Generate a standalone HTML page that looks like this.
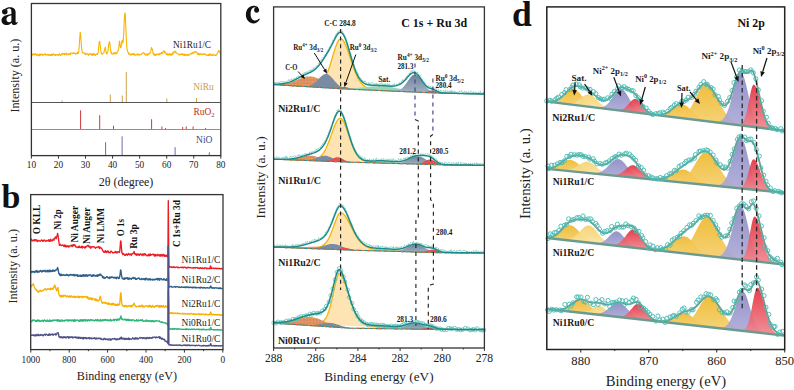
<!DOCTYPE html>
<html><head><meta charset="utf-8"><title>XPS</title>
<style>
html,body{margin:0;padding:0;background:#fff;width:794px;height:390px;overflow:hidden;}
svg{display:block;}
text{font-family:"Liberation Serif",serif;}
</style></head><body>
<svg width="794" height="390" viewBox="0 0 794 390">
<path d="M31.4 54.44 L31.8 54.1 L32.2 55.1 L32.6 53.94 L33 54.87 L33.4 54.53 L33.8 53.91 L34.2 54.81 L34.6 53.87 L35 54.66 L35.4 53.93 L35.8 53.97 L36.2 54.64 L36.6 55.45 L37 54.04 L37.4 54.24 L37.8 55.05 L38.2 55.69 L38.6 54.95 L39 54.59 L39.4 55.75 L39.8 53.89 L40.2 55.51 L40.6 54.37 L41 54.08 L41.4 54.03 L41.8 54.41 L42.2 55.42 L42.6 54.15 L43 54.95 L43.4 55.07 L43.8 54.53 L44.2 54.89 L44.6 53.91 L45 53.91 L45.4 54.2 L45.8 55.15 L46.2 54.64 L46.6 54.41 L47 54.96 L47.4 54.69 L47.8 54.38 L48.2 55.37 L48.6 55.18 L49 54.27 L49.4 54.93 L49.8 54.83 L50.2 55.52 L50.6 55.23 L51 54.34 L51.4 55.72 L51.8 54 L52.2 54.59 L52.6 55.27 L53 54.05 L53.4 54.72 L53.8 53.81 L54.2 55.06 L54.6 55.25 L55 54.86 L55.4 55.45 L55.8 54.32 L56.2 55.07 L56.6 54.86 L57 54.82 L57.4 54.56 L57.8 55.31 L58.2 55.5 L58.6 54.55 L59 54.91 L59.4 53.68 L59.8 54.94 L60.2 54.81 L60.6 55.48 L61 55.12 L61.4 54.02 L61.8 54.19 L62.2 54.73 L62.6 53.41 L63 54.26 L63.4 53.64 L63.8 53.51 L64.2 53.36 L64.6 54.74 L65 53.43 L65.4 53.63 L65.8 53.88 L66.2 54.81 L66.6 53.19 L67 53.89 L67.4 54.06 L67.8 54.69 L68.2 54.53 L68.6 54.58 L69 53.38 L69.4 53.62 L69.8 53.47 L70.2 54.49 L70.6 54.61 L71 52.97 L71.4 52.99 L71.8 53.08 L72.2 53.05 L72.6 53.53 L73 53.72 L73.4 53.05 L73.8 52.51 L74.2 53.32 L74.6 53.2 L75 53.57 L75.4 54.33 L75.8 53.77 L76.2 53.39 L76.6 53.55 L77 53.61 L77.4 52.28 L77.8 53.8 L78.2 53.12 L78.6 52.11 L79 49.14 L79.4 43.27 L79.8 36.97 L80.2 32.2 L80.6 34.83 L81 39.55 L81.4 45.58 L81.8 49.84 L82.2 51.69 L82.6 52.83 L83 52.58 L83.4 52.64 L83.8 53.06 L84.2 53.05 L84.6 53.65 L85 53.04 L85.4 54.79 L85.8 54.33 L86.2 53.44 L86.6 53.69 L87 53.92 L87.4 53.99 L87.8 53.54 L88.2 55.03 L88.6 55.35 L89 54.32 L89.4 54.38 L89.8 53.61 L90.2 53.66 L90.6 54.16 L91 54.02 L91.4 55.16 L91.8 53.84 L92.2 53.58 L92.6 55.44 L93 54.6 L93.4 53.84 L93.8 54.64 L94.2 53.6 L94.6 54.6 L95 55.49 L95.4 55.24 L95.8 54.88 L96.2 53.97 L96.6 54.12 L97 53.61 L97.4 54.58 L97.8 53.44 L98.2 52.31 L98.6 48.28 L99 43.75 L99.4 41.35 L99.8 41.7 L100.2 44.99 L100.6 49.2 L101 52.34 L101.4 53.78 L101.8 53.4 L102.2 54.19 L102.6 53.93 L103 53.23 L103.4 53 L103.8 52.81 L104.2 51.23 L104.6 49.76 L105 48.23 L105.4 47.19 L105.8 50.18 L106.2 52.56 L106.6 53.95 L107 53.32 L107.4 52.89 L107.8 51.99 L108.2 49.77 L108.6 46.19 L109 43.01 L109.4 41.61 L109.8 43.36 L110.2 46.58 L110.6 50.45 L111 52.84 L111.4 52.32 L111.8 53.77 L112.2 54.33 L112.6 54.06 L113 53.94 L113.4 53.34 L113.8 52.67 L114.2 53.82 L114.6 52.83 L115 53.69 L115.4 53.95 L115.8 52.73 L116.2 52.66 L116.6 53.68 L117 53.13 L117.4 51.86 L117.8 51.36 L118.2 50.3 L118.6 49.43 L119 45.63 L119.4 41.12 L119.8 42.38 L120.2 45.54 L120.6 47.65 L121 47.5 L121.4 45.77 L121.8 41.83 L122.2 40.16 L122.6 42.93 L123 42.46 L123.4 38.92 L123.8 32.42 L124.2 21.87 L124.6 14.77 L125 12.76 L125.4 17.06 L125.8 26.76 L126.2 36.45 L126.6 43.64 L127 48.85 L127.4 50.61 L127.8 52.13 L128.2 52.19 L128.6 54.13 L129 53.3 L129.4 53.73 L129.8 54.16 L130.2 54.94 L130.6 54.08 L131 55.16 L131.4 54.39 L131.8 54.51 L132.2 54.53 L132.6 53.55 L133 54.42 L133.4 53.92 L133.8 53.58 L134.2 55.19 L134.6 53.95 L135 54.56 L135.4 55.07 L135.8 54.74 L136.2 54.28 L136.6 54.67 L137 54.75 L137.4 55.21 L137.8 53.85 L138.2 54.75 L138.6 54.12 L139 54.15 L139.4 55.11 L139.8 54.52 L140.2 54.53 L140.6 54.78 L141 54.88 L141.4 53.69 L141.8 53.73 L142.2 53.21 L142.6 52.96 L143 53.14 L143.4 52.62 L143.8 52.89 L144.2 53.01 L144.6 54.23 L145 54.05 L145.4 54.68 L145.8 55.03 L146.2 53.84 L146.6 54.55 L147 55.38 L147.4 55.21 L147.8 53.82 L148.2 53.78 L148.6 54.38 L149 53.56 L149.4 53.68 L149.8 52.88 L150.2 53.16 L150.6 51.96 L151 50.42 L151.4 47.45 L151.8 48.2 L152.2 49.12 L152.6 49.81 L153 52.94 L153.4 54.29 L153.8 53.46 L154.2 55.25 L154.6 54.28 L155 54.52 L155.4 55.56 L155.8 55.27 L156.2 53.94 L156.6 54.49 L157 54.66 L157.4 54.3 L157.8 54.01 L158.2 54.24 L158.6 55.02 L159 53.57 L159.4 54.57 L159.8 54.23 L160.2 53.23 L160.6 53.66 L161 53.98 L161.4 53.43 L161.8 52.17 L162.2 53.63 L162.6 52.87 L163 52.93 L163.4 51.01 L163.8 51.29 L164.2 50.95 L164.6 52.69 L165 52.01 L165.4 52.11 L165.8 53.07 L166.2 54.4 L166.6 54.51 L167 53.62 L167.4 53.58 L167.8 55.25 L168.2 54.64 L168.6 54.96 L169 53.77 L169.4 53.72 L169.8 54.99 L170.2 54.47 L170.6 53.75 L171 55.46 L171.4 54.8 L171.8 55.02 L172.2 53.39 L172.6 54.61 L173 52.55 L173.4 53.53 L173.8 52.05 L174.2 51.24 L174.6 51.37 L175 52.22 L175.4 51.37 L175.8 51.74 L176.2 53.19 L176.6 53.17 L177 53.32 L177.4 53.68 L177.8 53.61 L178.2 54 L178.6 54.27 L179 54.28 L179.4 55.2 L179.8 54.27 L180.2 54.7 L180.6 54.06 L181 54.41 L181.4 53.75 L181.8 54.22 L182.2 53.75 L182.6 55.19 L183 54.83 L183.4 54.1 L183.8 54.68 L184.2 55.59 L184.6 53.94 L185 55.36 L185.4 54.59 L185.8 54.71 L186.2 55.38 L186.6 54.5 L187 54.72 L187.4 55.07 L187.8 55.65 L188.2 54.36 L188.6 55.31 L189 55.03 L189.4 54.84 L189.8 54.32 L190.2 54.12 L190.6 53.42 L191 53.43 L191.4 53.13 L191.8 54.26 L192.2 53.04 L192.6 52.57 L193 52.12 L193.4 53.35 L193.8 53.14 L194.2 52.52 L194.6 51.6 L195 51.47 L195.4 51.62 L195.8 52.1 L196.2 51.71 L196.6 52.56 L197 52.48 L197.4 54.17 L197.8 54.47 L198.2 53.87 L198.6 53.49 L199 55.11 L199.4 53.94 L199.8 54.15 L200.2 53.52 L200.6 54.34 L201 54.57 L201.4 54.66 L201.8 54.08 L202.2 54.71 L202.6 53.72 L203 54.25 L203.4 53.9 L203.8 54.53 L204.2 53.82 L204.6 53.78 L205 54.35 L205.4 54.21 L205.8 54.92 L206.2 54.81 L206.6 55.25 L207 55.07 L207.4 55.19 L207.8 55.51 L208.2 54.54 L208.6 54.41 L209 55.73 L209.4 54.06 L209.8 55.21 L210.2 55.05 L210.6 53.85 L211 55.43 L211.4 55.54 L211.8 55.01 L212.2 55.22 L212.6 55.38 L213 54.03 L213.4 54.79 L213.8 54.75 L214.2 55.4 L214.6 55.34 L215 55.37 L215.4 54.87 L215.8 55.46 L216.2 55 L216.6 54.92 L217 53.77 L217.4 52.92 L217.8 52.38 L218.2 51.85 L218.6 50.4 L219 51.46 L219.4 51.31 L219.8 52.38 L220.2 53.37 L220.6 54.23" fill="none" stroke="#f8b400" stroke-width="1.1" stroke-linejoin="round"/>
<line x1="62.2" y1="102.5" x2="62.2" y2="100.5" stroke="#cfa048" stroke-width="1"/>
<line x1="110.3" y1="102.5" x2="110.3" y2="94.5" stroke="#cfa048" stroke-width="1"/>
<line x1="122.3" y1="102.5" x2="122.3" y2="95.5" stroke="#cfa048" stroke-width="1"/>
<line x1="126.3" y1="102.5" x2="126.3" y2="72.1" stroke="#cfa048" stroke-width="1"/>
<line x1="166.8" y1="102.5" x2="166.8" y2="98.5" stroke="#cfa048" stroke-width="1"/>
<line x1="196.5" y1="102.5" x2="196.5" y2="98" stroke="#cfa048" stroke-width="1"/>
<line x1="208" y1="102.5" x2="208" y2="101.5" stroke="#cfa048" stroke-width="1"/>
<line x1="80.6" y1="129.5" x2="80.6" y2="110.3" stroke="#cc3a3a" stroke-width="1"/>
<line x1="99.7" y1="129.5" x2="99.7" y2="115.2" stroke="#cc3a3a" stroke-width="1"/>
<line x1="113.5" y1="129.5" x2="113.5" y2="125.8" stroke="#cc3a3a" stroke-width="1"/>
<line x1="151.6" y1="129.5" x2="151.6" y2="119.2" stroke="#cc3a3a" stroke-width="1"/>
<line x1="161.9" y1="129.5" x2="161.9" y2="126.5" stroke="#cc3a3a" stroke-width="1"/>
<line x1="165.6" y1="129.5" x2="165.6" y2="128" stroke="#cc3a3a" stroke-width="1"/>
<line x1="182.7" y1="129.5" x2="182.7" y2="127" stroke="#cc3a3a" stroke-width="1"/>
<line x1="186.2" y1="129.5" x2="186.2" y2="126.5" stroke="#cc3a3a" stroke-width="1"/>
<line x1="193.1" y1="129.5" x2="193.1" y2="126.5" stroke="#cc3a3a" stroke-width="1"/>
<line x1="205.6" y1="129.5" x2="205.6" y2="128" stroke="#cc3a3a" stroke-width="1"/>
<line x1="105.6" y1="155.3" x2="105.6" y2="142.2" stroke="#6a70a8" stroke-width="1"/>
<line x1="122.1" y1="155.3" x2="122.1" y2="136.3" stroke="#6a70a8" stroke-width="1"/>
<line x1="175.1" y1="155.3" x2="175.1" y2="147.2" stroke="#6a70a8" stroke-width="1"/>
<line x1="209.3" y1="155.3" x2="209.3" y2="152.3" stroke="#6a70a8" stroke-width="1"/>
<line x1="31.4" y1="102.5" x2="220.8" y2="102.5" stroke="#555" stroke-width="1"/>
<line x1="31.4" y1="129.5" x2="220.8" y2="129.5" stroke="#8a8ea6" stroke-width="1"/>
<rect x="31.4" y="3.5" width="189.4" height="152.1" fill="none" stroke="#333" stroke-width="1.3"/>
<line x1="31.4" y1="155.6" x2="31.4" y2="158.6" stroke="#333" stroke-width="1"/>
<text x="31.4" y="167.6" font-size="9.3" text-anchor="middle" font-weight="normal" fill="#222" >10</text>
<line x1="58.46" y1="155.6" x2="58.46" y2="158.6" stroke="#333" stroke-width="1"/>
<text x="58.46" y="167.6" font-size="9.3" text-anchor="middle" font-weight="normal" fill="#222" >20</text>
<line x1="85.51" y1="155.6" x2="85.51" y2="158.6" stroke="#333" stroke-width="1"/>
<text x="85.51" y="167.6" font-size="9.3" text-anchor="middle" font-weight="normal" fill="#222" >30</text>
<line x1="112.57" y1="155.6" x2="112.57" y2="158.6" stroke="#333" stroke-width="1"/>
<text x="112.57" y="167.6" font-size="9.3" text-anchor="middle" font-weight="normal" fill="#222" >40</text>
<line x1="139.63" y1="155.6" x2="139.63" y2="158.6" stroke="#333" stroke-width="1"/>
<text x="139.63" y="167.6" font-size="9.3" text-anchor="middle" font-weight="normal" fill="#222" >50</text>
<line x1="166.69" y1="155.6" x2="166.69" y2="158.6" stroke="#333" stroke-width="1"/>
<text x="166.69" y="167.6" font-size="9.3" text-anchor="middle" font-weight="normal" fill="#222" >60</text>
<line x1="193.74" y1="155.6" x2="193.74" y2="158.6" stroke="#333" stroke-width="1"/>
<text x="193.74" y="167.6" font-size="9.3" text-anchor="middle" font-weight="normal" fill="#222" >70</text>
<line x1="220.8" y1="155.6" x2="220.8" y2="158.6" stroke="#333" stroke-width="1"/>
<text x="220.8" y="167.6" font-size="9.3" text-anchor="middle" font-weight="normal" fill="#222" >80</text>
<text x="126" y="186" font-size="12" text-anchor="middle" font-weight="normal" fill="#222" >2&#952; (degree)</text>
<text x="173" y="47.5" font-size="9.5" text-anchor="start" font-weight="normal" fill="#222" textLength="38" lengthAdjust="spacingAndGlyphs" >Ni1Ru1/C</text>
<text x="193.3" y="90" font-size="9.5" text-anchor="start" font-weight="normal" fill="#c8a050" textLength="20.4" lengthAdjust="spacingAndGlyphs" >NiRu</text>
<text x="193.5" y="115.2" font-size="10" text-anchor="start" font-weight="normal" fill="#b82c2c" textLength="21" lengthAdjust="spacingAndGlyphs" >RuO<tspan font-size="7" dy="2.2">2</tspan></text>
<text x="196" y="143.3" font-size="9.8" text-anchor="start" font-weight="normal" fill="#464c78" textLength="16.5" lengthAdjust="spacingAndGlyphs" >NiO</text>
<path fill-rule="evenodd" fill="#111" d="M4.6 9.2 C6.2 7.9 8.0 7.3 9.6 7.3 C13.6 7.3 15.6 9.2 15.6 12.5 L15.6 21.2 C15.6 22.2 15.9 22.6 16.5 22.6 C16.9 22.6 17.2 22.4 17.5 22.1 L17.9 22.6 C17.0 24.3 15.8 25.1 14.4 25.1 C12.8 25.1 11.8 24.1 11.5 22.7 C10.3 24.2 8.7 25.1 6.6 25.1 C3.6 25.1 1.5 23.0 1.5 20.3 C1.5 17.6 3.4 15.9 7.0 15.0 L11.4 13.9 L11.4 11.8 C11.4 9.7 10.6 8.6 9.2 8.6 C8.2 8.6 7.5 9.0 7.0 9.7 Z M11.4 15.3 L11.4 21.0 C10.8 21.9 10.0 22.3 9.2 22.3 C7.6 22.3 6.4 21.2 6.4 19.3 C6.4 17.5 7.6 16.3 11.4 15.3 Z"/><circle cx="4.8" cy="11.7" r="2.75" fill="#111"/>
<text transform="translate(18.6 75.6) rotate(-90)" font-size="12.2" text-anchor="middle" fill="#222" textLength="73.8" lengthAdjust="spacingAndGlyphs">Intensity (a. u.)</text>
<path d="M31 240.18 L31.45 239.23 L31.9 240.84 L32.35 240.77 L32.8 240.31 L33.25 240.4 L33.7 240.67 L34.15 239.51 L34.6 240.88 L35.05 239.93 L35.5 239.6 L35.95 240.01 L36.4 240.96 L36.85 239.94 L37.3 241.04 L37.75 241.53 L38.2 240.59 L38.65 240.4 L39.1 240.62 L39.55 241.05 L40 241.24 L40.45 240.97 L40.9 241.05 L41.35 239.94 L41.8 240.11 L42.25 240.34 L42.7 241.35 L43.15 240.5 L43.6 241.05 L44.05 239.96 L44.5 240.08 L44.95 240.52 L45.4 241.28 L45.85 241.27 L46.3 241.18 L46.75 240.35 L47.2 240.74 L47.65 240.58 L48.1 240.53 L48.55 239.77 L49 241.27 L49.45 239.82 L49.9 241.32 L50.35 241.17 L50.8 239.28 L51.25 240.1 L51.7 240.75 L52.15 240.99 L52.6 239.88 L53.05 239.43 L53.5 239.17 L53.95 240.36 L54.4 238.39 L54.85 238.42 L55.3 236.94 L55.75 237.61 L56.2 238.71 L56.65 236.62 L57.1 236 L57.55 233.36 L58 234.98 L58.45 238.78 L58.9 241.65 L59.35 245.19 L59.8 245.26 L60.25 244.46 L60.7 244.49 L61.15 245.52 L61.6 245.49 L62.05 245.24 L62.5 244.96 L62.95 245.41 L63.4 245.4 L63.85 246.49 L64.3 244.85 L64.75 246.38 L65.2 246.6 L65.65 245.2 L66.1 246.85 L66.55 246.45 L67 246.87 L67.45 245.68 L67.9 245.88 L68.35 245.95 L68.8 247.19 L69.25 246.4 L69.7 245.96 L70.15 246.1 L70.6 245.77 L71.05 245.26 L71.5 245.25 L71.95 246.56 L72.4 245.25 L72.85 246.32 L73.3 244.75 L73.75 244.67 L74.2 245.18 L74.65 244.7 L75.1 245.32 L75.55 246.78 L76 246.92 L76.45 247.01 L76.9 246.83 L77.35 247.53 L77.8 247.68 L78.25 246.97 L78.7 247.36 L79.15 246.06 L79.6 247.46 L80.05 246.94 L80.5 247.57 L80.95 247.39 L81.4 246.7 L81.85 246.26 L82.3 248.05 L82.75 246.47 L83.2 247.19 L83.65 246.95 L84.1 246.86 L84.55 247.72 L85 248.13 L85.45 246.59 L85.9 247.22 L86.35 246.28 L86.8 246.53 L87.25 245.97 L87.7 245.36 L88.15 245.32 L88.6 245.53 L89.05 247.14 L89.5 246.58 L89.95 246.28 L90.4 247.86 L90.85 248.2 L91.3 247.22 L91.75 246.66 L92.2 246.81 L92.65 246.62 L93.1 247.14 L93.55 246.64 L94 246.94 L94.45 246.98 L94.9 247.61 L95.35 248.24 L95.8 247.97 L96.25 247.29 L96.7 247.29 L97.15 247.51 L97.6 247.21 L98.05 247.12 L98.5 246.55 L98.95 246.91 L99.4 248.5 L99.85 246.86 L100.3 247.45 L100.75 247.6 L101.2 248.48 L101.65 248.15 L102.1 249.34 L102.55 250.19 L103 251.15 L103.45 251.34 L103.9 252.41 L104.35 252.24 L104.8 252.33 L105.25 250.66 L105.7 250.71 L106.15 252.09 L106.6 252.5 L107.05 251.68 L107.5 251.94 L107.95 250.79 L108.4 251.6 L108.85 252.7 L109.3 252.53 L109.75 252.62 L110.2 252.88 L110.65 251.46 L111.1 251.21 L111.55 251.33 L112 252.09 L112.45 252.44 L112.9 252.98 L113.35 252.57 L113.8 252.45 L114.25 252.71 L114.7 252.12 L115.15 252.33 L115.6 251.33 L116.05 252.83 L116.5 251.75 L116.95 253.15 L117.4 252.61 L117.85 251.93 L118.3 251.57 L118.75 251.78 L119.2 252.52 L119.65 252 L120.1 247.28 L120.55 240.85 L121 241.49 L121.45 248.44 L121.9 252.64 L122.35 253.51 L122.8 254.48 L123.25 253.37 L123.7 253.99 L124.15 254.34 L124.6 255.35 L125.05 254.73 L125.5 255.22 L125.95 254.41 L126.4 253.93 L126.85 253.96 L127.3 255.39 L127.75 254.88 L128.2 254.09 L128.65 253.52 L129.1 254.47 L129.55 254.82 L130 254.31 L130.45 253.98 L130.9 254.8 L131.35 255.31 L131.8 253.9 L132.25 253.46 L132.7 253.86 L133.15 253.4 L133.6 252.88 L134.05 251.4 L134.5 253.34 L134.95 254.22 L135.4 254.27 L135.85 253.82 L136.3 255.39 L136.75 254.09 L137.2 255.11 L137.65 253.94 L138.1 253.92 L138.55 255.01 L139 254.08 L139.45 255.39 L139.9 254.48 L140.35 253.88 L140.8 253.97 L141.25 254.38 L141.7 254.89 L142.15 255.48 L142.6 253.89 L143.05 254.4 L143.5 254.06 L143.95 255.6 L144.4 253.96 L144.85 253.79 L145.3 253.83 L145.75 254.51 L146.2 255.54 L146.65 255.53 L147.1 255.25 L147.55 255.79 L148 255.68 L148.45 254.49 L148.9 254.22 L149.35 255.74 L149.8 255.38 L150.25 253.97 L150.7 255.25 L151.15 254.7 L151.6 254.71 L152.05 254.64 L152.5 254.34 L152.95 254.02 L153.4 254.59 L153.85 254.75 L154.3 255.98 L154.75 254.34 L155.2 256.03 L155.65 254.54 L156.1 254.86 L156.55 255.8 L157 255.82 L157.45 255.06 L157.9 254.31 L158.35 255.18 L158.8 255 L159.25 256.11 L159.7 254.67 L160.15 255.03 L160.6 256.12 L161.05 254.4 L161.5 255.18 L161.95 256 L162.4 255.93 L162.85 254.49 L163.3 254.5 L163.75 254.57 L164.2 256.31 L164.65 255 L165.1 256 L165.55 256.32 L166 255.22 L166.45 255.1 L166.9 256.49 L167.35 255.83 L167.9 257.12 L168.3 200.6 L168.9 267 L169.5 266.8 L169.95 267.23 L170.4 266.88 L170.85 266.86 L171.3 266.63 L171.75 267.32 L172.2 267.48 L172.65 267.24 L173.1 267.54 L173.55 266.72 L174 266.93 L174.45 267.16 L174.9 267.61 L175.35 267.62 L175.8 267.12 L176.25 267.02 L176.7 267.19 L177.15 267.27 L177.6 267.67 L178.05 267.02 L178.5 267.59 L178.95 267.55 L179.4 267.64 L179.85 267.61 L180.3 267.47 L180.75 267.24 L181.2 267.24 L181.65 267.3 L182.1 267.69 L182.55 267.07 L183 267.19 L183.45 267.71 L183.9 267.27 L184.35 267.12 L184.8 267.11 L185.25 267.59 L185.7 267.4 L186.15 268 L186.6 267.93 L187.05 268.04 L187.5 267.41 L187.95 267.26 L188.4 267.28 L188.85 267.66 L189.3 267.87 L189.75 267.64 L190.2 267.47 L190.65 267.65 L191.1 267.84 L191.55 267.91 L192 267.99 L192.45 268.09 L192.9 267.94 L193.35 267.47 L193.8 268.13 L194.25 267.66 L194.7 267.92 L195.15 267.76 L195.6 268.1 L196.05 267.63 L196.5 267.69 L196.95 267.7 L197.4 267.63 L197.85 268.31 L198.3 268.05 L198.75 267.84 L199.2 267.91 L199.65 268.46 L200.1 268.04 L200.55 267.81 L201 268.34 L201.45 268.22 L201.9 268.54 L202.35 267.75 L202.8 268.1 L203.25 268.43 L203.7 268.46 L204.15 268.54 L204.6 267.77 L205.05 268.02 L205.5 267.87 L205.95 267.95 L206.4 268.67 L206.85 268.34 L207.3 268.66 L207.75 268.18 L208.2 268.64 L208.65 268.28 L209.1 268.12 L209.55 268.6 L210 268.77 L210.45 266.03 L210.9 266.48 L211.35 268.52 L211.8 268.17 L212.25 268.32 L212.7 268.13 L213.15 268.21 L213.6 268.27 L214.05 268.59 L214.5 268.65 L214.95 268.26 L215.4 268.11 L215.85 268.41 L216.3 268.74 L216.75 268.31 L217.2 268.44 L217.65 268.35 L218.1 268.9 L218.55 268.69 L219 268.27 L219.45 268.32 L219.9 268.6 L220.35 268.76 L220.8 268.85 L221.25 268.37 L221.7 268.45 L222.15 268.95 L222.6 268.71" fill="none" stroke="#ec1c24" stroke-width="1.35" stroke-linejoin="round"/>
<path d="M31 271.39 L31.45 271.41 L31.9 272.62 L32.35 271.38 L32.8 271.84 L33.25 271.42 L33.7 271.51 L34.15 272.33 L34.6 272.56 L35.05 271.34 L35.5 271 L35.95 271.98 L36.4 270.97 L36.85 270.57 L37.3 272.25 L37.75 271.32 L38.2 272.05 L38.65 271.24 L39.1 272.12 L39.55 271.3 L40 270.71 L40.45 270.4 L40.9 271.4 L41.35 271.55 L41.8 272.04 L42.25 270.45 L42.7 271.45 L43.15 270.95 L43.6 271.18 L44.05 270.47 L44.5 270.71 L44.95 271.14 L45.4 271.89 L45.85 270.31 L46.3 271.01 L46.75 271.59 L47.2 271.87 L47.65 270.39 L48.1 270.23 L48.55 271.76 L49 271.8 L49.45 270.84 L49.9 270 L50.35 271.64 L50.8 270.59 L51.25 271.55 L51.7 270.98 L52.15 271.35 L52.6 270.06 L53.05 271.23 L53.5 270.13 L53.95 270.45 L54.4 271.26 L54.85 271.19 L55.3 269.93 L55.75 269.94 L56.2 270.15 L56.65 269.91 L57.1 268.68 L57.55 267.55 L58 268.45 L58.45 271.5 L58.9 273.82 L59.35 273.47 L59.8 275.03 L60.25 275.45 L60.7 274.11 L61.15 275.65 L61.6 274.3 L62.05 275.23 L62.5 275.15 L62.95 275.31 L63.4 274.71 L63.85 274.94 L64.3 275.26 L64.75 274.98 L65.2 275.43 L65.65 275.04 L66.1 275.04 L66.55 274.26 L67 275.4 L67.45 275.17 L67.9 274.7 L68.35 275.71 L68.8 275.75 L69.25 275.15 L69.7 274.64 L70.15 275.2 L70.6 274.52 L71.05 274.57 L71.5 275.16 L71.95 274.52 L72.4 275.2 L72.85 275.34 L73.3 274.46 L73.75 275.6 L74.2 274.56 L74.65 275.81 L75.1 275.91 L75.55 275.41 L76 274.55 L76.45 275.42 L76.9 275.19 L77.35 276.29 L77.8 274.75 L78.25 276.13 L78.7 276.41 L79.15 275.92 L79.6 276.09 L80.05 274.92 L80.5 276.41 L80.95 275.48 L81.4 276.37 L81.85 276.29 L82.3 274.86 L82.75 276.05 L83.2 276.32 L83.65 274.67 L84.1 275.21 L84.55 275.98 L85 274.85 L85.45 276.25 L85.9 275.07 L86.35 276.1 L86.8 274.82 L87.25 275.5 L87.7 276.29 L88.15 274.94 L88.6 275.04 L89.05 275.51 L89.5 275.15 L89.95 274.61 L90.4 274.89 L90.85 274.85 L91.3 276.32 L91.75 275.83 L92.2 276.24 L92.65 274.86 L93.1 276.03 L93.55 274.76 L94 275.54 L94.45 275.74 L94.9 275.22 L95.35 276.19 L95.8 275.58 L96.25 275.62 L96.7 276.19 L97.15 274.7 L97.6 276.35 L98.05 275.59 L98.5 274.98 L98.95 275.44 L99.4 274.16 L99.85 275.25 L100.3 274.34 L100.75 274.17 L101.2 275.55 L101.65 275.68 L102.1 275.85 L102.55 277.44 L103 276.5 L103.45 278.04 L103.9 277.01 L104.35 277.77 L104.8 278.45 L105.25 277.71 L105.7 277.87 L106.15 277.22 L106.6 276.65 L107.05 276.72 L107.5 276.96 L107.95 277.86 L108.4 277.53 L108.85 277.69 L109.3 278.44 L109.75 277 L110.2 277.2 L110.65 278.02 L111.1 276.83 L111.55 276.81 L112 277.49 L112.45 277.03 L112.9 277.52 L113.35 277.29 L113.8 277.98 L114.25 278 L114.7 277.28 L115.15 278.09 L115.6 277.82 L116.05 277.19 L116.5 278.72 L116.95 277.41 L117.4 277.23 L117.85 277.13 L118.3 278.15 L118.75 278.56 L119.2 278.32 L119.65 277.08 L120.1 274.48 L120.55 269.89 L121 270.81 L121.45 274.84 L121.9 277.21 L122.35 278.51 L122.8 278.27 L123.25 279.26 L123.7 278.91 L124.15 278.02 L124.6 279.28 L125.05 277.67 L125.5 278.61 L125.95 278.39 L126.4 278.08 L126.85 277.75 L127.3 279.14 L127.75 277.69 L128.2 278.73 L128.65 279.48 L129.1 277.97 L129.55 278.09 L130 278.88 L130.45 278.69 L130.9 278.96 L131.35 279.29 L131.8 278.08 L132.25 278.32 L132.7 278.22 L133.15 277.45 L133.6 278.55 L134.05 278.12 L134.5 278.36 L134.95 277.5 L135.4 279.35 L135.85 279.25 L136.3 278.74 L136.75 279.28 L137.2 278.75 L137.65 278.33 L138.1 278.12 L138.55 278.37 L139 278.01 L139.45 278.59 L139.9 279.39 L140.35 279.29 L140.8 279.59 L141.25 279.35 L141.7 278.51 L142.15 279.07 L142.6 278.85 L143.05 279.53 L143.5 279.04 L143.95 278.56 L144.4 279.29 L144.85 279.91 L145.3 278.5 L145.75 279.77 L146.2 278.14 L146.65 278.62 L147.1 278.58 L147.55 279.56 L148 279.95 L148.45 279.58 L148.9 278.8 L149.35 279.86 L149.8 278.82 L150.25 278.66 L150.7 279.94 L151.15 279.42 L151.6 279.55 L152.05 279.51 L152.5 280.12 L152.95 279.16 L153.4 279.87 L153.85 279.62 L154.3 279.93 L154.75 279.14 L155.2 279.7 L155.65 279.42 L156.1 278.93 L156.55 278.76 L157 279.55 L157.45 278.52 L157.9 280.11 L158.35 278.67 L158.8 278.46 L159.25 278.62 L159.7 280.19 L160.15 279.09 L160.6 278.72 L161.05 278.51 L161.5 278.55 L161.95 279.79 L162.4 279.69 L162.85 279.82 L163.3 279.91 L163.75 278.65 L164.2 279.65 L164.65 279.23 L165.1 280.11 L165.55 280.12 L166 280.27 L166.45 278.71 L166.9 280.24 L167.35 280.34 L167.9 281.07 L168.3 246 L168.9 286.8 L169.5 287.19 L169.95 286.49 L170.4 286.59 L170.85 286.52 L171.3 286.47 L171.75 287.17 L172.2 287.16 L172.65 287.02 L173.1 287.19 L173.55 287.04 L174 286.76 L174.45 286.61 L174.9 286.62 L175.35 287.2 L175.8 286.74 L176.25 286.85 L176.7 286.95 L177.15 286.62 L177.6 286.83 L178.05 286.87 L178.5 287.25 L178.95 286.96 L179.4 286.94 L179.85 287.5 L180.3 287.12 L180.75 287.43 L181.2 287.24 L181.65 286.75 L182.1 287.09 L182.55 287.12 L183 287.42 L183.45 287.07 L183.9 287.39 L184.35 287.26 L184.8 287 L185.25 287.56 L185.7 286.91 L186.15 287.55 L186.6 287.01 L187.05 286.87 L187.5 287.06 L187.95 287.55 L188.4 287.75 L188.85 286.93 L189.3 287.36 L189.75 287.37 L190.2 287.64 L190.65 287.13 L191.1 287.41 L191.55 287.3 L192 287.72 L192.45 287.25 L192.9 287.84 L193.35 287.29 L193.8 287.24 L194.25 287.67 L194.7 287.51 L195.15 287.19 L195.6 287.66 L196.05 287.19 L196.5 287.81 L196.95 287.74 L197.4 287.83 L197.85 287.71 L198.3 287.49 L198.75 287.54 L199.2 287.55 L199.65 287.99 L200.1 287.31 L200.55 288.01 L201 287.28 L201.45 287.45 L201.9 287.51 L202.35 288.07 L202.8 287.74 L203.25 287.65 L203.7 288.09 L204.15 287.55 L204.6 287.76 L205.05 287.83 L205.5 288.03 L205.95 288.04 L206.4 287.96 L206.85 287.72 L207.3 287.72 L207.75 287.58 L208.2 288.18 L208.65 288.04 L209.1 288.12 L209.55 287.64 L210 287.89 L210.45 286.19 L210.9 286.03 L211.35 287.66 L211.8 287.96 L212.25 288.33 L212.7 287.79 L213.15 287.76 L213.6 287.87 L214.05 288.23 L214.5 288.36 L214.95 287.78 L215.4 287.79 L215.85 287.89 L216.3 287.97 L216.75 288.15 L217.2 287.85 L217.65 288 L218.1 287.9 L218.55 288.58 L219 288.38 L219.45 287.86 L219.9 288.61 L220.35 287.89 L220.8 288.14 L221.25 288.67 L221.7 288.52 L222.15 288.48 L222.6 288.23" fill="none" stroke="#2e5f8a" stroke-width="1.35" stroke-linejoin="round"/>
<path d="M31 285.64 L31.45 286.58 L31.9 285.33 L32.35 285.07 L32.8 284.85 L33.25 283.79 L33.7 284.8 L34.15 286.53 L34.6 287.55 L35.05 288.29 L35.5 289.42 L35.95 289.69 L36.4 289.5 L36.85 290.8 L37.3 290.74 L37.75 291.75 L38.2 292.21 L38.65 291.14 L39.1 291.3 L39.55 291.52 L40 290.74 L40.45 290.23 L40.9 291.09 L41.35 291.28 L41.8 290.94 L42.25 290.67 L42.7 290.84 L43.15 290.37 L43.6 290.17 L44.05 289.66 L44.5 289.25 L44.95 289.75 L45.4 288.63 L45.85 289.23 L46.3 289.9 L46.75 289.71 L47.2 289.49 L47.65 288.68 L48.1 288.98 L48.55 288.99 L49 289.27 L49.45 288.79 L49.9 289.27 L50.35 289.73 L50.8 288.18 L51.25 289.06 L51.7 289.25 L52.15 288.4 L52.6 288.53 L53.05 289.39 L53.5 287.24 L53.95 287.37 L54.4 285.29 L54.85 285.29 L55.3 286.64 L55.75 288.42 L56.2 289.49 L56.65 290.76 L57.1 289.33 L57.55 287.69 L58 287.7 L58.45 291.1 L58.9 294.34 L59.35 295.27 L59.8 295.64 L60.25 296.81 L60.7 295.38 L61.15 296.37 L61.6 295.82 L62.05 296.6 L62.5 295.35 L62.95 297.1 L63.4 295.87 L63.85 295.29 L64.3 295.75 L64.75 296.03 L65.2 295.28 L65.65 296.11 L66.1 296.14 L66.55 296.72 L67 296.05 L67.45 295.9 L67.9 295.84 L68.35 296.9 L68.8 297.32 L69.25 296.51 L69.7 295.92 L70.15 297.11 L70.6 296.31 L71.05 295.97 L71.5 295.83 L71.95 297.15 L72.4 297.23 L72.85 296.91 L73.3 296.6 L73.75 296.81 L74.2 296.16 L74.65 297.65 L75.1 296.45 L75.55 297.05 L76 297.43 L76.45 297.44 L76.9 296.77 L77.35 296.44 L77.8 296.97 L78.25 296.14 L78.7 297.58 L79.15 296.64 L79.6 297.66 L80.05 296.51 L80.5 296.81 L80.95 296.63 L81.4 297.04 L81.85 296.62 L82.3 296.29 L82.75 297.74 L83.2 296.83 L83.65 296.67 L84.1 296.64 L84.55 296.83 L85 296.55 L85.45 296.84 L85.9 296.86 L86.35 296.38 L86.8 297.76 L87.25 297.93 L87.7 296.68 L88.15 298.54 L88.6 298.96 L89.05 298.93 L89.5 297.81 L89.95 299.32 L90.4 299.03 L90.85 297.89 L91.3 297.97 L91.75 299.94 L92.2 299.43 L92.65 298.7 L93.1 298.48 L93.55 298.64 L94 298.9 L94.45 300.07 L94.9 299.28 L95.35 298.97 L95.8 300.55 L96.25 300.4 L96.7 299.22 L97.15 300.78 L97.6 300.41 L98.05 300.91 L98.5 300.68 L98.95 300.64 L99.4 299.17 L99.85 297.72 L100.3 296.09 L100.75 298.62 L101.2 300.31 L101.65 302.09 L102.1 302.16 L102.55 303.41 L103 303.02 L103.45 302.52 L103.9 302.53 L104.35 302.4 L104.8 303.17 L105.25 302.36 L105.7 303.24 L106.15 302.66 L106.6 303.41 L107.05 303.48 L107.5 303.62 L107.95 304.32 L108.4 302.67 L108.85 304.39 L109.3 303.71 L109.75 303.95 L110.2 304.21 L110.65 304.62 L111.1 303.74 L111.55 303.89 L112 305.03 L112.45 303.31 L112.9 304.49 L113.35 304.54 L113.8 303.38 L114.25 304.6 L114.7 304.8 L115.15 305.35 L115.6 304.2 L116.05 305.55 L116.5 304.65 L116.95 304.64 L117.4 305.51 L117.85 303.81 L118.3 305.2 L118.75 305 L119.2 304.34 L119.65 304.56 L120.1 299.73 L120.55 293.21 L121 292.86 L121.45 300.28 L121.9 303.76 L122.35 305.43 L122.8 305.62 L123.25 305.97 L123.7 306.56 L124.15 305.52 L124.6 306.62 L125.05 305.79 L125.5 306 L125.95 305.55 L126.4 306.03 L126.85 306.97 L127.3 306.34 L127.75 306.62 L128.2 305.71 L128.65 305.69 L129.1 305.66 L129.55 306.24 L130 306.34 L130.45 306.64 L130.9 305.15 L131.35 306.52 L131.8 306.84 L132.25 306.14 L132.7 305.08 L133.15 305.27 L133.6 303.88 L134.05 303.24 L134.5 304.63 L134.95 304.98 L135.4 305.95 L135.85 306.58 L136.3 306.92 L136.75 306.35 L137.2 306.38 L137.65 306.41 L138.1 306.56 L138.55 306.37 L139 306.54 L139.45 305.61 L139.9 306.53 L140.35 306.12 L140.8 306.73 L141.25 305.42 L141.7 305.58 L142.15 305.3 L142.6 306.78 L143.05 307.07 L143.5 306.56 L143.95 305.99 L144.4 306.9 L144.85 306.83 L145.3 306.39 L145.75 305.79 L146.2 305.88 L146.65 306.13 L147.1 305.93 L147.55 306.15 L148 306.58 L148.45 307.17 L148.9 305.42 L149.35 306.45 L149.8 305.4 L150.25 305.56 L150.7 306.95 L151.15 306.49 L151.6 307.18 L152.05 306.24 L152.5 305.38 L152.95 306.13 L153.4 306.55 L153.85 307.24 L154.3 307.34 L154.75 306.33 L155.2 306.21 L155.65 305.59 L156.1 306.68 L156.55 305.82 L157 305.71 L157.45 305.44 L157.9 305.43 L158.35 306.79 L158.8 305.67 L159.25 307.36 L159.7 305.61 L160.15 307.18 L160.6 305.71 L161.05 305.49 L161.5 306.9 L161.95 305.95 L162.4 306.94 L162.85 305.85 L163.3 305.58 L163.75 307.03 L164.2 306.92 L164.65 307.21 L165.1 306.96 L165.55 305.67 L166 306.77 L166.45 306.93 L166.9 306.44 L167.35 307.39 L167.9 308.03 L168.3 270 L168.9 313.1 L169.5 312.9 L169.95 313.55 L170.4 313.34 L170.85 312.73 L171.3 312.74 L171.75 313.33 L172.2 313.5 L172.65 312.85 L173.1 313.07 L173.55 313.47 L174 312.98 L174.45 313.62 L174.9 313.3 L175.35 312.93 L175.8 313.22 L176.25 313.42 L176.7 313.32 L177.15 313.55 L177.6 313.08 L178.05 313.69 L178.5 313.31 L178.95 313.58 L179.4 313.58 L179.85 313.41 L180.3 313.39 L180.75 313.77 L181.2 313.93 L181.65 313.8 L182.1 313.62 L182.55 313.39 L183 313.2 L183.45 314.03 L183.9 313.81 L184.35 313.93 L184.8 313.5 L185.25 313.77 L185.7 314.12 L186.15 314 L186.6 313.81 L187.05 313.56 L187.5 313.69 L187.95 314.12 L188.4 313.67 L188.85 313.96 L189.3 313.91 L189.75 314.19 L190.2 314.12 L190.65 313.67 L191.1 313.43 L191.55 313.68 L192 313.84 L192.45 314 L192.9 314.23 L193.35 314.31 L193.8 313.56 L194.25 314.29 L194.7 314.28 L195.15 314.35 L195.6 314.1 L196.05 313.85 L196.5 314.38 L196.95 314.36 L197.4 314.27 L197.85 314.49 L198.3 313.99 L198.75 313.77 L199.2 314.21 L199.65 314.45 L200.1 313.92 L200.55 314.44 L201 314.61 L201.45 314 L201.9 314.35 L202.35 314.43 L202.8 314.26 L203.25 314.04 L203.7 314.1 L204.15 314.56 L204.6 314.62 L205.05 314.33 L205.5 314.01 L205.95 314.68 L206.4 314.66 L206.85 314.19 L207.3 314.52 L207.75 314.82 L208.2 314.83 L208.65 314.51 L209.1 314.49 L209.55 314.61 L210 314.26 L210.45 312.28 L210.9 312.29 L211.35 314.77 L211.8 314.48 L212.25 314.68 L212.7 314.55 L213.15 314.67 L213.6 314.35 L214.05 314.28 L214.5 315.15 L214.95 314.6 L215.4 314.38 L215.85 314.87 L216.3 315.02 L216.75 314.47 L217.2 314.88 L217.65 314.67 L218.1 314.85 L218.55 314.41 L219 314.44 L219.45 315.32 L219.9 315.22 L220.35 314.89 L220.8 314.98 L221.25 314.72 L221.7 315.21 L222.15 314.9 L222.6 315.39" fill="none" stroke="#f7b000" stroke-width="1.35" stroke-linejoin="round"/>
<path d="M31 321.25 L31.45 321.34 L31.9 321.58 L32.35 320.37 L32.8 320 L33.25 320.28 L33.7 320.24 L34.15 320.07 L34.6 320.01 L35.05 320.87 L35.5 321.4 L35.95 320.69 L36.4 321.52 L36.85 321.45 L37.3 320.01 L37.75 320.92 L38.2 320.57 L38.65 320.1 L39.1 321.52 L39.55 320.33 L40 320.84 L40.45 320.97 L40.9 321.5 L41.35 321.01 L41.8 320.54 L42.25 320.63 L42.7 320.14 L43.15 321.5 L43.6 321.54 L44.05 320.23 L44.5 319.92 L44.95 320.28 L45.4 320.44 L45.85 321.38 L46.3 321.38 L46.75 321.26 L47.2 319.91 L47.65 321.17 L48.1 321.03 L48.55 320.92 L49 321.49 L49.45 319.91 L49.9 320.06 L50.35 321.09 L50.8 321.4 L51.25 320.95 L51.7 320.31 L52.15 320.8 L52.6 321.08 L53.05 319.97 L53.5 320.34 L53.95 320.22 L54.4 319.99 L54.85 320.6 L55.3 320.06 L55.75 320.18 L56.2 320.01 L56.65 320.92 L57.1 319.78 L57.55 320.98 L58 320.09 L58.45 319.81 L58.9 321.32 L59.35 320.12 L59.8 321.33 L60.25 321.21 L60.7 321.25 L61.15 319.97 L61.6 320.49 L62.05 319.89 L62.5 321.3 L62.95 321.15 L63.4 320.78 L63.85 320.48 L64.3 320.29 L64.75 321.1 L65.2 320.51 L65.65 320.77 L66.1 319.94 L66.55 320.07 L67 319.79 L67.45 320.9 L67.9 320.62 L68.35 319.93 L68.8 321.16 L69.25 320.13 L69.7 320.37 L70.15 319.93 L70.6 320.12 L71.05 321.09 L71.5 320.23 L71.95 319.94 L72.4 320.48 L72.85 320.19 L73.3 321.18 L73.75 319.83 L74.2 321.3 L74.65 319.73 L75.1 321.15 L75.55 320.76 L76 319.98 L76.45 320.43 L76.9 320.1 L77.35 320.05 L77.8 319.95 L78.25 320.23 L78.7 321.29 L79.15 321.3 L79.6 321.17 L80.05 319.76 L80.5 320.08 L80.95 321.11 L81.4 319.68 L81.85 320.82 L82.3 320.08 L82.75 321.24 L83.2 319.6 L83.65 320.94 L84.1 320.14 L84.55 319.8 L85 319.56 L85.45 320.97 L85.9 320.45 L86.35 319.86 L86.8 320.29 L87.25 321.09 L87.7 319.91 L88.15 320.51 L88.6 319.77 L89.05 319.84 L89.5 320.84 L89.95 320.73 L90.4 319.85 L90.85 319.65 L91.3 319.66 L91.75 320.54 L92.2 320.35 L92.65 319.97 L93.1 319.85 L93.55 320.54 L94 320.7 L94.45 320.87 L94.9 320.48 L95.35 319.83 L95.8 319.59 L96.25 320.72 L96.7 320.17 L97.15 320.7 L97.6 319.56 L98.05 320.84 L98.5 320.03 L98.95 320.89 L99.4 320.92 L99.85 320.29 L100.3 319.47 L100.75 320.98 L101.2 320.24 L101.65 320.9 L102.1 319.86 L102.55 319.72 L103 320.81 L103.45 320.01 L103.9 319.66 L104.35 320 L104.8 320.37 L105.25 319.36 L105.7 320.23 L106.15 320.1 L106.6 320.21 L107.05 319.53 L107.5 320.53 L107.95 320.69 L108.4 320.77 L108.85 319.84 L109.3 320.49 L109.75 319.92 L110.2 320.54 L110.65 319.36 L111.1 320.73 L111.55 320.86 L112 320.07 L112.45 320.1 L112.9 320.12 L113.35 320.12 L113.8 319.23 L114.25 320.83 L114.7 319.56 L115.15 319.48 L115.6 319.33 L116.05 319.57 L116.5 320.53 L116.95 319.18 L117.4 319.27 L117.85 320.28 L118.3 319.4 L118.75 319.06 L119.2 319.93 L119.65 319.44 L120.1 318.21 L120.55 317.09 L121 315.95 L121.45 318.61 L121.9 319.55 L122.35 318.91 L122.8 319.16 L123.25 319.82 L123.7 319.84 L124.15 319.46 L124.6 319.19 L125.05 319.67 L125.5 319.21 L125.95 319.98 L126.4 320.43 L126.85 319.21 L127.3 319.93 L127.75 320.22 L128.2 319.23 L128.65 320.38 L129.1 320.6 L129.55 319.69 L130 319.77 L130.45 320.5 L130.9 319.99 L131.35 319.8 L131.8 320.75 L132.25 320.49 L132.7 319.77 L133.15 319.63 L133.6 319.82 L134.05 320.01 L134.5 320.96 L134.95 320.68 L135.4 320.89 L135.85 320.75 L136.3 320.83 L136.75 319.5 L137.2 320.32 L137.65 321.09 L138.1 321.07 L138.55 319.93 L139 320.25 L139.45 320.63 L139.9 320.2 L140.35 320.51 L140.8 319.75 L141.25 320.39 L141.7 320.54 L142.15 319.74 L142.6 319.96 L143.05 321.4 L143.5 321.09 L143.95 321.39 L144.4 320.9 L144.85 321.22 L145.3 321.37 L145.75 321.4 L146.2 319.97 L146.65 321.03 L147.1 320.42 L147.55 321.14 L148 320.48 L148.45 320.96 L148.9 321.63 L149.35 321.14 L149.8 320.53 L150.25 321.02 L150.7 320.89 L151.15 321.8 L151.6 320.69 L152.05 320.75 L152.5 321.35 L152.95 320.48 L153.4 321.31 L153.85 321.95 L154.3 321.22 L154.75 320.83 L155.2 321.19 L155.65 321.33 L156.1 320.69 L156.55 320.68 L157 320.71 L157.45 321.01 L157.9 321.23 L158.35 321.05 L158.8 321 L159.25 320.76 L159.7 321.56 L160.15 322.13 L160.6 321.89 L161.05 321.97 L161.5 322.26 L161.95 321.64 L162.4 322.66 L162.85 322.38 L163.3 322.68 L163.75 322.94 L164.2 322.85 L164.65 322.73 L165.1 322.76 L165.55 322.88 L166 323.52 L166.45 323.45 L166.9 323.95 L167.35 323.12 L167.9 325.63 L168.3 290 L168.9 328.9 L169.5 328.8 L169.95 329.19 L170.4 328.72 L170.85 328.97 L171.3 328.93 L171.75 328.78 L172.2 329.33 L172.65 328.8 L173.1 329.18 L173.55 328.71 L174 328.65 L174.45 329.27 L174.9 328.95 L175.35 328.67 L175.8 328.93 L176.25 328.97 L176.7 329.21 L177.15 328.74 L177.6 328.83 L178.05 329.4 L178.5 329.24 L178.95 328.8 L179.4 328.95 L179.85 328.97 L180.3 329.22 L180.75 329.18 L181.2 329.37 L181.65 329.36 L182.1 329.13 L182.55 329.31 L183 329.32 L183.45 329.34 L183.9 329.13 L184.35 329.37 L184.8 329.32 L185.25 329.49 L185.7 328.89 L186.15 329.47 L186.6 328.81 L187.05 329.4 L187.5 329.27 L187.95 329.21 L188.4 329.58 L188.85 329.29 L189.3 329.18 L189.75 329.46 L190.2 329.54 L190.65 329.34 L191.1 329.18 L191.55 329.24 L192 329.25 L192.45 329.46 L192.9 329.14 L193.35 329.22 L193.8 329.36 L194.25 329.23 L194.7 329.19 L195.15 329.56 L195.6 329.61 L196.05 329.35 L196.5 329.32 L196.95 329.12 L197.4 329.22 L197.85 329.11 L198.3 329.45 L198.75 329.46 L199.2 329.09 L199.65 329.73 L200.1 329.28 L200.55 329.69 L201 329.69 L201.45 329.79 L201.9 329.22 L202.35 329.4 L202.8 329.78 L203.25 329.1 L203.7 329.13 L204.15 329.54 L204.6 329.49 L205.05 329.82 L205.5 329.72 L205.95 329.55 L206.4 329.9 L206.85 329.54 L207.3 329.55 L207.75 329.69 L208.2 329.47 L208.65 329.45 L209.1 329.64 L209.55 329.46 L210 329.93 L210.45 327.73 L210.9 327.62 L211.35 329.3 L211.8 329.52 L212.25 329.55 L212.7 329.68 L213.15 329.69 L213.6 329.93 L214.05 330.01 L214.5 329.65 L214.95 329.62 L215.4 329.77 L215.85 330.06 L216.3 329.57 L216.75 329.72 L217.2 329.94 L217.65 329.46 L218.1 329.58 L218.55 330.09 L219 329.98 L219.45 329.75 L219.9 329.45 L220.35 330.06 L220.8 329.91 L221.25 330.02 L221.7 330.15 L222.15 330.08 L222.6 329.73" fill="none" stroke="#2bb57a" stroke-width="1.35" stroke-linejoin="round"/>
<path d="M31 334.82 L31.45 335.03 L31.9 335.39 L32.35 335.36 L32.8 334.81 L33.25 334.78 L33.7 335.53 L34.15 335.47 L34.6 335.03 L35.05 336.1 L35.5 335.48 L35.95 334.45 L36.4 335.06 L36.85 335.69 L37.3 334.85 L37.75 335.49 L38.2 334.31 L38.65 334.8 L39.1 335.7 L39.55 335.25 L40 335.37 L40.45 334.56 L40.9 335.05 L41.35 335.13 L41.8 334.63 L42.25 335.26 L42.7 335.05 L43.15 335.82 L43.6 335.09 L44.05 334.8 L44.5 334.29 L44.95 334.33 L45.4 335.34 L45.85 334.21 L46.3 334.19 L46.75 334.29 L47.2 334.87 L47.65 335.37 L48.1 335 L48.55 335.31 L49 334.03 L49.45 333.93 L49.9 335.2 L50.35 334.42 L50.8 335.07 L51.25 334.44 L51.7 334.11 L52.15 334.26 L52.6 333.96 L53.05 335.31 L53.5 334.74 L53.95 334.33 L54.4 334.48 L54.85 334.34 L55.3 333.75 L55.75 335.11 L56.2 334.42 L56.65 334.61 L57.1 332.99 L57.55 332.9 L58 332.64 L58.45 333.51 L58.9 336.3 L59.35 337.08 L59.8 336.59 L60.25 337.65 L60.7 337.55 L61.15 336.7 L61.6 337.24 L62.05 337.87 L62.5 337.1 L62.95 337.89 L63.4 336.71 L63.85 336.98 L64.3 337.56 L64.75 336.74 L65.2 336.91 L65.65 337.89 L66.1 337.24 L66.55 337.79 L67 336.87 L67.45 336.77 L67.9 337.11 L68.35 336.83 L68.8 338.19 L69.25 337.05 L69.7 337.53 L70.15 336.79 L70.6 337.52 L71.05 337.29 L71.5 337.34 L71.95 336.78 L72.4 336.9 L72.85 338.11 L73.3 337.33 L73.75 337.16 L74.2 337.09 L74.65 337.27 L75.1 337.21 L75.55 336.88 L76 337.97 L76.45 337.44 L76.9 337.15 L77.35 338.1 L77.8 337.08 L78.25 337.4 L78.7 338.38 L79.15 337.19 L79.6 337.75 L80.05 338.44 L80.5 338.4 L80.95 337.32 L81.4 337.67 L81.85 338.32 L82.3 337.75 L82.75 338.76 L83.2 337.5 L83.65 338.79 L84.1 338.05 L84.55 337.59 L85 338 L85.45 337.47 L85.9 338.46 L86.35 337.73 L86.8 338.83 L87.25 338.32 L87.7 337.97 L88.15 337.78 L88.6 338.41 L89.05 337.76 L89.5 338.9 L89.95 337.64 L90.4 338.33 L90.85 338.4 L91.3 337.95 L91.75 338.82 L92.2 338.19 L92.65 338.67 L93.1 338.53 L93.55 338.12 L94 338.27 L94.45 337.77 L94.9 337.95 L95.35 339.12 L95.8 338.25 L96.25 338.86 L96.7 337.95 L97.15 338.75 L97.6 338.44 L98.05 338.7 L98.5 338.39 L98.95 338.02 L99.4 338.47 L99.85 338.36 L100.3 338.22 L100.75 339.25 L101.2 338.54 L101.65 338.78 L102.1 339.67 L102.55 339.47 L103 339.68 L103.45 339.68 L103.9 338.47 L104.35 338.74 L104.8 338.35 L105.25 339.49 L105.7 339.49 L106.15 338.99 L106.6 339.12 L107.05 339.57 L107.5 339.67 L107.95 338.93 L108.4 339.98 L108.85 339.17 L109.3 339.67 L109.75 338.94 L110.2 338.84 L110.65 340.17 L111.1 339.85 L111.55 339.8 L112 338.64 L112.45 338.62 L112.9 338.81 L113.35 338.85 L113.8 339.01 L114.25 339.12 L114.7 338.52 L115.15 338.97 L115.6 339.51 L116.05 338.71 L116.5 339.81 L116.95 339.33 L117.4 339.56 L117.85 338.75 L118.3 339.04 L118.75 339.44 L119.2 338.82 L119.65 338.11 L120.1 339.16 L120.55 338.43 L121 337.2 L121.45 337.15 L121.9 339.12 L122.35 339.03 L122.8 338.17 L123.25 338.51 L123.7 338.27 L124.15 339.41 L124.6 338.41 L125.05 339.59 L125.5 339.3 L125.95 338.15 L126.4 339.17 L126.85 338.64 L127.3 339.23 L127.75 339.35 L128.2 338.4 L128.65 338.05 L129.1 339.49 L129.55 338.59 L130 339.43 L130.45 339.01 L130.9 339.07 L131.35 339.21 L131.8 338.84 L132.25 338.53 L132.7 337.83 L133.15 338.91 L133.6 338.43 L134.05 338.56 L134.5 339.25 L134.95 337.87 L135.4 338.93 L135.85 337.69 L136.3 338.79 L136.75 338.95 L137.2 338.01 L137.65 338.47 L138.1 339.17 L138.55 338.59 L139 338.41 L139.45 337.9 L139.9 337.55 L140.35 338.04 L140.8 338.12 L141.25 337.74 L141.7 337.91 L142.15 337.6 L142.6 338.55 L143.05 338.47 L143.5 337.71 L143.95 337.7 L144.4 338.15 L144.85 338.01 L145.3 338.83 L145.75 337.82 L146.2 337.71 L146.65 338.69 L147.1 337.41 L147.55 338.11 L148 337.7 L148.45 338.5 L148.9 338.03 L149.35 338.37 L149.8 337.35 L150.25 338.17 L150.7 338.04 L151.15 337.79 L151.6 338.29 L152.05 338.38 L152.5 337.14 L152.95 337.42 L153.4 337.53 L153.85 337.25 L154.3 336.98 L154.75 337.34 L155.2 337.18 L155.65 338.02 L156.1 337.57 L156.55 336.98 L157 337.32 L157.45 337.55 L157.9 337.35 L158.35 337 L158.8 336.82 L159.25 336.7 L159.7 338.35 L160.15 338.01 L160.6 337.14 L161.05 338.48 L161.5 339.19 L161.95 338.75 L162.4 338.23 L162.85 339.14 L163.3 339.31 L163.75 339.16 L164.2 340.02 L164.65 339.38 L165.1 341.19 L165.55 340.98 L166 341.22 L166.45 342 L166.9 341.78 L167.35 341.36 L167.9 343.61 L168.3 247 L168.9 345 L169.5 344.81 L169.95 344.74 L170.4 344.66 L170.85 345.24 L171.3 345.3 L171.75 344.9 L172.2 344.82 L172.65 345.17 L173.1 345.34 L173.55 345.41 L174 344.84 L174.45 345.32 L174.9 345.36 L175.35 345.3 L175.8 344.99 L176.25 344.89 L176.7 345.39 L177.15 345.01 L177.6 345.06 L178.05 345.21 L178.5 345.08 L178.95 345.44 L179.4 344.99 L179.85 344.85 L180.3 345.26 L180.75 345.32 L181.2 345.47 L181.65 345.39 L182.1 345.55 L182.55 345.59 L183 345.25 L183.45 345.27 L183.9 345.01 L184.35 345.13 L184.8 345.35 L185.25 344.98 L185.7 345.45 L186.15 345.06 L186.6 345.28 L187.05 345.69 L187.5 345.03 L187.95 345 L188.4 345.31 L188.85 345.13 L189.3 345.55 L189.75 345 L190.2 345.65 L190.65 345.67 L191.1 345.63 L191.55 345.36 L192 345.26 L192.45 345.56 L192.9 345.45 L193.35 345.39 L193.8 345.34 L194.25 345.42 L194.7 345.6 L195.15 345.73 L195.6 345.8 L196.05 345.24 L196.5 345.35 L196.95 345.47 L197.4 345.57 L197.85 345.42 L198.3 345.31 L198.75 345.23 L199.2 345.42 L199.65 345.54 L200.1 345.94 L200.55 345.9 L201 345.87 L201.45 345.96 L201.9 345.96 L202.35 345.71 L202.8 345.86 L203.25 345.3 L203.7 345.78 L204.15 345.73 L204.6 345.5 L205.05 345.72 L205.5 346.02 L205.95 345.67 L206.4 345.81 L206.85 345.55 L207.3 345.59 L207.75 346.01 L208.2 345.36 L208.65 345.5 L209.1 345.88 L209.55 345.71 L210 345.44 L210.45 343.89 L210.9 343.68 L211.35 345.85 L211.8 345.73 L212.25 345.82 L212.7 345.86 L213.15 345.74 L213.6 345.53 L214.05 345.59 L214.5 346.14 L214.95 345.89 L215.4 345.56 L215.85 346.14 L216.3 345.69 L216.75 345.57 L217.2 345.92 L217.65 345.71 L218.1 345.9 L218.55 345.96 L219 345.72 L219.45 345.99 L219.9 345.65 L220.35 345.96 L220.8 346.03 L221.25 345.65 L221.7 345.91 L222.15 345.66 L222.6 345.95" fill="none" stroke="#4e5088" stroke-width="1.35" stroke-linejoin="round"/>
<rect x="30.7" y="194.6" width="192.3" height="155" fill="none" stroke="#333" stroke-width="1.3"/>
<line x1="30.8" y1="349.6" x2="30.8" y2="352.6" stroke="#333" stroke-width="1"/>
<text x="30.8" y="362.6" font-size="9.3" text-anchor="middle" font-weight="normal" fill="#222" >1000</text>
<line x1="50" y1="349.6" x2="50" y2="351.2" stroke="#333" stroke-width="1"/>
<line x1="69.2" y1="349.6" x2="69.2" y2="352.6" stroke="#333" stroke-width="1"/>
<text x="69.2" y="362.6" font-size="9.3" text-anchor="middle" font-weight="normal" fill="#222" >800</text>
<line x1="88.4" y1="349.6" x2="88.4" y2="351.2" stroke="#333" stroke-width="1"/>
<line x1="107.6" y1="349.6" x2="107.6" y2="352.6" stroke="#333" stroke-width="1"/>
<text x="107.6" y="362.6" font-size="9.3" text-anchor="middle" font-weight="normal" fill="#222" >600</text>
<line x1="126.8" y1="349.6" x2="126.8" y2="351.2" stroke="#333" stroke-width="1"/>
<line x1="146" y1="349.6" x2="146" y2="352.6" stroke="#333" stroke-width="1"/>
<text x="146" y="362.6" font-size="9.3" text-anchor="middle" font-weight="normal" fill="#222" >400</text>
<line x1="165.2" y1="349.6" x2="165.2" y2="351.2" stroke="#333" stroke-width="1"/>
<line x1="184.4" y1="349.6" x2="184.4" y2="352.6" stroke="#333" stroke-width="1"/>
<text x="184.4" y="362.6" font-size="9.3" text-anchor="middle" font-weight="normal" fill="#222" >200</text>
<line x1="203.6" y1="349.6" x2="203.6" y2="351.2" stroke="#333" stroke-width="1"/>
<line x1="222.8" y1="349.6" x2="222.8" y2="352.6" stroke="#333" stroke-width="1"/>
<text x="222.8" y="362.6" font-size="9.3" text-anchor="middle" font-weight="normal" fill="#222" >0</text>
<text x="126.9" y="379.8" font-size="12.2" text-anchor="middle" font-weight="normal" fill="#222" textLength="100.2" lengthAdjust="spacingAndGlyphs" >Binding energy (eV)</text>
<text x="181.6" y="263" font-size="9.6" text-anchor="start" font-weight="normal" fill="#222" textLength="38.8" lengthAdjust="spacingAndGlyphs" >Ni1Ru1/C</text>
<text x="181.6" y="282.8" font-size="9.6" text-anchor="start" font-weight="normal" fill="#222" textLength="38.8" lengthAdjust="spacingAndGlyphs" >Ni1Ru2/C</text>
<text x="181.6" y="307" font-size="9.6" text-anchor="start" font-weight="normal" fill="#222" textLength="38.8" lengthAdjust="spacingAndGlyphs" >Ni2Ru1/C</text>
<text x="181.6" y="326" font-size="9.6" text-anchor="start" font-weight="normal" fill="#222" textLength="38.8" lengthAdjust="spacingAndGlyphs" >Ni0Ru1/C</text>
<text x="181.6" y="341.7" font-size="9.6" text-anchor="start" font-weight="normal" fill="#222" textLength="38.8" lengthAdjust="spacingAndGlyphs" >Ni1Ru0/C</text>
<text x="1.5" y="207.7" font-size="34" text-anchor="start" font-weight="bold" fill="#111" >b</text>
<text transform="translate(17.2 266.2) rotate(-90)" font-size="12.2" text-anchor="middle" fill="#222" textLength="74.5" lengthAdjust="spacingAndGlyphs">Intensity (a. u.)</text>
<text transform="translate(39.6 234.3) rotate(-90)" font-size="9.5" font-weight="bold" fill="#111" textLength="29.5" lengthAdjust="spacingAndGlyphs">O KLL</text>
<text transform="translate(61.2 229.8) rotate(-90)" font-size="9.5" font-weight="bold" fill="#111" textLength="20.5" lengthAdjust="spacingAndGlyphs">Ni 2p</text>
<text transform="translate(77.8 242.6) rotate(-90)" font-size="9.5" font-weight="bold" fill="#111" textLength="36.8" lengthAdjust="spacingAndGlyphs">Ni Auger</text>
<text transform="translate(90.3 243.9) rotate(-90)" font-size="9.5" font-weight="bold" fill="#111" textLength="36.2" lengthAdjust="spacingAndGlyphs">Ni Auger</text>
<text transform="translate(104.3 243.3) rotate(-90)" font-size="9.5" font-weight="bold" fill="#111" textLength="35.2" lengthAdjust="spacingAndGlyphs">Ni LMM</text>
<text transform="translate(123.6 236.3) rotate(-90)" font-size="9.5" font-weight="bold" fill="#111" textLength="17.4" lengthAdjust="spacingAndGlyphs">O 1s</text>
<text transform="translate(136.9 248.8) rotate(-90)" font-size="9.5" font-weight="bold" fill="#111" textLength="24.5" lengthAdjust="spacingAndGlyphs">Ru 3p</text>
<text transform="translate(179.7 247) rotate(-90)" font-size="9.5" font-weight="bold" fill="#111" textLength="47" lengthAdjust="spacingAndGlyphs">C 1s+Ru 3d</text>
<defs><pattern id="dots" width="3.2" height="3.2" patternUnits="userSpaceOnUse"><circle cx="1.6" cy="1.6" r="0.85" fill="#f8aa30"/></pattern><linearGradient id="gRu4" x1="0" y1="0" x2="0" y2="1"><stop offset="0" stop-color="#6f829a"/><stop offset="1" stop-color="#a4b3c4"/></linearGradient><pattern id="dots2" width="3.2" height="3.2" patternUnits="userSpaceOnUse"><circle cx="1.6" cy="1.6" r="0.6" fill="#e8e8f0" fill-opacity="0.5"/></pattern></defs>
<path d="M280.3 84.85 L281 84.89 L281.7 84.92 L282.4 84.96 L283.1 85 L283.8 85.04 L284.5 85.08 L285.2 85.11 L285.9 85.15 L286.6 85.19 L287.3 85.22 L288 85.26 L288.7 85.3 L289.4 85.33 L290.1 85.37 L290.8 85.4 L291.5 85.44 L292.2 85.47 L292.9 85.51 L293.6 85.54 L294.3 85.58 L295 85.61 L295.7 85.64 L296.4 85.67 L297.1 85.71 L297.8 85.74 L298.5 85.77 L299.2 85.8 L299.9 85.83 L300.6 85.86 L301.3 85.88 L302 85.91 L302.7 85.94 L303.4 85.96 L304.1 85.99 L304.8 86.01 L305.5 86.03 L306.2 86.05 L306.9 86.06 L307.6 86.07 L308.3 86.08 L309 86.09 L309.7 86.09 L310.4 86.08 L311.1 86.06 L311.8 86.04 L312.5 86 L313.2 85.95 L313.9 85.88 L314.6 85.78 L315.3 85.67 L316 85.52 L316.7 85.34 L317.4 85.11 L318.1 84.84 L318.8 84.51 L319.5 84.11 L320.2 83.64 L320.9 83.09 L321.6 82.45 L322.3 81.71 L323 80.86 L323.7 79.9 L324.4 78.81 L325.1 77.59 L325.8 76.23 L326.5 74.73 L327.2 73.1 L327.9 71.33 L328.6 69.44 L329.3 67.42 L330 65.3 L330.7 63.08 L331.4 60.79 L332.1 58.46 L332.8 56.1 L333.5 53.76 L334.2 51.46 L334.9 49.24 L335.6 47.13 L336.3 45.18 L337 43.43 L337.7 41.91 L338.4 40.66 L339.1 39.71 L339.8 39.08 L340.5 38.8 L341.2 38.85 L341.9 39.17 L342.6 39.76 L343.3 40.6 L344 41.68 L344.7 42.97 L345.4 44.46 L346.1 46.12 L346.8 47.92 L347.5 49.84 L348.2 51.85 L348.9 53.93 L349.6 56.04 L350.3 58.18 L351 60.31 L351.7 62.42 L352.4 64.49 L353.1 66.5 L353.8 68.44 L354.5 70.29 L355.2 72.06 L355.9 73.73 L356.6 75.3 L357.3 76.77 L358 78.12 L358.7 79.37 L359.4 80.52 L360.1 81.57 L360.8 82.52 L361.5 83.37 L362.2 84.14 L362.9 84.83 L363.6 85.44 L364.3 85.99 L365 86.47 L365.7 86.89 L366.4 87.27 L367.1 87.6 L367.8 87.88 L368.5 88.14 L369.2 88.36 L369.9 88.56 L370.6 88.73 L371.3 88.88 L372 89.02 L372.7 89.14 L373.4 89.24 L374.1 89.34 L374.8 89.43 L375.5 89.51 L376.2 89.59 L376.9 89.66 L377.6 89.73 L378.3 89.79 L379 89.85 L379.7 89.91 L380.4 89.96 L381.1 90.01 L381.8 90.07 L382.5 90.12 L383.2 90.16 L383.9 90.21 L384.6 90.26 L385.3 90.31 L386 90.35 L386.7 90.4 L387.4 90.44 L388.1 90.48 L388.8 90.53 L389.5 90.57 L390.2 90.61 L390.9 90.65 L391.6 90.69 L392.3 90.73 L393 90.77 L393.7 90.81 L394.4 90.85 L395.1 90.89 L395.8 90.93 L396.5 90.97 L397.2 91.01 L397.9 91.05 L398.6 91.09 L399.3 91.12 L400 91.16 L400.7 91.2 L401.4 91.24 L402.1 91.27 L402.8 91.31 L403.5 91.35 L404.2 91.38 L404.9 91.42 L405.6 91.46 L406.3 91.49 L407 91.53 L407.7 91.56 L408.4 91.6 L409.1 91.63 L409.8 91.67 L410.5 91.71 L410.5 91.91 L280.3 85.05 Z" fill="#fde4b2"/>
<path d="M280.3 84.85 L281 84.89 L281.7 84.92 L282.4 84.96 L283.1 85 L283.8 85.04 L284.5 85.08 L285.2 85.11 L285.9 85.15 L286.6 85.19 L287.3 85.22 L288 85.26 L288.7 85.3 L289.4 85.33 L290.1 85.37 L290.8 85.4 L291.5 85.44 L292.2 85.47 L292.9 85.51 L293.6 85.54 L294.3 85.58 L295 85.61 L295.7 85.64 L296.4 85.67 L297.1 85.71 L297.8 85.74 L298.5 85.77 L299.2 85.8 L299.9 85.83 L300.6 85.86 L301.3 85.88 L302 85.91 L302.7 85.94 L303.4 85.96 L304.1 85.99 L304.8 86.01 L305.5 86.03 L306.2 86.05 L306.9 86.06 L307.6 86.07 L308.3 86.08 L309 86.09 L309.7 86.09 L310.4 86.08 L311.1 86.06 L311.8 86.04 L312.5 86 L313.2 85.95 L313.9 85.88 L314.6 85.78 L315.3 85.67 L316 85.52 L316.7 85.34 L317.4 85.11 L318.1 84.84 L318.8 84.51 L319.5 84.11 L320.2 83.64 L320.9 83.09 L321.6 82.45 L322.3 81.71 L323 80.86 L323.7 79.9 L324.4 78.81 L325.1 77.59 L325.8 76.23 L326.5 74.73 L327.2 73.1 L327.9 71.33 L328.6 69.44 L329.3 67.42 L330 65.3 L330.7 63.08 L331.4 60.79 L332.1 58.46 L332.8 56.1 L333.5 53.76 L334.2 51.46 L334.9 49.24 L335.6 47.13 L336.3 45.18 L337 43.43 L337.7 41.91 L338.4 40.66 L339.1 39.71 L339.8 39.08 L340.5 38.8 L341.2 38.85 L341.9 39.17 L342.6 39.76 L343.3 40.6 L344 41.68 L344.7 42.97 L345.4 44.46 L346.1 46.12 L346.8 47.92 L347.5 49.84 L348.2 51.85 L348.9 53.93 L349.6 56.04 L350.3 58.18 L351 60.31 L351.7 62.42 L352.4 64.49 L353.1 66.5 L353.8 68.44 L354.5 70.29 L355.2 72.06 L355.9 73.73 L356.6 75.3 L357.3 76.77 L358 78.12 L358.7 79.37 L359.4 80.52 L360.1 81.57 L360.8 82.52 L361.5 83.37 L362.2 84.14 L362.9 84.83 L363.6 85.44 L364.3 85.99 L365 86.47 L365.7 86.89 L366.4 87.27 L367.1 87.6 L367.8 87.88 L368.5 88.14 L369.2 88.36 L369.9 88.56 L370.6 88.73 L371.3 88.88 L372 89.02 L372.7 89.14 L373.4 89.24 L374.1 89.34 L374.8 89.43 L375.5 89.51 L376.2 89.59 L376.9 89.66 L377.6 89.73 L378.3 89.79 L379 89.85 L379.7 89.91 L380.4 89.96 L381.1 90.01 L381.8 90.07 L382.5 90.12 L383.2 90.16 L383.9 90.21 L384.6 90.26 L385.3 90.31 L386 90.35 L386.7 90.4 L387.4 90.44 L388.1 90.48 L388.8 90.53 L389.5 90.57 L390.2 90.61 L390.9 90.65 L391.6 90.69 L392.3 90.73 L393 90.77 L393.7 90.81 L394.4 90.85 L395.1 90.89 L395.8 90.93 L396.5 90.97 L397.2 91.01 L397.9 91.05 L398.6 91.09 L399.3 91.12 L400 91.16 L400.7 91.2 L401.4 91.24 L402.1 91.27 L402.8 91.31 L403.5 91.35 L404.2 91.38 L404.9 91.42 L405.6 91.46 L406.3 91.49 L407 91.53 L407.7 91.56 L408.4 91.6 L409.1 91.63 L409.8 91.67 L410.5 91.71" fill="none" stroke="#f5b400" stroke-width="1.3"/>
<path d="M274 84.46 L274.7 84.47 L275.4 84.47 L276.1 84.47 L276.8 84.47 L277.5 84.46 L278.2 84.44 L278.9 84.42 L279.6 84.38 L280.3 84.34 L281 84.29 L281.7 84.23 L282.4 84.17 L283.1 84.08 L283.8 83.99 L284.5 83.89 L285.2 83.77 L285.9 83.64 L286.6 83.5 L287.3 83.35 L288 83.18 L288.7 83 L289.4 82.8 L290.1 82.59 L290.8 82.37 L291.5 82.13 L292.2 81.89 L292.9 81.63 L293.6 81.36 L294.3 81.09 L295 80.8 L295.7 80.51 L296.4 80.21 L297.1 79.92 L297.8 79.62 L298.5 79.32 L299.2 79.02 L299.9 78.73 L300.6 78.45 L301.3 78.17 L302 77.91 L302.7 77.66 L303.4 77.43 L304.1 77.22 L304.8 77.03 L305.5 76.86 L306.2 76.71 L306.9 76.59 L307.6 76.5 L308.3 76.43 L309 76.39 L309.7 76.39 L310.4 76.41 L311.1 76.47 L311.8 76.55 L312.5 76.67 L313.2 76.83 L313.9 77.01 L314.6 77.22 L315.3 77.46 L316 77.72 L316.7 78.01 L317.4 78.33 L318.1 78.66 L318.8 79.01 L319.5 79.37 L320.2 79.75 L320.9 80.13 L321.6 80.52 L322.3 80.92 L323 81.32 L323.7 81.72 L324.4 82.12 L325.1 82.51 L325.8 82.9 L326.5 83.28 L327.2 83.65 L327.9 84.01 L328.6 84.35 L329.3 84.69 L330 85.01 L330.7 85.32 L331.4 85.61 L332.1 85.89 L332.8 86.16 L333.5 86.4 L334.2 86.64 L334.9 86.86 L335.6 87.07 L336.3 87.26 L337 87.44 L337.7 87.61 L338.4 87.77 L339.1 87.92 L339.8 88.05 L340.5 88.18 L341.2 88.29 L341.9 88.39 L342.6 88.48 L343.3 88.57 L344 88.64 L344.7 88.72 L345.4 88.78 L345.4 89 L274 84.66 Z" fill="#d98c6a"/>
<path d="M274 84.46 L274.7 84.47 L275.4 84.47 L276.1 84.47 L276.8 84.47 L277.5 84.46 L278.2 84.44 L278.9 84.42 L279.6 84.38 L280.3 84.34 L281 84.29 L281.7 84.23 L282.4 84.17 L283.1 84.08 L283.8 83.99 L284.5 83.89 L285.2 83.77 L285.9 83.64 L286.6 83.5 L287.3 83.35 L288 83.18 L288.7 83 L289.4 82.8 L290.1 82.59 L290.8 82.37 L291.5 82.13 L292.2 81.89 L292.9 81.63 L293.6 81.36 L294.3 81.09 L295 80.8 L295.7 80.51 L296.4 80.21 L297.1 79.92 L297.8 79.62 L298.5 79.32 L299.2 79.02 L299.9 78.73 L300.6 78.45 L301.3 78.17 L302 77.91 L302.7 77.66 L303.4 77.43 L304.1 77.22 L304.8 77.03 L305.5 76.86 L306.2 76.71 L306.9 76.59 L307.6 76.5 L308.3 76.43 L309 76.39 L309.7 76.39 L310.4 76.41 L311.1 76.47 L311.8 76.55 L312.5 76.67 L313.2 76.83 L313.9 77.01 L314.6 77.22 L315.3 77.46 L316 77.72 L316.7 78.01 L317.4 78.33 L318.1 78.66 L318.8 79.01 L319.5 79.37 L320.2 79.75 L320.9 80.13 L321.6 80.52 L322.3 80.92 L323 81.32 L323.7 81.72 L324.4 82.12 L325.1 82.51 L325.8 82.9 L326.5 83.28 L327.2 83.65 L327.9 84.01 L328.6 84.35 L329.3 84.69 L330 85.01 L330.7 85.32 L331.4 85.61 L332.1 85.89 L332.8 86.16 L333.5 86.4 L334.2 86.64 L334.9 86.86 L335.6 87.07 L336.3 87.26 L337 87.44 L337.7 87.61 L338.4 87.77 L339.1 87.92 L339.8 88.05 L340.5 88.18 L341.2 88.29 L341.9 88.39 L342.6 88.48 L343.3 88.57 L344 88.64 L344.7 88.72 L345.4 88.78 L345.4 89 L274 84.66 Z" fill="url(#dots)"/>
<path d="M304.8 86.33 L305.5 86.3 L306.2 86.25 L306.9 86.18 L307.6 86.09 L308.3 85.97 L309 85.81 L309.7 85.62 L310.4 85.39 L311.1 85.11 L311.8 84.78 L312.5 84.4 L313.2 83.97 L313.9 83.48 L314.6 82.94 L315.3 82.34 L316 81.7 L316.7 81.02 L317.4 80.31 L318.1 79.57 L318.8 78.82 L319.5 78.08 L320.2 77.35 L320.9 76.65 L321.6 76 L322.3 75.42 L323 74.91 L323.7 74.49 L324.4 74.17 L325.1 73.97 L325.8 73.88 L326.5 73.92 L327.2 74.07 L327.9 74.35 L328.6 74.73 L329.3 75.22 L330 75.81 L330.7 76.47 L331.4 77.2 L332.1 77.98 L332.8 78.79 L333.5 79.62 L334.2 80.45 L334.9 81.28 L335.6 82.08 L336.3 82.86 L337 83.59 L337.7 84.28 L338.4 84.91 L339.1 85.49 L339.8 86.02 L340.5 86.5 L341.2 86.91 L341.9 87.27 L342.6 87.59 L343.3 87.86 L344 88.1 L344.7 88.3 L345.4 88.47 L346.1 88.61 L346.8 88.74 L347.5 88.84 L347.5 89.09 L304.8 86.56 Z" fill="#7a8ca4"/>
<path d="M334.9 88.22 L335.6 88.18 L336.3 88.13 L337 88.05 L337.7 87.96 L338.4 87.84 L339.1 87.71 L339.8 87.57 L340.5 87.42 L341.2 87.28 L341.9 87.15 L342.6 87.04 L343.3 86.97 L344 86.95 L344.7 86.97 L345.4 87.04 L346.1 87.15 L346.8 87.3 L347.5 87.49 L348.2 87.7 L348.9 87.91 L349.6 88.13 L350.3 88.34 L351 88.54 L351.7 88.72 L352.4 88.88 L353.1 89.02 L353.8 89.14 L353.8 89.37 L334.9 88.42 Z" fill="#e8504e"/>
<path d="M339.8 88.52 L340.5 88.54 L341.2 88.56 L341.9 88.56 L342.6 88.56 L343.3 88.57 L344 88.56 L344.7 88.56 L345.4 88.55 L346.1 88.54 L346.8 88.53 L347.5 88.52 L348.2 88.5 L348.9 88.48 L349.6 88.45 L350.3 88.42 L351 88.39 L351.7 88.36 L352.4 88.32 L353.1 88.28 L353.8 88.24 L354.5 88.19 L355.2 88.14 L355.9 88.08 L356.6 88.02 L357.3 87.96 L358 87.9 L358.7 87.83 L359.4 87.76 L360.1 87.69 L360.8 87.62 L361.5 87.54 L362.2 87.46 L362.9 87.38 L363.6 87.3 L364.3 87.22 L365 87.14 L365.7 87.06 L366.4 86.98 L367.1 86.9 L367.8 86.82 L368.5 86.75 L369.2 86.67 L369.9 86.6 L370.6 86.53 L371.3 86.46 L372 86.4 L372.7 86.34 L373.4 86.29 L374.1 86.24 L374.8 86.2 L375.5 86.16 L376.2 86.13 L376.9 86.1 L377.6 86.08 L378.3 86.07 L379 86.07 L379.7 86.07 L380.4 86.08 L381.1 86.1 L381.8 86.12 L382.5 86.16 L383.2 86.2 L383.9 86.24 L384.6 86.3 L385.3 86.36 L386 86.43 L386.7 86.51 L387.4 86.59 L388.1 86.69 L388.8 86.78 L389.5 86.88 L390.2 86.99 L390.9 87.11 L391.6 87.22 L392.3 87.35 L393 87.47 L393.7 87.6 L394.4 87.74 L395.1 87.87 L395.8 88.01 L396.5 88.15 L397.2 88.29 L397.9 88.44 L398.6 88.58 L399.3 88.72 L400 88.87 L400.7 89.01 L401.4 89.15 L402.1 89.29 L402.8 89.43 L403.5 89.57 L404.2 89.71 L404.9 89.84 L405.6 89.97 L406.3 90.1 L407 90.22 L407.7 90.34 L408.4 90.46 L409.1 90.58 L409.8 90.69 L410.5 90.8 L411.2 90.91 L411.9 91.01 L412.6 91.11 L413.3 91.2 L414 91.3 L414.7 91.39 L415.4 91.47 L416.1 91.55 L416.8 91.63 L417.5 91.71 L418.2 91.78 L418.9 91.85 L419.6 91.92 L420.3 91.99 L421 92.05 L421.7 92.11 L422.4 92.17 L423.1 92.23 L423.8 92.28 L423.8 92.5 L339.8 88.73 Z" fill="#96d8b6"/>
<path d="M394.4 90.94 L395.1 90.88 L395.8 90.81 L396.5 90.71 L397.2 90.57 L397.9 90.39 L398.6 90.17 L399.3 89.9 L400 89.56 L400.7 89.17 L401.4 88.7 L402.1 88.16 L402.8 87.54 L403.5 86.84 L404.2 86.06 L404.9 85.22 L405.6 84.31 L406.3 83.35 L407 82.34 L407.7 81.32 L408.4 80.29 L409.1 79.28 L409.8 78.31 L410.5 77.41 L411.2 76.6 L411.9 75.91 L412.6 75.34 L413.3 74.93 L414 74.68 L414.7 74.59 L415.4 74.68 L416.1 74.92 L416.8 75.3 L417.5 75.82 L418.2 76.46 L418.9 77.21 L419.6 78.05 L420.3 78.97 L421 79.94 L421.7 80.94 L422.4 81.96 L423.1 82.98 L423.8 83.98 L424.5 84.95 L425.2 85.87 L425.9 86.74 L426.6 87.55 L427.3 88.29 L428 88.97 L428.7 89.58 L429.4 90.12 L430.1 90.6 L430.8 91.01 L431.5 91.38 L432.2 91.69 L432.9 91.95 L433.6 92.18 L434.3 92.37 L435 92.53 L435.7 92.65 L436.4 92.75 L437.1 92.83 L437.1 93.04 L394.4 91.19 Z" fill="url(#gRu4)"/>
<path d="M423.1 92.23 L423.8 92.18 L424.5 92.09 L425.2 91.98 L425.9 91.85 L426.6 91.69 L427.3 91.5 L428 91.31 L428.7 91.1 L429.4 90.9 L430.1 90.72 L430.8 90.57 L431.5 90.46 L432.2 90.4 L432.9 90.41 L433.6 90.47 L434.3 90.59 L435 90.76 L435.7 90.95 L436.4 91.18 L437.1 91.43 L437.8 91.68 L438.5 91.92 L439.2 92.15 L439.9 92.35 L440.6 92.54 L441.3 92.69 L442 92.82 L442.7 92.92 L442.7 93.16 L423.1 92.47 Z" fill="#e8504e"/>
<path d="M274 84.66 L274.7 84.7 L275.4 84.75 L276.1 84.79 L276.8 84.83 L277.5 84.88 L278.2 84.92 L278.9 84.96 L279.6 85.01 L280.3 85.05 L281 85.09 L281.7 85.14 L282.4 85.18 L283.1 85.22 L283.8 85.27 L284.5 85.31 L285.2 85.35 L285.9 85.4 L286.6 85.44 L287.3 85.48 L288 85.53 L288.7 85.57 L289.4 85.61 L290.1 85.66 L290.8 85.7 L291.5 85.74 L292.2 85.79 L292.9 85.83 L293.6 85.87 L294.3 85.92 L295 85.96 L295.7 86 L296.4 86.05 L297.1 86.09 L297.8 86.13 L298.5 86.17 L299.2 86.22 L299.9 86.26 L300.6 86.3 L301.3 86.35 L302 86.39 L302.7 86.43 L303.4 86.48 L304.1 86.52 L304.8 86.56 L305.5 86.61 L306.2 86.65 L306.9 86.69 L307.6 86.74 L308.3 86.78 L309 86.82 L309.7 86.87 L310.4 86.91 L311.1 86.95 L311.8 87 L312.5 87.04 L313.2 87.08 L313.9 87.13 L314.6 87.17 L315.3 87.21 L316 87.26 L316.7 87.3 L317.4 87.34 L318.1 87.39 L318.8 87.43 L319.5 87.47 L320.2 87.52 L320.9 87.56 L321.6 87.6 L322.3 87.64 L323 87.69 L323.7 87.73 L324.4 87.77 L325.1 87.82 L325.8 87.86 L326.5 87.9 L327.2 87.95 L327.9 87.99 L328.6 88.03 L329.3 88.08 L330 88.12 L330.7 88.16 L331.4 88.21 L332.1 88.25 L332.8 88.29 L333.5 88.34 L334.2 88.38 L334.9 88.42 L335.6 88.47 L336.3 88.51 L337 88.55 L337.7 88.6 L338.4 88.64 L339.1 88.68 L339.8 88.73 L340.5 88.77 L341.2 88.81 L341.9 88.84 L342.6 88.87 L343.3 88.9 L344 88.93 L344.7 88.97 L345.4 89 L346.1 89.03 L346.8 89.06 L347.5 89.09 L348.2 89.12 L348.9 89.15 L349.6 89.18 L350.3 89.22 L351 89.25 L351.7 89.28 L352.4 89.31 L353.1 89.34 L353.8 89.37 L354.5 89.4 L355.2 89.43 L355.9 89.47 L356.6 89.5 L357.3 89.53 L358 89.56 L358.7 89.59 L359.4 89.62 L360.1 89.65 L360.8 89.68 L361.5 89.72 L362.2 89.75 L362.9 89.78 L363.6 89.81 L364.3 89.84 L365 89.87 L365.7 89.9 L366.4 89.93 L367.1 89.97 L367.8 90 L368.5 90.03 L369.2 90.06 L369.9 90.09 L370.6 90.12 L371.3 90.15 L372 90.19 L372.7 90.22 L373.4 90.25 L374.1 90.28 L374.8 90.31 L375.5 90.34 L376.2 90.37 L376.9 90.4 L377.6 90.44 L378.3 90.47 L379 90.5 L379.7 90.53 L380.4 90.56 L381.1 90.59 L381.8 90.62 L382.5 90.65 L383.2 90.69 L383.9 90.72 L384.6 90.75 L385.3 90.78 L386 90.81 L386.7 90.84 L387.4 90.87 L388.1 90.9 L388.8 90.94 L389.5 90.97 L390.2 91 L390.9 91.03 L391.6 91.06 L392.3 91.09 L393 91.12 L393.7 91.15 L394.4 91.19 L395.1 91.22 L395.8 91.25 L396.5 91.28 L397.2 91.31 L397.9 91.34 L398.6 91.37 L399.3 91.4 L400 91.44 L400.7 91.47 L401.4 91.5 L402.1 91.53 L402.8 91.56 L403.5 91.59 L404.2 91.62 L404.9 91.66 L405.6 91.69 L406.3 91.72 L407 91.75 L407.7 91.78 L408.4 91.81 L409.1 91.84 L409.8 91.87 L410.5 91.91 L411.2 91.94 L411.9 91.97 L412.6 92 L413.3 92.03 L414 92.06 L414.7 92.09 L415.4 92.12 L416.1 92.16 L416.8 92.19 L417.5 92.22 L418.2 92.25 L418.9 92.28 L419.6 92.31 L420.3 92.34 L421 92.37 L421.7 92.41 L422.4 92.44 L423.1 92.47 L423.8 92.5 L424.5 92.53 L425.2 92.56 L425.9 92.59 L426.6 92.62 L427.3 92.66 L428 92.69 L428.7 92.72 L429.4 92.75 L430.1 92.78 L430.8 92.81 L431.5 92.84 L432.2 92.87 L432.9 92.91 L433.6 92.94 L434.3 92.97 L435 93 L435.7 93.01 L436.4 93.03 L437.1 93.04 L437.8 93.06 L438.5 93.07 L439.2 93.09 L439.9 93.1 L440.6 93.11 L441.3 93.13 L442 93.14 L442.7 93.16 L443.4 93.17 L444.1 93.19 L444.8 93.2 L445.5 93.21 L446.2 93.23 L446.9 93.24 L447.6 93.26 L448.3 93.27 L449 93.29 L449.7 93.3 L450.4 93.31 L451.1 93.33 L451.8 93.34 L452.5 93.36 L453.2 93.37 L453.9 93.39 L454.6 93.4 L455.3 93.41 L456 93.43 L456.7 93.44 L457.4 93.46 L458.1 93.47 L458.8 93.49 L459.5 93.5 L460.2 93.51 L460.9 93.53 L461.6 93.54 L462.3 93.56 L463 93.57 L463.7 93.59 L464.4 93.6 L465.1 93.61 L465.8 93.63 L466.5 93.64 L467.2 93.66 L467.9 93.67 L468.6 93.69 L469.3 93.7 L470 93.71 L470.7 93.73 L471.4 93.74 L472.1 93.76 L472.8 93.77 L473.5 93.79 L474.2 93.8 L474.9 93.81 L475.6 93.83 L476.3 93.84 L477 93.86 L477.7 93.87 L478.4 93.89 L479.1 93.9 L479.8 93.91 L480.5 93.93 L481.2 93.94 L481.9 93.96 L482.6 93.97 L483.3 93.99 L484 94" fill="none" stroke="#2a8f8a" stroke-width="1.1"/>
<path d="M274 84.66 L274.7 84.7 L275.4 84.75 L276.1 84.79 L276.8 84.83 L277.5 84.88 L278.2 84.92 L278.9 84.96 L279.6 85.01 L280.3 85.05 L281 85.09 L281.7 85.14 L282.4 85.18 L283.1 85.22 L283.8 85.27 L284.5 85.31 L285.2 85.35 L285.9 85.4 L286.6 85.44 L287.3 85.48 L288 85.53 L288.7 85.57 L289.4 85.61 L290.1 85.66 L290.8 85.7 L291.5 85.74 L292.2 85.79 L292.9 85.83 L293.6 85.87 L294.3 85.92 L295 85.96 L295.7 86 L296.4 86.05 L297.1 86.09 L297.8 86.13 L298.5 86.17 L299.2 86.22 L299.9 86.26 L300.6 86.3 L301.3 86.35 L302 86.39 L302.7 86.43 L303.4 86.48 L304.1 86.52 L304.8 86.56 L305.5 86.61 L306.2 86.65 L306.9 86.69 L307.6 86.74 L308.3 86.78 L309 86.82 L309.7 86.87 L310.4 86.91 L311.1 86.95 L311.8 87 L312.5 87.04 L313.2 87.08 L313.9 87.13 L314.6 87.17 L315.3 87.21 L316 87.26 L316.7 87.3 L317.4 87.34 L318.1 87.39 L318.8 87.43 L319.5 87.47 L320.2 87.52 L320.9 87.56 L321.6 87.6 L322.3 87.64 L323 87.69 L323.7 87.73 L324.4 87.77 L325.1 87.82 L325.8 87.86 L326.5 87.9 L327.2 87.95 L327.9 87.99 L328.6 88.03 L329.3 88.08 L330 88.12 L330.7 88.16 L331.4 88.21 L332.1 88.25 L332.8 88.29 L333.5 88.34 L334.2 88.38 L334.9 88.42 L335.6 88.47 L336.3 88.51 L337 88.55 L337.7 88.6 L338.4 88.64 L339.1 88.68 L339.8 88.73 L340.5 88.77 L341.2 88.81 L341.9 88.84 L342.6 88.87 L343.3 88.9 L344 88.93 L344.7 88.97 L345.4 89 L346.1 89.03 L346.8 89.06 L347.5 89.09 L348.2 89.12 L348.9 89.15 L349.6 89.18 L350.3 89.22 L351 89.25 L351.7 89.28 L352.4 89.31 L353.1 89.34 L353.8 89.37 L354.5 89.4 L355.2 89.43 L355.9 89.47 L356.6 89.5 L357.3 89.53 L358 89.56 L358.7 89.59 L359.4 89.62 L360.1 89.65 L360.8 89.68 L361.5 89.72 L362.2 89.75 L362.9 89.78 L363.6 89.81 L364.3 89.84 L365 89.87 L365.7 89.9 L366.4 89.93 L367.1 89.97 L367.8 90 L368.5 90.03 L369.2 90.06 L369.9 90.09 L370.6 90.12 L371.3 90.15 L372 90.19 L372.7 90.22 L373.4 90.25 L374.1 90.28 L374.8 90.31 L375.5 90.34 L376.2 90.37 L376.9 90.4 L377.6 90.44 L378.3 90.47 L379 90.5 L379.7 90.53 L380.4 90.56 L381.1 90.59 L381.8 90.62 L382.5 90.65 L383.2 90.69 L383.9 90.72 L384.6 90.75 L385.3 90.78 L386 90.81 L386.7 90.84 L387.4 90.87 L388.1 90.9 L388.8 90.94 L389.5 90.97 L390.2 91 L390.9 91.03 L391.6 91.06 L392.3 91.09 L393 91.12 L393.7 91.15 L394.4 91.19 L395.1 91.22 L395.8 91.25 L396.5 91.28 L397.2 91.31 L397.9 91.34 L398.6 91.37 L399.3 91.4 L400 91.44 L400.7 91.47 L401.4 91.5 L402.1 91.53 L402.8 91.56 L403.5 91.59 L404.2 91.62 L404.9 91.66 L405.6 91.69 L406.3 91.72 L407 91.75 L407.7 91.78 L408.4 91.81 L409.1 91.84 L409.8 91.87 L410.5 91.91 L411.2 91.94 L411.9 91.97 L412.6 92 L413.3 92.03 L414 92.06 L414.7 92.09 L415.4 92.12 L416.1 92.16 L416.8 92.19 L417.5 92.22 L418.2 92.25 L418.9 92.28 L419.6 92.31 L420.3 92.34 L421 92.37 L421.7 92.41 L422.4 92.44 L423.1 92.47 L423.8 92.5 L424.5 92.53 L425.2 92.56 L425.9 92.59 L426.6 92.62 L427.3 92.66 L428 92.69 L428.7 92.72 L429.4 92.75 L430.1 92.78 L430.8 92.81 L431.5 92.84 L432.2 92.87 L432.9 92.91 L433.6 92.94 L434.3 92.97 L435 93 L435.7 93.01 L436.4 93.03 L437.1 93.04 L437.8 93.06 L438.5 93.07 L439.2 93.09 L439.9 93.1 L440.6 93.11 L441.3 93.13 L442 93.14 L442.7 93.16 L443.4 93.17 L444.1 93.19 L444.8 93.2 L445.5 93.21 L446.2 93.23 L446.9 93.24 L447.6 93.26 L448.3 93.27 L449 93.29 L449.7 93.3 L450.4 93.31 L451.1 93.33 L451.8 93.34 L452.5 93.36 L453.2 93.37 L453.9 93.39 L454.6 93.4 L455.3 93.41 L456 93.43 L456.7 93.44 L457.4 93.46 L458.1 93.47 L458.8 93.49 L459.5 93.5 L460.2 93.51 L460.9 93.53 L461.6 93.54 L462.3 93.56 L463 93.57 L463.7 93.59 L464.4 93.6 L465.1 93.61 L465.8 93.63 L466.5 93.64 L467.2 93.66 L467.9 93.67 L468.6 93.69 L469.3 93.7 L470 93.71 L470.7 93.73 L471.4 93.74 L472.1 93.76 L472.8 93.77 L473.5 93.79 L474.2 93.8 L474.9 93.81 L475.6 93.83 L476.3 93.84 L477 93.86 L477.7 93.87 L478.4 93.89 L479.1 93.9 L479.8 93.91 L480.5 93.93 L481.2 93.94 L481.9 93.96 L482.6 93.97 L483.3 93.99 L484 94" fill="none" stroke="#e86a3a" stroke-width="1.1" stroke-dasharray="2.5 3"/>
<path d="M274 82.61 L274.7 82.8 L275.4 83.41 L276.1 82.62 L276.8 82.68 L277.5 82.79 L278.2 82.07 L278.9 82.59 L279.6 82.74 L280.3 82.96 L281 81.71 L281.7 81.98 L282.4 81.53 L283.1 82.65 L283.8 82.34 L284.5 81.1 L285.2 82.56 L285.9 82.37 L286.6 81.67 L287.3 81.42 L288 80.44 L288.7 79.97 L289.4 80.61 L290.1 79.57 L290.8 79.52 L291.5 79.33 L292.2 78.68 L292.9 79.11 L293.6 78.75 L294.3 79.11 L295 78.22 L295.7 78.08 L296.4 77.48 L297.1 77.4 L297.8 76.69 L298.5 76.02 L299.2 76.87 L299.9 76.51 L300.6 75.88 L301.3 75.3 L302 74.28 L302.7 73.79 L303.4 73.55 L304.1 72.85 L304.8 73.71 L305.5 72.77 L306.2 73.22 L306.9 72.13 L307.6 72.79 L308.3 72.3 L309 70.54 L309.7 70.57 L310.4 71.42 L311.1 70.31 L311.8 70.79 L312.5 69.38 L313.2 68.38 L313.9 68.84 L314.6 68.57 L315.3 67.13 L316 66.2 L316.7 65.94 L317.4 66.3 L318.1 65.18 L318.8 63.28 L319.5 62.64 L320.2 61.49 L320.9 60.49 L321.6 60.77 L322.3 58.72 L323 58.35 L323.7 57.11 L324.4 55.61 L325.1 55.44 L325.8 53.3 L326.5 53.04 L327.2 50.99 L327.9 50.32 L328.6 48.75 L329.3 47.59 L330 47.5 L330.7 45.9 L331.4 43.71 L332.1 43.33 L332.8 40.8 L333.5 39.72 L334.2 39.12 L334.9 37.41 L335.6 35.19 L336.3 35.48 L337 33.05 L337.7 32.15 L338.4 32.23 L339.1 30.88 L339.8 30.48 L340.5 30.03 L341.2 30.26 L341.9 31.54 L342.6 31.65 L343.3 33.2 L344 34 L344.7 35.57 L345.4 38.09 L346.1 39.15 L346.8 41.36 L347.5 44.05 L348.2 45.2 L348.9 47.55 L349.6 51.26 L350.3 53.55 L351 55.01 L351.7 57.29 L352.4 60.53 L353.1 63.08 L353.8 63.93 L354.5 67.21 L355.2 68.97 L355.9 70.24 L356.6 71.55 L357.3 72.49 L358 73.74 L358.7 76.54 L359.4 76.42 L360.1 78.2 L360.8 78.33 L361.5 80.07 L362.2 80.37 L362.9 80.46 L363.6 80.77 L364.3 82.14 L365 81.41 L365.7 82.01 L366.4 82.84 L367.1 83.56 L367.8 83.33 L368.5 82.91 L369.2 84.12 L369.9 83 L370.6 82.75 L371.3 83.24 L372 83.58 L372.7 82.96 L373.4 83.18 L374.1 83.53 L374.8 83.89 L375.5 83.15 L376.2 83.56 L376.9 84.47 L377.6 84.64 L378.3 84.11 L379 84.19 L379.7 84.03 L380.4 83.31 L381.1 83.17 L381.8 83.18 L382.5 84.74 L383.2 84.43 L383.9 84.93 L384.6 83.38 L385.3 84.48 L386 84.28 L386.7 84.76 L387.4 84.11 L388.1 85.32 L388.8 83.8 L389.5 84.64 L390.2 84.99 L390.9 85.29 L391.6 85.01 L392.3 84.94 L393 85.06 L393.7 85.22 L394.4 84.18 L395.1 84.64 L395.8 84.88 L396.5 84.66 L397.2 83.69 L397.9 84.08 L398.6 83.93 L399.3 83.11 L400 82.83 L400.7 82.01 L401.4 81.88 L402.1 81.41 L402.8 79.94 L403.5 80.26 L404.2 80.19 L404.9 79.29 L405.6 78.28 L406.3 76.92 L407 76.71 L407.7 75.64 L408.4 74.62 L409.1 74.53 L409.8 72.54 L410.5 73.04 L411.2 71.26 L411.9 71.79 L412.6 71.27 L413.3 70.67 L414 71.43 L414.7 71.22 L415.4 71.7 L416.1 72.63 L416.8 72.04 L417.5 72.29 L418.2 73.55 L418.9 75.04 L419.6 75.17 L420.3 76.1 L421 78.37 L421.7 78.99 L422.4 79.64 L423.1 81.41 L423.8 81.4 L424.5 82.86 L425.2 82.88 L425.9 84.01 L426.6 85.29 L427.3 86.02 L428 86.43 L428.7 85.98 L429.4 86.64 L430.1 86.47 L430.8 86.41 L431.5 87.25 L432.2 88.07 L432.9 88.33 L433.6 88.36 L434.3 89.05 L435 88.22 L435.7 88.34 L436.4 89.14 L437.1 89.15 L437.8 89.36 L438.5 89.98 L439.2 90.61 L439.9 90.62 L440.6 90.51 L441.3 91.58 L442 91.96 L442.7 91.17 L443.4 90.62 L444.1 90.62 L444.8 92.11 L445.5 90.74 L446.2 91.91 L446.9 91.7 L447.6 91.28 L448.3 92.12 L449 90.83 L449.7 91.04 L450.4 91.6 L451.1 90.89 L451.8 92.27 L452.5 91.28 L453.2 91.13 L453.9 90.99 L454.6 91.99 L455.3 91.7 L456 92.02 L456.7 92.08 L457.4 92.36 L458.1 92.63 L458.8 92.18 L459.5 91.37 L460.2 91.85 L460.9 91.36 L461.6 91.09 L462.3 91.89 L463 92.32 L463.7 91.42 L464.4 91.6 L465.1 91.74 L465.8 92.35 L466.5 92.06 L467.2 92.24 L467.9 92.5 L468.6 91.89 L469.3 92.59 L470 92.8 L470.7 91.42 L471.4 92.87 L472.1 92.53 L472.8 91.54 L473.5 92.1 L474.2 92.41 L474.9 92.91 L475.6 92.01 L476.3 92.36 L477 92.9 L477.7 92.77 L478.4 93.04 L479.1 92.24 L479.8 92.57 L480.5 91.83 L481.2 92.72 L481.9 92.9 L482.6 92.61 L483.3 92.76 L484 91.91" fill="none" stroke="#82d0c8" stroke-width="1.3" stroke-dasharray="1.2 0.9"/>
<path d="M274 84.24 L274.7 84.24 L275.4 84.24 L276.1 84.23 L276.8 84.21 L277.5 84.19 L278.2 84.16 L278.9 84.12 L279.6 84.07 L280.3 84.02 L281 83.95 L281.7 83.87 L282.4 83.78 L283.1 83.68 L283.8 83.56 L284.5 83.43 L285.2 83.29 L285.9 83.13 L286.6 82.96 L287.3 82.77 L288 82.57 L288.7 82.35 L289.4 82.12 L290.1 81.87 L290.8 81.6 L291.5 81.32 L292.2 81.03 L292.9 80.72 L293.6 80.41 L294.3 80.08 L295 79.74 L295.7 79.39 L296.4 79.03 L297.1 78.67 L297.8 78.31 L298.5 77.94 L299.2 77.58 L299.9 77.21 L300.6 76.85 L301.3 76.49 L302 76.14 L302.7 75.8 L303.4 75.46 L304.1 75.13 L304.8 74.81 L305.5 74.49 L306.2 74.18 L306.9 73.87 L307.6 73.57 L308.3 73.26 L309 72.94 L309.7 72.61 L310.4 72.27 L311.1 71.91 L311.8 71.52 L312.5 71.11 L313.2 70.66 L313.9 70.17 L314.6 69.64 L315.3 69.07 L316 68.45 L316.7 67.78 L317.4 67.06 L318.1 66.29 L318.8 65.48 L319.5 64.62 L320.2 63.72 L320.9 62.78 L321.6 61.82 L322.3 60.82 L323 59.8 L323.7 58.75 L324.4 57.68 L325.1 56.59 L325.8 55.48 L326.5 54.35 L327.2 53.19 L327.9 52 L328.6 50.78 L329.3 49.53 L330 48.25 L330.7 46.94 L331.4 45.59 L332.1 44.23 L332.8 42.84 L333.5 41.45 L334.2 40.07 L334.9 38.72 L335.6 37.42 L336.3 36.2 L337 35.09 L337.7 34.11 L338.4 33.31 L339.1 32.72 L339.8 32.38 L340.5 32.3 L341.2 32.51 L341.9 32.95 L342.6 33.64 L343.3 34.58 L344 35.77 L344.7 37.2 L345.4 38.86 L346.1 40.73 L346.8 42.78 L347.5 44.98 L348.2 47.29 L348.9 49.68 L349.6 52.12 L350.3 54.56 L351 56.99 L351.7 59.36 L352.4 61.67 L353.1 63.89 L353.8 66 L354.5 67.99 L355.2 69.87 L355.9 71.61 L356.6 73.23 L357.3 74.71 L358 76.07 L358.7 77.3 L359.4 78.41 L360.1 79.41 L360.8 80.29 L361.5 81.07 L362.2 81.76 L362.9 82.36 L363.6 82.87 L364.3 83.32 L365 83.7 L365.7 84.02 L366.4 84.29 L367.1 84.51 L367.8 84.69 L368.5 84.84 L369.2 84.96 L369.9 85.05 L370.6 85.12 L371.3 85.18 L372 85.22 L372.7 85.26 L373.4 85.28 L374.1 85.3 L374.8 85.31 L375.5 85.33 L376.2 85.34 L376.9 85.35 L377.6 85.37 L378.3 85.39 L379 85.41 L379.7 85.44 L380.4 85.47 L381.1 85.51 L381.8 85.55 L382.5 85.59 L383.2 85.64 L383.9 85.69 L384.6 85.75 L385.3 85.8 L386 85.86 L386.7 85.92 L387.4 85.97 L388.1 86.02 L388.8 86.07 L389.5 86.11 L390.2 86.14 L390.9 86.16 L391.6 86.16 L392.3 86.15 L393 86.11 L393.7 86.06 L394.4 85.98 L395.1 85.88 L395.8 85.75 L396.5 85.58 L397.2 85.38 L397.9 85.14 L398.6 84.86 L399.3 84.54 L400 84.17 L400.7 83.76 L401.4 83.29 L402.1 82.77 L402.8 82.2 L403.5 81.58 L404.2 80.91 L404.9 80.19 L405.6 79.44 L406.3 78.66 L407 77.86 L407.7 77.06 L408.4 76.27 L409.1 75.51 L409.8 74.8 L410.5 74.16 L411.2 73.61 L411.9 73.17 L412.6 72.85 L413.3 72.67 L414 72.65 L414.7 72.78 L415.4 73.05 L416.1 73.47 L416.8 74.01 L417.5 74.67 L418.2 75.43 L418.9 76.29 L419.6 77.22 L420.3 78.21 L421 79.23 L421.7 80.26 L422.4 81.29 L423.1 82.29 L423.8 83.24 L424.5 84.13 L425.2 84.95 L425.9 85.68 L426.6 86.32 L427.3 86.87 L428 87.33 L428.7 87.72 L429.4 88.05 L430.1 88.33 L430.8 88.58 L431.5 88.81 L432.2 89.04 L432.9 89.29 L433.6 89.55 L434.3 89.84 L435 90.15 L435.7 90.45 L436.4 90.77 L437.1 91.09 L437.8 91.39 L438.5 91.68 L439.2 91.94 L439.9 92.18 L440.6 92.38 L441.3 92.55 L442 92.69 L442.7 92.8 L443.4 92.89 L444.1 92.97 L444.8 93.02 L445.5 93.07 L446.2 93.1 L446.9 93.13 L447.6 93.15 L448.3 93.18 L449 93.19 L449.7 93.21 L450.4 93.23 L451.1 93.25 L451.8 93.26 L452.5 93.28 L453.2 93.29 L453.9 93.31 L454.6 93.32 L455.3 93.34 L456 93.35 L456.7 93.37 L457.4 93.38 L458.1 93.4 L458.8 93.41 L459.5 93.43 L460.2 93.44 L460.9 93.46 L461.6 93.47 L462.3 93.49 L463 93.51 L463.7 93.52 L464.4 93.54 L465.1 93.55 L465.8 93.57 L466.5 93.58 L467.2 93.6 L467.9 93.61 L468.6 93.63 L469.3 93.64 L470 93.65 L470.7 93.67 L471.4 93.68 L472.1 93.7 L472.8 93.71 L473.5 93.73 L474.2 93.74 L474.9 93.76 L475.6 93.77 L476.3 93.79 L477 93.8 L477.7 93.82 L478.4 93.83 L479.1 93.85 L479.8 93.86 L480.5 93.88 L481.2 93.89 L481.9 93.91 L482.6 93.92 L483.3 93.94 L484 93.95" fill="none" stroke="#1e8a88" stroke-width="1.5" stroke-linejoin="round"/>
<path d="M287.3 159.55 L288 159.58 L288.7 159.6 L289.4 159.62 L290.1 159.64 L290.8 159.66 L291.5 159.68 L292.2 159.7 L292.9 159.72 L293.6 159.74 L294.3 159.76 L295 159.78 L295.7 159.8 L296.4 159.82 L297.1 159.84 L297.8 159.86 L298.5 159.87 L299.2 159.89 L299.9 159.91 L300.6 159.92 L301.3 159.94 L302 159.95 L302.7 159.96 L303.4 159.97 L304.1 159.98 L304.8 159.99 L305.5 160 L306.2 160 L306.9 160 L307.6 159.99 L308.3 159.98 L309 159.97 L309.7 159.94 L310.4 159.91 L311.1 159.87 L311.8 159.81 L312.5 159.73 L313.2 159.64 L313.9 159.53 L314.6 159.38 L315.3 159.21 L316 159 L316.7 158.75 L317.4 158.45 L318.1 158.1 L318.8 157.69 L319.5 157.21 L320.2 156.65 L320.9 156.01 L321.6 155.29 L322.3 154.47 L323 153.54 L323.7 152.52 L324.4 151.38 L325.1 150.13 L325.8 148.78 L326.5 147.31 L327.2 145.74 L327.9 144.07 L328.6 142.31 L329.3 140.47 L330 138.57 L330.7 136.62 L331.4 134.65 L332.1 132.67 L332.8 130.72 L333.5 128.81 L334.2 126.98 L334.9 125.25 L335.6 123.65 L336.3 122.21 L337 120.97 L337.7 119.94 L338.4 119.15 L339.1 118.61 L339.8 118.34 L340.5 118.35 L341.2 118.65 L341.9 119.22 L342.6 120.07 L343.3 121.17 L344 122.49 L344.7 124.01 L345.4 125.69 L346.1 127.52 L346.8 129.44 L347.5 131.45 L348.2 133.5 L348.9 135.57 L349.6 137.63 L350.3 139.67 L351 141.65 L351.7 143.56 L352.4 145.39 L353.1 147.12 L353.8 148.75 L354.5 150.26 L355.2 151.66 L355.9 152.94 L356.6 154.11 L357.3 155.17 L358 156.11 L358.7 156.96 L359.4 157.7 L360.1 158.36 L360.8 158.94 L361.5 159.44 L362.2 159.88 L362.9 160.25 L363.6 160.58 L364.3 160.85 L365 161.09 L365.7 161.3 L366.4 161.47 L367.1 161.62 L367.8 161.75 L368.5 161.86 L369.2 161.95 L369.9 162.04 L370.6 162.11 L371.3 162.18 L372 162.24 L372.7 162.29 L373.4 162.34 L374.1 162.39 L374.8 162.43 L375.5 162.47 L376.2 162.51 L376.9 162.55 L377.6 162.58 L378.3 162.62 L379 162.65 L379.7 162.69 L380.4 162.72 L381.1 162.75 L381.8 162.78 L382.5 162.81 L383.2 162.84 L383.9 162.87 L384.6 162.9 L385.3 162.93 L386 162.95 L386.7 162.98 L387.4 163.01 L388.1 163.04 L388.8 163.06 L389.5 163.09 L390.2 163.12 L390.9 163.14 L391.6 163.17 L391.6 163.37 L287.3 159.76 Z" fill="#fde4b2"/>
<path d="M287.3 159.55 L288 159.58 L288.7 159.6 L289.4 159.62 L290.1 159.64 L290.8 159.66 L291.5 159.68 L292.2 159.7 L292.9 159.72 L293.6 159.74 L294.3 159.76 L295 159.78 L295.7 159.8 L296.4 159.82 L297.1 159.84 L297.8 159.86 L298.5 159.87 L299.2 159.89 L299.9 159.91 L300.6 159.92 L301.3 159.94 L302 159.95 L302.7 159.96 L303.4 159.97 L304.1 159.98 L304.8 159.99 L305.5 160 L306.2 160 L306.9 160 L307.6 159.99 L308.3 159.98 L309 159.97 L309.7 159.94 L310.4 159.91 L311.1 159.87 L311.8 159.81 L312.5 159.73 L313.2 159.64 L313.9 159.53 L314.6 159.38 L315.3 159.21 L316 159 L316.7 158.75 L317.4 158.45 L318.1 158.1 L318.8 157.69 L319.5 157.21 L320.2 156.65 L320.9 156.01 L321.6 155.29 L322.3 154.47 L323 153.54 L323.7 152.52 L324.4 151.38 L325.1 150.13 L325.8 148.78 L326.5 147.31 L327.2 145.74 L327.9 144.07 L328.6 142.31 L329.3 140.47 L330 138.57 L330.7 136.62 L331.4 134.65 L332.1 132.67 L332.8 130.72 L333.5 128.81 L334.2 126.98 L334.9 125.25 L335.6 123.65 L336.3 122.21 L337 120.97 L337.7 119.94 L338.4 119.15 L339.1 118.61 L339.8 118.34 L340.5 118.35 L341.2 118.65 L341.9 119.22 L342.6 120.07 L343.3 121.17 L344 122.49 L344.7 124.01 L345.4 125.69 L346.1 127.52 L346.8 129.44 L347.5 131.45 L348.2 133.5 L348.9 135.57 L349.6 137.63 L350.3 139.67 L351 141.65 L351.7 143.56 L352.4 145.39 L353.1 147.12 L353.8 148.75 L354.5 150.26 L355.2 151.66 L355.9 152.94 L356.6 154.11 L357.3 155.17 L358 156.11 L358.7 156.96 L359.4 157.7 L360.1 158.36 L360.8 158.94 L361.5 159.44 L362.2 159.88 L362.9 160.25 L363.6 160.58 L364.3 160.85 L365 161.09 L365.7 161.3 L366.4 161.47 L367.1 161.62 L367.8 161.75 L368.5 161.86 L369.2 161.95 L369.9 162.04 L370.6 162.11 L371.3 162.18 L372 162.24 L372.7 162.29 L373.4 162.34 L374.1 162.39 L374.8 162.43 L375.5 162.47 L376.2 162.51 L376.9 162.55 L377.6 162.58 L378.3 162.62 L379 162.65 L379.7 162.69 L380.4 162.72 L381.1 162.75 L381.8 162.78 L382.5 162.81 L383.2 162.84 L383.9 162.87 L384.6 162.9 L385.3 162.93 L386 162.95 L386.7 162.98 L387.4 163.01 L388.1 163.04 L388.8 163.06 L389.5 163.09 L390.2 163.12 L390.9 163.14 L391.6 163.17" fill="none" stroke="#f5b400" stroke-width="1.3"/>
<path d="M285.9 159.49 L286.6 159.47 L287.3 159.45 L288 159.43 L288.7 159.39 L289.4 159.35 L290.1 159.3 L290.8 159.24 L291.5 159.17 L292.2 159.09 L292.9 159 L293.6 158.9 L294.3 158.79 L295 158.67 L295.7 158.53 L296.4 158.39 L297.1 158.23 L297.8 158.07 L298.5 157.9 L299.2 157.73 L299.9 157.55 L300.6 157.36 L301.3 157.18 L302 156.99 L302.7 156.81 L303.4 156.64 L304.1 156.47 L304.8 156.31 L305.5 156.17 L306.2 156.04 L306.9 155.92 L307.6 155.83 L308.3 155.75 L309 155.7 L309.7 155.67 L310.4 155.66 L311.1 155.68 L311.8 155.73 L312.5 155.81 L313.2 155.91 L313.9 156.04 L314.6 156.2 L315.3 156.38 L316 156.59 L316.7 156.81 L317.4 157.04 L318.1 157.29 L318.8 157.55 L319.5 157.81 L320.2 158.07 L320.9 158.33 L321.6 158.59 L322.3 158.84 L323 159.09 L323.7 159.32 L324.4 159.55 L325.1 159.76 L325.8 159.96 L326.5 160.15 L327.2 160.32 L327.9 160.48 L328.6 160.62 L329.3 160.76 L330 160.88 L330.7 160.99 L331.4 161.09 L332.1 161.18 L332.8 161.26 L333.5 161.33 L333.5 161.55 L285.9 159.7 Z" fill="#d98c6a"/>
<path d="M285.9 159.49 L286.6 159.47 L287.3 159.45 L288 159.43 L288.7 159.39 L289.4 159.35 L290.1 159.3 L290.8 159.24 L291.5 159.17 L292.2 159.09 L292.9 159 L293.6 158.9 L294.3 158.79 L295 158.67 L295.7 158.53 L296.4 158.39 L297.1 158.23 L297.8 158.07 L298.5 157.9 L299.2 157.73 L299.9 157.55 L300.6 157.36 L301.3 157.18 L302 156.99 L302.7 156.81 L303.4 156.64 L304.1 156.47 L304.8 156.31 L305.5 156.17 L306.2 156.04 L306.9 155.92 L307.6 155.83 L308.3 155.75 L309 155.7 L309.7 155.67 L310.4 155.66 L311.1 155.68 L311.8 155.73 L312.5 155.81 L313.2 155.91 L313.9 156.04 L314.6 156.2 L315.3 156.38 L316 156.59 L316.7 156.81 L317.4 157.04 L318.1 157.29 L318.8 157.55 L319.5 157.81 L320.2 158.07 L320.9 158.33 L321.6 158.59 L322.3 158.84 L323 159.09 L323.7 159.32 L324.4 159.55 L325.1 159.76 L325.8 159.96 L326.5 160.15 L327.2 160.32 L327.9 160.48 L328.6 160.62 L329.3 160.76 L330 160.88 L330.7 160.99 L331.4 161.09 L332.1 161.18 L332.8 161.26 L333.5 161.33 L333.5 161.55 L285.9 159.7 Z" fill="url(#dots)"/>
<path d="M305.5 160.22 L306.2 160.19 L306.9 160.15 L307.6 160.1 L308.3 160.03 L309 159.94 L309.7 159.84 L310.4 159.73 L311.1 159.59 L311.8 159.44 L312.5 159.27 L313.2 159.08 L313.9 158.87 L314.6 158.64 L315.3 158.41 L316 158.15 L316.7 157.9 L317.4 157.63 L318.1 157.37 L318.8 157.11 L319.5 156.86 L320.2 156.62 L320.9 156.4 L321.6 156.21 L322.3 156.04 L323 155.91 L323.7 155.81 L324.4 155.75 L325.1 155.73 L325.8 155.76 L326.5 155.84 L327.2 155.97 L327.9 156.15 L328.6 156.38 L329.3 156.64 L330 156.94 L330.7 157.27 L331.4 157.62 L332.1 157.97 L332.8 158.33 L333.5 158.69 L334.2 159.04 L334.9 159.37 L335.6 159.69 L336.3 159.99 L337 160.26 L337.7 160.51 L338.4 160.74 L339.1 160.94 L339.8 161.12 L340.5 161.27 L341.2 161.41 L341.9 161.53 L342.6 161.63 L343.3 161.72 L343.3 161.93 L305.5 160.46 Z" fill="#7a8ca4"/>
<path d="M324.4 160.99 L325.1 160.94 L325.8 160.87 L326.5 160.77 L327.2 160.65 L327.9 160.5 L328.6 160.32 L329.3 160.1 L330 159.85 L330.7 159.58 L331.4 159.28 L332.1 158.97 L332.8 158.65 L333.5 158.33 L334.2 158.04 L334.9 157.77 L335.6 157.54 L336.3 157.37 L337 157.26 L337.7 157.22 L338.4 157.26 L339.1 157.38 L339.8 157.58 L340.5 157.85 L341.2 158.19 L341.9 158.56 L342.6 158.96 L343.3 159.37 L344 159.77 L344.7 160.15 L345.4 160.51 L346.1 160.82 L346.8 161.1 L347.5 161.33 L348.2 161.53 L348.9 161.7 L349.6 161.83 L350.3 161.94 L350.3 162.16 L324.4 161.2 Z" fill="#e8504e"/>
<path d="M355.2 162.09 L355.9 162.09 L356.6 162.09 L357.3 162.08 L358 162.07 L358.7 162.06 L359.4 162.05 L360.1 162.03 L360.8 162.02 L361.5 162 L362.2 161.98 L362.9 161.95 L363.6 161.93 L364.3 161.9 L365 161.87 L365.7 161.84 L366.4 161.8 L367.1 161.77 L367.8 161.73 L368.5 161.69 L369.2 161.66 L369.9 161.62 L370.6 161.58 L371.3 161.54 L372 161.5 L372.7 161.46 L373.4 161.42 L374.1 161.38 L374.8 161.34 L375.5 161.31 L376.2 161.28 L376.9 161.25 L377.6 161.22 L378.3 161.2 L379 161.18 L379.7 161.16 L380.4 161.15 L381.1 161.14 L381.8 161.14 L382.5 161.14 L383.2 161.14 L383.9 161.15 L384.6 161.17 L385.3 161.19 L386 161.21 L386.7 161.24 L387.4 161.28 L388.1 161.32 L388.8 161.36 L389.5 161.41 L390.2 161.47 L390.9 161.52 L391.6 161.58 L392.3 161.65 L393 161.72 L393.7 161.79 L394.4 161.86 L395.1 161.93 L395.8 162.01 L396.5 162.09 L397.2 162.17 L397.9 162.25 L398.6 162.33 L399.3 162.41 L400 162.49 L400.7 162.58 L401.4 162.66 L402.1 162.73 L402.8 162.81 L403.5 162.89 L404.2 162.96 L404.9 163.04 L405.6 163.11 L406.3 163.18 L407 163.25 L407.7 163.31 L408.4 163.37 L409.1 163.43 L409.8 163.49 L410.5 163.55 L411.2 163.6 L411.9 163.66 L412.6 163.71 L413.3 163.75 L414 163.8 L414.7 163.84 L414.7 164.05 L355.2 162.3 Z" fill="#96d8b6"/>
<path d="M395.1 163.23 L395.8 163.19 L396.5 163.14 L397.2 163.08 L397.9 163 L398.6 162.9 L399.3 162.79 L400 162.66 L400.7 162.51 L401.4 162.33 L402.1 162.13 L402.8 161.91 L403.5 161.66 L404.2 161.39 L404.9 161.1 L405.6 160.78 L406.3 160.45 L407 160.1 L407.7 159.73 L408.4 159.36 L409.1 158.98 L409.8 158.6 L410.5 158.23 L411.2 157.87 L411.9 157.53 L412.6 157.22 L413.3 156.93 L414 156.68 L414.7 156.48 L415.4 156.32 L416.1 156.2 L416.8 156.14 L417.5 156.14 L418.2 156.18 L418.9 156.29 L419.6 156.44 L420.3 156.64 L421 156.89 L421.7 157.18 L422.4 157.51 L423.1 157.86 L423.8 158.24 L424.5 158.64 L425.2 159.06 L425.9 159.48 L426.6 159.89 L427.3 160.31 L428 160.72 L428.7 161.11 L429.4 161.49 L430.1 161.84 L430.8 162.18 L431.5 162.49 L432.2 162.78 L432.9 163.04 L433.6 163.28 L434.3 163.5 L435 163.69 L435.7 163.87 L436.4 164.02 L437.1 164.15 L437.8 164.27 L438.5 164.38 L439.2 164.47 L439.9 164.55 L439.9 164.8 L395.1 163.48 Z" fill="url(#gRu4)"/>
<path d="M416.8 163.86 L417.5 163.79 L418.2 163.69 L418.9 163.57 L419.6 163.42 L420.3 163.23 L421 163.01 L421.7 162.75 L422.4 162.45 L423.1 162.13 L423.8 161.78 L424.5 161.42 L425.2 161.06 L425.9 160.7 L426.6 160.37 L427.3 160.07 L428 159.83 L428.7 159.65 L429.4 159.54 L430.1 159.51 L430.8 159.56 L431.5 159.69 L432.2 159.89 L432.9 160.16 L433.6 160.48 L434.3 160.84 L435 161.24 L435.7 161.64 L436.4 162.05 L437.1 162.44 L437.8 162.81 L438.5 163.15 L439.2 163.47 L439.9 163.74 L440.6 163.97 L441.3 164.16 L442 164.32 L442.7 164.45 L443.4 164.56 L444.1 164.64 L444.1 164.85 L416.8 164.12 Z" fill="#e8504e"/>
<path d="M274 159.24 L274.7 159.27 L275.4 159.29 L276.1 159.32 L276.8 159.35 L277.5 159.38 L278.2 159.4 L278.9 159.43 L279.6 159.46 L280.3 159.48 L281 159.51 L281.7 159.54 L282.4 159.57 L283.1 159.59 L283.8 159.62 L284.5 159.65 L285.2 159.67 L285.9 159.7 L286.6 159.73 L287.3 159.76 L288 159.78 L288.7 159.81 L289.4 159.84 L290.1 159.86 L290.8 159.89 L291.5 159.92 L292.2 159.95 L292.9 159.97 L293.6 160 L294.3 160.03 L295 160.06 L295.7 160.08 L296.4 160.11 L297.1 160.14 L297.8 160.16 L298.5 160.19 L299.2 160.22 L299.9 160.25 L300.6 160.27 L301.3 160.3 L302 160.33 L302.7 160.35 L303.4 160.38 L304.1 160.41 L304.8 160.44 L305.5 160.46 L306.2 160.49 L306.9 160.52 L307.6 160.55 L308.3 160.57 L309 160.6 L309.7 160.63 L310.4 160.65 L311.1 160.68 L311.8 160.71 L312.5 160.74 L313.2 160.76 L313.9 160.79 L314.6 160.82 L315.3 160.84 L316 160.87 L316.7 160.9 L317.4 160.93 L318.1 160.95 L318.8 160.98 L319.5 161.01 L320.2 161.04 L320.9 161.06 L321.6 161.09 L322.3 161.12 L323 161.14 L323.7 161.17 L324.4 161.2 L325.1 161.23 L325.8 161.25 L326.5 161.28 L327.2 161.31 L327.9 161.33 L328.6 161.36 L329.3 161.39 L330 161.42 L330.7 161.44 L331.4 161.47 L332.1 161.5 L332.8 161.53 L333.5 161.55 L334.2 161.58 L334.9 161.61 L335.6 161.63 L336.3 161.66 L337 161.69 L337.7 161.72 L338.4 161.74 L339.1 161.77 L339.8 161.8 L340.5 161.82 L341.2 161.85 L341.9 161.88 L342.6 161.91 L343.3 161.93 L344 161.96 L344.7 161.99 L345.4 162.01 L346.1 162.03 L346.8 162.05 L347.5 162.07 L348.2 162.09 L348.9 162.11 L349.6 162.14 L350.3 162.16 L351 162.18 L351.7 162.2 L352.4 162.22 L353.1 162.24 L353.8 162.26 L354.5 162.28 L355.2 162.3 L355.9 162.32 L356.6 162.34 L357.3 162.36 L358 162.38 L358.7 162.4 L359.4 162.42 L360.1 162.45 L360.8 162.47 L361.5 162.49 L362.2 162.51 L362.9 162.53 L363.6 162.55 L364.3 162.57 L365 162.59 L365.7 162.61 L366.4 162.63 L367.1 162.65 L367.8 162.67 L368.5 162.69 L369.2 162.71 L369.9 162.73 L370.6 162.75 L371.3 162.78 L372 162.8 L372.7 162.82 L373.4 162.84 L374.1 162.86 L374.8 162.88 L375.5 162.9 L376.2 162.92 L376.9 162.94 L377.6 162.96 L378.3 162.98 L379 163 L379.7 163.02 L380.4 163.04 L381.1 163.06 L381.8 163.08 L382.5 163.11 L383.2 163.13 L383.9 163.15 L384.6 163.17 L385.3 163.19 L386 163.21 L386.7 163.23 L387.4 163.25 L388.1 163.27 L388.8 163.29 L389.5 163.31 L390.2 163.33 L390.9 163.35 L391.6 163.37 L392.3 163.39 L393 163.41 L393.7 163.44 L394.4 163.46 L395.1 163.48 L395.8 163.5 L396.5 163.52 L397.2 163.54 L397.9 163.56 L398.6 163.58 L399.3 163.6 L400 163.62 L400.7 163.64 L401.4 163.66 L402.1 163.68 L402.8 163.7 L403.5 163.72 L404.2 163.74 L404.9 163.77 L405.6 163.79 L406.3 163.81 L407 163.83 L407.7 163.85 L408.4 163.87 L409.1 163.89 L409.8 163.91 L410.5 163.93 L411.2 163.95 L411.9 163.97 L412.6 163.99 L413.3 164.01 L414 164.03 L414.7 164.05 L415.4 164.07 L416.1 164.1 L416.8 164.12 L417.5 164.14 L418.2 164.16 L418.9 164.18 L419.6 164.2 L420.3 164.22 L421 164.24 L421.7 164.26 L422.4 164.28 L423.1 164.3 L423.8 164.32 L424.5 164.34 L425.2 164.36 L425.9 164.38 L426.6 164.41 L427.3 164.43 L428 164.45 L428.7 164.47 L429.4 164.49 L430.1 164.51 L430.8 164.53 L431.5 164.55 L432.2 164.57 L432.9 164.59 L433.6 164.61 L434.3 164.63 L435 164.65 L435.7 164.67 L436.4 164.69 L437.1 164.71 L437.8 164.74 L438.5 164.76 L439.2 164.78 L439.9 164.8 L440.6 164.81 L441.3 164.81 L442 164.82 L442.7 164.83 L443.4 164.84 L444.1 164.85 L444.8 164.85 L445.5 164.86 L446.2 164.87 L446.9 164.88 L447.6 164.89 L448.3 164.89 L449 164.9 L449.7 164.91 L450.4 164.92 L451.1 164.93 L451.8 164.93 L452.5 164.94 L453.2 164.95 L453.9 164.96 L454.6 164.97 L455.3 164.97 L456 164.98 L456.7 164.99 L457.4 165 L458.1 165.01 L458.8 165.01 L459.5 165.02 L460.2 165.03 L460.9 165.04 L461.6 165.05 L462.3 165.05 L463 165.06 L463.7 165.07 L464.4 165.08 L465.1 165.09 L465.8 165.09 L466.5 165.1 L467.2 165.11 L467.9 165.12 L468.6 165.12 L469.3 165.13 L470 165.14 L470.7 165.15 L471.4 165.16 L472.1 165.16 L472.8 165.17 L473.5 165.18 L474.2 165.19 L474.9 165.2 L475.6 165.2 L476.3 165.21 L477 165.22 L477.7 165.23 L478.4 165.24 L479.1 165.24 L479.8 165.25 L480.5 165.26 L481.2 165.27 L481.9 165.28 L482.6 165.28 L483.3 165.29 L484 165.3" fill="none" stroke="#2a8f8a" stroke-width="1.1"/>
<path d="M274 159.24 L274.7 159.27 L275.4 159.29 L276.1 159.32 L276.8 159.35 L277.5 159.38 L278.2 159.4 L278.9 159.43 L279.6 159.46 L280.3 159.48 L281 159.51 L281.7 159.54 L282.4 159.57 L283.1 159.59 L283.8 159.62 L284.5 159.65 L285.2 159.67 L285.9 159.7 L286.6 159.73 L287.3 159.76 L288 159.78 L288.7 159.81 L289.4 159.84 L290.1 159.86 L290.8 159.89 L291.5 159.92 L292.2 159.95 L292.9 159.97 L293.6 160 L294.3 160.03 L295 160.06 L295.7 160.08 L296.4 160.11 L297.1 160.14 L297.8 160.16 L298.5 160.19 L299.2 160.22 L299.9 160.25 L300.6 160.27 L301.3 160.3 L302 160.33 L302.7 160.35 L303.4 160.38 L304.1 160.41 L304.8 160.44 L305.5 160.46 L306.2 160.49 L306.9 160.52 L307.6 160.55 L308.3 160.57 L309 160.6 L309.7 160.63 L310.4 160.65 L311.1 160.68 L311.8 160.71 L312.5 160.74 L313.2 160.76 L313.9 160.79 L314.6 160.82 L315.3 160.84 L316 160.87 L316.7 160.9 L317.4 160.93 L318.1 160.95 L318.8 160.98 L319.5 161.01 L320.2 161.04 L320.9 161.06 L321.6 161.09 L322.3 161.12 L323 161.14 L323.7 161.17 L324.4 161.2 L325.1 161.23 L325.8 161.25 L326.5 161.28 L327.2 161.31 L327.9 161.33 L328.6 161.36 L329.3 161.39 L330 161.42 L330.7 161.44 L331.4 161.47 L332.1 161.5 L332.8 161.53 L333.5 161.55 L334.2 161.58 L334.9 161.61 L335.6 161.63 L336.3 161.66 L337 161.69 L337.7 161.72 L338.4 161.74 L339.1 161.77 L339.8 161.8 L340.5 161.82 L341.2 161.85 L341.9 161.88 L342.6 161.91 L343.3 161.93 L344 161.96 L344.7 161.99 L345.4 162.01 L346.1 162.03 L346.8 162.05 L347.5 162.07 L348.2 162.09 L348.9 162.11 L349.6 162.14 L350.3 162.16 L351 162.18 L351.7 162.2 L352.4 162.22 L353.1 162.24 L353.8 162.26 L354.5 162.28 L355.2 162.3 L355.9 162.32 L356.6 162.34 L357.3 162.36 L358 162.38 L358.7 162.4 L359.4 162.42 L360.1 162.45 L360.8 162.47 L361.5 162.49 L362.2 162.51 L362.9 162.53 L363.6 162.55 L364.3 162.57 L365 162.59 L365.7 162.61 L366.4 162.63 L367.1 162.65 L367.8 162.67 L368.5 162.69 L369.2 162.71 L369.9 162.73 L370.6 162.75 L371.3 162.78 L372 162.8 L372.7 162.82 L373.4 162.84 L374.1 162.86 L374.8 162.88 L375.5 162.9 L376.2 162.92 L376.9 162.94 L377.6 162.96 L378.3 162.98 L379 163 L379.7 163.02 L380.4 163.04 L381.1 163.06 L381.8 163.08 L382.5 163.11 L383.2 163.13 L383.9 163.15 L384.6 163.17 L385.3 163.19 L386 163.21 L386.7 163.23 L387.4 163.25 L388.1 163.27 L388.8 163.29 L389.5 163.31 L390.2 163.33 L390.9 163.35 L391.6 163.37 L392.3 163.39 L393 163.41 L393.7 163.44 L394.4 163.46 L395.1 163.48 L395.8 163.5 L396.5 163.52 L397.2 163.54 L397.9 163.56 L398.6 163.58 L399.3 163.6 L400 163.62 L400.7 163.64 L401.4 163.66 L402.1 163.68 L402.8 163.7 L403.5 163.72 L404.2 163.74 L404.9 163.77 L405.6 163.79 L406.3 163.81 L407 163.83 L407.7 163.85 L408.4 163.87 L409.1 163.89 L409.8 163.91 L410.5 163.93 L411.2 163.95 L411.9 163.97 L412.6 163.99 L413.3 164.01 L414 164.03 L414.7 164.05 L415.4 164.07 L416.1 164.1 L416.8 164.12 L417.5 164.14 L418.2 164.16 L418.9 164.18 L419.6 164.2 L420.3 164.22 L421 164.24 L421.7 164.26 L422.4 164.28 L423.1 164.3 L423.8 164.32 L424.5 164.34 L425.2 164.36 L425.9 164.38 L426.6 164.41 L427.3 164.43 L428 164.45 L428.7 164.47 L429.4 164.49 L430.1 164.51 L430.8 164.53 L431.5 164.55 L432.2 164.57 L432.9 164.59 L433.6 164.61 L434.3 164.63 L435 164.65 L435.7 164.67 L436.4 164.69 L437.1 164.71 L437.8 164.74 L438.5 164.76 L439.2 164.78 L439.9 164.8 L440.6 164.81 L441.3 164.81 L442 164.82 L442.7 164.83 L443.4 164.84 L444.1 164.85 L444.8 164.85 L445.5 164.86 L446.2 164.87 L446.9 164.88 L447.6 164.89 L448.3 164.89 L449 164.9 L449.7 164.91 L450.4 164.92 L451.1 164.93 L451.8 164.93 L452.5 164.94 L453.2 164.95 L453.9 164.96 L454.6 164.97 L455.3 164.97 L456 164.98 L456.7 164.99 L457.4 165 L458.1 165.01 L458.8 165.01 L459.5 165.02 L460.2 165.03 L460.9 165.04 L461.6 165.05 L462.3 165.05 L463 165.06 L463.7 165.07 L464.4 165.08 L465.1 165.09 L465.8 165.09 L466.5 165.1 L467.2 165.11 L467.9 165.12 L468.6 165.12 L469.3 165.13 L470 165.14 L470.7 165.15 L471.4 165.16 L472.1 165.16 L472.8 165.17 L473.5 165.18 L474.2 165.19 L474.9 165.2 L475.6 165.2 L476.3 165.21 L477 165.22 L477.7 165.23 L478.4 165.24 L479.1 165.24 L479.8 165.25 L480.5 165.26 L481.2 165.27 L481.9 165.28 L482.6 165.28 L483.3 165.29 L484 165.3" fill="none" stroke="#e86a3a" stroke-width="1.1" stroke-dasharray="2.5 3"/>
<path d="M274 157.51 L274.7 157.84 L275.4 157.88 L276.1 157.01 L276.8 156.81 L277.5 157.45 L278.2 157.3 L278.9 158.23 L279.6 158.04 L280.3 157.9 L281 157.84 L281.7 158.03 L282.4 157.16 L283.1 157.67 L283.8 157.19 L284.5 158.46 L285.2 157.01 L285.9 158.29 L286.6 157 L287.3 158.02 L288 157.39 L288.7 157.47 L289.4 158.17 L290.1 156.71 L290.8 156.72 L291.5 158.09 L292.2 157.31 L292.9 156.51 L293.6 157.92 L294.3 157.73 L295 156.18 L295.7 156.57 L296.4 155.92 L297.1 156.06 L297.8 156.41 L298.5 155.44 L299.2 156.16 L299.9 154.86 L300.6 154.86 L301.3 155.74 L302 154.82 L302.7 154.64 L303.4 154.72 L304.1 154.3 L304.8 153.93 L305.5 153.11 L306.2 154.08 L306.9 154.28 L307.6 154.08 L308.3 153.34 L309 152.62 L309.7 152.42 L310.4 152.77 L311.1 152.52 L311.8 151.35 L312.5 151.33 L313.2 151.32 L313.9 151.33 L314.6 151.57 L315.3 150.76 L316 149.65 L316.7 150.65 L317.4 149.6 L318.1 149.32 L318.8 148.34 L319.5 148.16 L320.2 147.5 L320.9 147.48 L321.6 145.61 L322.3 145.55 L323 144 L323.7 143.88 L324.4 141.66 L325.1 140.86 L325.8 139.65 L326.5 138.73 L327.2 136.21 L327.9 135.28 L328.6 133.13 L329.3 131.43 L330 129.85 L330.7 128.69 L331.4 125.85 L332.1 124.59 L332.8 121.19 L333.5 120.45 L334.2 117.55 L334.9 115.41 L335.6 114.68 L336.3 113.48 L337 110.7 L337.7 110.19 L338.4 110.39 L339.1 109.34 L339.8 109.21 L340.5 109.21 L341.2 110.01 L341.9 112.08 L342.6 114.08 L343.3 115.76 L344 116.79 L344.7 118.03 L345.4 120.73 L346.1 123.81 L346.8 126.24 L347.5 128.29 L348.2 129.97 L348.9 132.82 L349.6 135.03 L350.3 137.51 L351 139.02 L351.7 142.21 L352.4 144.04 L353.1 144.59 L353.8 146.49 L354.5 149.02 L355.2 149.42 L355.9 151.84 L356.6 152.28 L357.3 153.63 L358 154.57 L358.7 154.56 L359.4 155.4 L360.1 155.98 L360.8 157.25 L361.5 157.73 L362.2 157.17 L362.9 158.78 L363.6 158.27 L364.3 158.19 L365 158.71 L365.7 159.79 L366.4 159.19 L367.1 159.4 L367.8 159.97 L368.5 160.09 L369.2 159.79 L369.9 159.23 L370.6 159.54 L371.3 160.07 L372 159.88 L372.7 159.52 L373.4 159.11 L374.1 159.14 L374.8 159.75 L375.5 159.44 L376.2 158.5 L376.9 159.66 L377.6 159.98 L378.3 159.79 L379 159.95 L379.7 159.97 L380.4 159.33 L381.1 159.77 L381.8 159.07 L382.5 158.61 L383.2 159.05 L383.9 159 L384.6 160.08 L385.3 159.69 L386 159.47 L386.7 159.64 L387.4 158.84 L388.1 159.57 L388.8 159.9 L389.5 159.43 L390.2 159.22 L390.9 159.55 L391.6 159.45 L392.3 160.12 L393 159.24 L393.7 159.19 L394.4 159.61 L395.1 160.29 L395.8 160.42 L396.5 160.26 L397.2 160.73 L397.9 159.75 L398.6 159.15 L399.3 159.88 L400 159.74 L400.7 159.2 L401.4 159.91 L402.1 159.22 L402.8 158.89 L403.5 158.85 L404.2 159.68 L404.9 157.85 L405.6 158.19 L406.3 157.77 L407 157.33 L407.7 157.41 L408.4 156.72 L409.1 157.57 L409.8 156.52 L410.5 156.52 L411.2 155.28 L411.9 155.48 L412.6 155.43 L413.3 155.56 L414 154.31 L414.7 154.45 L415.4 154.95 L416.1 154.77 L416.8 153.63 L417.5 154.08 L418.2 154.41 L418.9 153.76 L419.6 154.22 L420.3 154.21 L421 154.75 L421.7 154.06 L422.4 154.3 L423.1 153.76 L423.8 154.43 L424.5 153.75 L425.2 154.09 L425.9 153.9 L426.6 153.88 L427.3 153.7 L428 153.99 L428.7 154.73 L429.4 154.48 L430.1 154.44 L430.8 156.1 L431.5 155.64 L432.2 157.22 L432.9 157.16 L433.6 157.34 L434.3 158.73 L435 159.34 L435.7 158.91 L436.4 159.12 L437.1 160.51 L437.8 161.32 L438.5 161.35 L439.2 162.03 L439.9 161.74 L440.6 162.37 L441.3 162 L442 162.43 L442.7 162.55 L443.4 162.68 L444.1 162.81 L444.8 163.58 L445.5 162.56 L446.2 162.67 L446.9 162.79 L447.6 164.04 L448.3 163.3 L449 162.52 L449.7 163.87 L450.4 163.95 L451.1 163.87 L451.8 163.09 L452.5 163.74 L453.2 163.02 L453.9 162.75 L454.6 163.99 L455.3 163.95 L456 162.9 L456.7 164.04 L457.4 162.6 L458.1 163.09 L458.8 162.6 L459.5 162.87 L460.2 162.87 L460.9 163.82 L461.6 163.11 L462.3 162.94 L463 162.94 L463.7 163.16 L464.4 164.11 L465.1 163.68 L465.8 162.83 L466.5 163.83 L467.2 163.59 L467.9 163.45 L468.6 163.59 L469.3 163.81 L470 164.07 L470.7 163.58 L471.4 163.8 L472.1 163.53 L472.8 163.82 L473.5 163.41 L474.2 163.46 L474.9 163.64 L475.6 163.99 L476.3 163.26 L477 164.36 L477.7 163.63 L478.4 164.26 L479.1 163.99 L479.8 164.45 L480.5 163.99 L481.2 163.57 L481.9 163.54 L482.6 163.89 L483.3 164.15 L484 164.3" fill="none" stroke="#82d0c8" stroke-width="1.3" stroke-dasharray="1.2 0.9"/>
<path d="M274 159.1 L274.7 159.13 L275.4 159.15 L276.1 159.17 L276.8 159.19 L277.5 159.21 L278.2 159.23 L278.9 159.25 L279.6 159.27 L280.3 159.28 L281 159.29 L281.7 159.3 L282.4 159.31 L283.1 159.32 L283.8 159.32 L284.5 159.32 L285.2 159.31 L285.9 159.3 L286.6 159.28 L287.3 159.25 L288 159.22 L288.7 159.18 L289.4 159.13 L290.1 159.08 L290.8 159.01 L291.5 158.94 L292.2 158.85 L292.9 158.75 L293.6 158.64 L294.3 158.52 L295 158.39 L295.7 158.25 L296.4 158.09 L297.1 157.93 L297.8 157.75 L298.5 157.57 L299.2 157.37 L299.9 157.17 L300.6 156.97 L301.3 156.76 L302 156.54 L302.7 156.32 L303.4 156.11 L304.1 155.89 L304.8 155.67 L305.5 155.46 L306.2 155.24 L306.9 155.03 L307.6 154.82 L308.3 154.62 L309 154.41 L309.7 154.2 L310.4 153.99 L311.1 153.78 L311.8 153.56 L312.5 153.33 L313.2 153.1 L313.9 152.86 L314.6 152.59 L315.3 152.31 L316 152 L316.7 151.65 L317.4 151.27 L318.1 150.84 L318.8 150.37 L319.5 149.83 L320.2 149.24 L320.9 148.57 L321.6 147.83 L322.3 147.01 L323 146.1 L323.7 145.1 L324.4 144 L325.1 142.79 L325.8 141.47 L326.5 140.05 L327.2 138.53 L327.9 136.9 L328.6 135.17 L329.3 133.35 L330 131.44 L330.7 129.46 L331.4 127.43 L332.1 125.37 L332.8 123.31 L333.5 121.28 L334.2 119.33 L334.9 117.49 L335.6 115.81 L336.3 114.33 L337 113.09 L337.7 112.13 L338.4 111.48 L339.1 111.16 L339.8 111.2 L340.5 111.6 L341.2 112.35 L341.9 113.43 L342.6 114.81 L343.3 116.46 L344 118.33 L344.7 120.39 L345.4 122.59 L346.1 124.88 L346.8 127.23 L347.5 129.61 L348.2 131.98 L348.9 134.33 L349.6 136.62 L350.3 138.84 L351 140.97 L351.7 143 L352.4 144.92 L353.1 146.72 L353.8 148.39 L354.5 149.93 L355.2 151.35 L355.9 152.64 L356.6 153.8 L357.3 154.85 L358 155.78 L358.7 156.6 L359.4 157.32 L360.1 157.94 L360.8 158.49 L361.5 158.95 L362.2 159.34 L362.9 159.68 L363.6 159.95 L364.3 160.18 L365 160.37 L365.7 160.52 L366.4 160.64 L367.1 160.74 L367.8 160.81 L368.5 160.86 L369.2 160.9 L369.9 160.92 L370.6 160.93 L371.3 160.94 L372 160.94 L372.7 160.93 L373.4 160.92 L374.1 160.91 L374.8 160.9 L375.5 160.88 L376.2 160.87 L376.9 160.86 L377.6 160.84 L378.3 160.83 L379 160.83 L379.7 160.82 L380.4 160.82 L381.1 160.82 L381.8 160.83 L382.5 160.84 L383.2 160.85 L383.9 160.87 L384.6 160.89 L385.3 160.92 L386 160.95 L386.7 160.99 L387.4 161.02 L388.1 161.07 L388.8 161.11 L389.5 161.16 L390.2 161.2 L390.9 161.25 L391.6 161.3 L392.3 161.35 L393 161.4 L393.7 161.44 L394.4 161.48 L395.1 161.51 L395.8 161.53 L396.5 161.54 L397.2 161.54 L397.9 161.53 L398.6 161.5 L399.3 161.45 L400 161.38 L400.7 161.29 L401.4 161.18 L402.1 161.04 L402.8 160.88 L403.5 160.69 L404.2 160.48 L404.9 160.24 L405.6 159.98 L406.3 159.69 L407 159.39 L407.7 159.07 L408.4 158.74 L409.1 158.41 L409.8 158.07 L410.5 157.73 L411.2 157.4 L411.9 157.09 L412.6 156.8 L413.3 156.53 L414 156.28 L414.7 156.07 L415.4 155.9 L416.1 155.75 L416.8 155.64 L417.5 155.56 L418.2 155.51 L418.9 155.48 L419.6 155.48 L420.3 155.48 L421 155.5 L421.7 155.52 L422.4 155.54 L423.1 155.56 L423.8 155.58 L424.5 155.61 L425.2 155.64 L425.9 155.69 L426.6 155.76 L427.3 155.87 L428 156.01 L428.7 156.21 L429.4 156.46 L430.1 156.76 L430.8 157.13 L431.5 157.55 L432.2 158.02 L432.9 158.54 L433.6 159.08 L434.3 159.64 L435 160.21 L435.7 160.77 L436.4 161.31 L437.1 161.82 L437.8 162.29 L438.5 162.72 L439.2 163.1 L439.9 163.44 L440.6 163.72 L441.3 163.95 L442 164.14 L442.7 164.3 L443.4 164.43 L444.1 164.53 L444.8 164.61 L445.5 164.67 L446.2 164.72 L446.9 164.76 L447.6 164.79 L448.3 164.81 L449 164.83 L449.7 164.85 L450.4 164.86 L451.1 164.87 L451.8 164.88 L452.5 164.89 L453.2 164.9 L453.9 164.91 L454.6 164.92 L455.3 164.93 L456 164.94 L456.7 164.95 L457.4 164.96 L458.1 164.97 L458.8 164.97 L459.5 164.98 L460.2 164.99 L460.9 165 L461.6 165.01 L462.3 165.02 L463 165.02 L463.7 165.03 L464.4 165.04 L465.1 165.05 L465.8 165.06 L466.5 165.07 L467.2 165.07 L467.9 165.08 L468.6 165.09 L469.3 165.1 L470 165.11 L470.7 165.12 L471.4 165.12 L472.1 165.13 L472.8 165.14 L473.5 165.15 L474.2 165.16 L474.9 165.17 L475.6 165.17 L476.3 165.18 L477 165.19 L477.7 165.2 L478.4 165.21 L479.1 165.22 L479.8 165.22 L480.5 165.23 L481.2 165.24 L481.9 165.25 L482.6 165.26 L483.3 165.26 L484 165.27" fill="none" stroke="#1e8a88" stroke-width="1.5" stroke-linejoin="round"/>
<path d="M276.1 247.02 L276.8 247.04 L277.5 247.06 L278.2 247.09 L278.9 247.11 L279.6 247.13 L280.3 247.15 L281 247.17 L281.7 247.2 L282.4 247.22 L283.1 247.24 L283.8 247.26 L284.5 247.28 L285.2 247.3 L285.9 247.32 L286.6 247.34 L287.3 247.36 L288 247.38 L288.7 247.4 L289.4 247.42 L290.1 247.44 L290.8 247.46 L291.5 247.48 L292.2 247.49 L292.9 247.51 L293.6 247.53 L294.3 247.54 L295 247.56 L295.7 247.57 L296.4 247.59 L297.1 247.6 L297.8 247.62 L298.5 247.63 L299.2 247.64 L299.9 247.65 L300.6 247.66 L301.3 247.67 L302 247.68 L302.7 247.69 L303.4 247.7 L304.1 247.7 L304.8 247.71 L305.5 247.71 L306.2 247.71 L306.9 247.71 L307.6 247.71 L308.3 247.71 L309 247.7 L309.7 247.7 L310.4 247.69 L311.1 247.67 L311.8 247.66 L312.5 247.63 L313.2 247.61 L313.9 247.57 L314.6 247.53 L315.3 247.48 L316 247.42 L316.7 247.34 L317.4 247.25 L318.1 247.13 L318.8 246.99 L319.5 246.82 L320.2 246.62 L320.9 246.37 L321.6 246.08 L322.3 245.72 L323 245.31 L323.7 244.81 L324.4 244.24 L325.1 243.57 L325.8 242.8 L326.5 241.91 L327.2 240.92 L327.9 239.8 L328.6 238.55 L329.3 237.18 L330 235.69 L330.7 234.08 L331.4 232.36 L332.1 230.55 L332.8 228.67 L333.5 226.74 L334.2 224.78 L334.9 222.83 L335.6 220.93 L336.3 219.12 L337 217.45 L337.7 215.96 L338.4 214.7 L339.1 213.73 L339.8 213.07 L340.5 212.76 L341.2 212.78 L341.9 212.99 L342.6 213.37 L343.3 213.9 L344 214.58 L344.7 215.39 L345.4 216.33 L346.1 217.38 L346.8 218.52 L347.5 219.73 L348.2 221.01 L348.9 222.33 L349.6 223.68 L350.3 225.05 L351 226.43 L351.7 227.8 L352.4 229.16 L353.1 230.49 L353.8 231.8 L354.5 233.07 L355.2 234.29 L355.9 235.47 L356.6 236.6 L357.3 237.67 L358 238.69 L358.7 239.65 L359.4 240.55 L360.1 241.39 L360.8 242.17 L361.5 242.9 L362.2 243.57 L362.9 244.19 L363.6 244.76 L364.3 245.28 L365 245.76 L365.7 246.19 L366.4 246.59 L367.1 246.94 L367.8 247.26 L368.5 247.56 L369.2 247.82 L369.9 248.06 L370.6 248.27 L371.3 248.47 L372 248.64 L372.7 248.8 L373.4 248.94 L374.1 249.07 L374.8 249.19 L375.5 249.3 L376.2 249.4 L376.9 249.49 L377.6 249.58 L378.3 249.66 L379 249.73 L379.7 249.8 L380.4 249.87 L381.1 249.93 L381.8 249.99 L382.5 250.04 L383.2 250.1 L383.9 250.15 L384.6 250.2 L385.3 250.25 L386 250.29 L386.7 250.34 L387.4 250.38 L388.1 250.42 L388.8 250.47 L389.5 250.51 L390.2 250.55 L390.9 250.59 L391.6 250.62 L392.3 250.66 L393 250.7 L393.7 250.73 L394.4 250.77 L395.1 250.81 L395.8 250.84 L396.5 250.87 L397.2 250.91 L397.9 250.94 L398.6 250.97 L399.3 251.01 L400 251.04 L400.7 251.07 L401.4 251.1 L402.1 251.13 L402.8 251.16 L403.5 251.19 L404.2 251.22 L404.9 251.25 L405.6 251.28 L406.3 251.31 L407 251.34 L407.7 251.37 L408.4 251.39 L409.1 251.42 L409.8 251.45 L410.5 251.48 L411.2 251.5 L411.9 251.53 L412.6 251.56 L413.3 251.59 L414 251.61 L414.7 251.64 L415.4 251.66 L416.1 251.69 L416.8 251.72 L417.5 251.74 L418.2 251.77 L418.9 251.79 L419.6 251.82 L420.3 251.84 L421 251.87 L421.7 251.89 L422.4 251.92 L423.1 251.94 L423.8 251.97 L424.5 251.99 L425.2 252.02 L425.9 252.04 L426.6 252.07 L427.3 252.09 L428 252.11 L428.7 252.14 L429.4 252.16 L430.1 252.19 L430.8 252.21 L431.5 252.23 L432.2 252.26 L432.9 252.28 L433.6 252.3 L434.3 252.33 L435 252.35 L435.7 252.37 L436.4 252.4 L436.4 252.6 L276.1 247.22 Z" fill="#fde4b2"/>
<path d="M276.1 247.02 L276.8 247.04 L277.5 247.06 L278.2 247.09 L278.9 247.11 L279.6 247.13 L280.3 247.15 L281 247.17 L281.7 247.2 L282.4 247.22 L283.1 247.24 L283.8 247.26 L284.5 247.28 L285.2 247.3 L285.9 247.32 L286.6 247.34 L287.3 247.36 L288 247.38 L288.7 247.4 L289.4 247.42 L290.1 247.44 L290.8 247.46 L291.5 247.48 L292.2 247.49 L292.9 247.51 L293.6 247.53 L294.3 247.54 L295 247.56 L295.7 247.57 L296.4 247.59 L297.1 247.6 L297.8 247.62 L298.5 247.63 L299.2 247.64 L299.9 247.65 L300.6 247.66 L301.3 247.67 L302 247.68 L302.7 247.69 L303.4 247.7 L304.1 247.7 L304.8 247.71 L305.5 247.71 L306.2 247.71 L306.9 247.71 L307.6 247.71 L308.3 247.71 L309 247.7 L309.7 247.7 L310.4 247.69 L311.1 247.67 L311.8 247.66 L312.5 247.63 L313.2 247.61 L313.9 247.57 L314.6 247.53 L315.3 247.48 L316 247.42 L316.7 247.34 L317.4 247.25 L318.1 247.13 L318.8 246.99 L319.5 246.82 L320.2 246.62 L320.9 246.37 L321.6 246.08 L322.3 245.72 L323 245.31 L323.7 244.81 L324.4 244.24 L325.1 243.57 L325.8 242.8 L326.5 241.91 L327.2 240.92 L327.9 239.8 L328.6 238.55 L329.3 237.18 L330 235.69 L330.7 234.08 L331.4 232.36 L332.1 230.55 L332.8 228.67 L333.5 226.74 L334.2 224.78 L334.9 222.83 L335.6 220.93 L336.3 219.12 L337 217.45 L337.7 215.96 L338.4 214.7 L339.1 213.73 L339.8 213.07 L340.5 212.76 L341.2 212.78 L341.9 212.99 L342.6 213.37 L343.3 213.9 L344 214.58 L344.7 215.39 L345.4 216.33 L346.1 217.38 L346.8 218.52 L347.5 219.73 L348.2 221.01 L348.9 222.33 L349.6 223.68 L350.3 225.05 L351 226.43 L351.7 227.8 L352.4 229.16 L353.1 230.49 L353.8 231.8 L354.5 233.07 L355.2 234.29 L355.9 235.47 L356.6 236.6 L357.3 237.67 L358 238.69 L358.7 239.65 L359.4 240.55 L360.1 241.39 L360.8 242.17 L361.5 242.9 L362.2 243.57 L362.9 244.19 L363.6 244.76 L364.3 245.28 L365 245.76 L365.7 246.19 L366.4 246.59 L367.1 246.94 L367.8 247.26 L368.5 247.56 L369.2 247.82 L369.9 248.06 L370.6 248.27 L371.3 248.47 L372 248.64 L372.7 248.8 L373.4 248.94 L374.1 249.07 L374.8 249.19 L375.5 249.3 L376.2 249.4 L376.9 249.49 L377.6 249.58 L378.3 249.66 L379 249.73 L379.7 249.8 L380.4 249.87 L381.1 249.93 L381.8 249.99 L382.5 250.04 L383.2 250.1 L383.9 250.15 L384.6 250.2 L385.3 250.25 L386 250.29 L386.7 250.34 L387.4 250.38 L388.1 250.42 L388.8 250.47 L389.5 250.51 L390.2 250.55 L390.9 250.59 L391.6 250.62 L392.3 250.66 L393 250.7 L393.7 250.73 L394.4 250.77 L395.1 250.81 L395.8 250.84 L396.5 250.87 L397.2 250.91 L397.9 250.94 L398.6 250.97 L399.3 251.01 L400 251.04 L400.7 251.07 L401.4 251.1 L402.1 251.13 L402.8 251.16 L403.5 251.19 L404.2 251.22 L404.9 251.25 L405.6 251.28 L406.3 251.31 L407 251.34 L407.7 251.37 L408.4 251.39 L409.1 251.42 L409.8 251.45 L410.5 251.48 L411.2 251.5 L411.9 251.53 L412.6 251.56 L413.3 251.59 L414 251.61 L414.7 251.64 L415.4 251.66 L416.1 251.69 L416.8 251.72 L417.5 251.74 L418.2 251.77 L418.9 251.79 L419.6 251.82 L420.3 251.84 L421 251.87 L421.7 251.89 L422.4 251.92 L423.1 251.94 L423.8 251.97 L424.5 251.99 L425.2 252.02 L425.9 252.04 L426.6 252.07 L427.3 252.09 L428 252.11 L428.7 252.14 L429.4 252.16 L430.1 252.19 L430.8 252.21 L431.5 252.23 L432.2 252.26 L432.9 252.28 L433.6 252.3 L434.3 252.33 L435 252.35 L435.7 252.37 L436.4 252.4" fill="none" stroke="#f5b400" stroke-width="1.3"/>
<path d="M295 247.74 L295.7 247.73 L296.4 247.72 L297.1 247.7 L297.8 247.67 L298.5 247.64 L299.2 247.6 L299.9 247.56 L300.6 247.52 L301.3 247.46 L302 247.41 L302.7 247.35 L303.4 247.28 L304.1 247.22 L304.8 247.15 L305.5 247.09 L306.2 247.02 L306.9 246.96 L307.6 246.89 L308.3 246.84 L309 246.79 L309.7 246.75 L310.4 246.71 L311.1 246.69 L311.8 246.67 L312.5 246.67 L313.2 246.67 L313.9 246.69 L314.6 246.73 L315.3 246.77 L316 246.82 L316.7 246.89 L317.4 246.97 L318.1 247.05 L318.8 247.15 L319.5 247.25 L320.2 247.36 L320.9 247.48 L321.6 247.59 L322.3 247.71 L323 247.83 L323.7 247.96 L324.4 248.08 L325.1 248.2 L325.8 248.31 L326.5 248.42 L327.2 248.53 L327.9 248.63 L328.6 248.73 L329.3 248.82 L330 248.91 L330.7 248.99 L331.4 249.07 L332.1 249.14 L332.8 249.2 L332.8 249.43 L295 247.96 Z" fill="#d98c6a"/>
<path d="M295 247.74 L295.7 247.73 L296.4 247.72 L297.1 247.7 L297.8 247.67 L298.5 247.64 L299.2 247.6 L299.9 247.56 L300.6 247.52 L301.3 247.46 L302 247.41 L302.7 247.35 L303.4 247.28 L304.1 247.22 L304.8 247.15 L305.5 247.09 L306.2 247.02 L306.9 246.96 L307.6 246.89 L308.3 246.84 L309 246.79 L309.7 246.75 L310.4 246.71 L311.1 246.69 L311.8 246.67 L312.5 246.67 L313.2 246.67 L313.9 246.69 L314.6 246.73 L315.3 246.77 L316 246.82 L316.7 246.89 L317.4 246.97 L318.1 247.05 L318.8 247.15 L319.5 247.25 L320.2 247.36 L320.9 247.48 L321.6 247.59 L322.3 247.71 L323 247.83 L323.7 247.96 L324.4 248.08 L325.1 248.2 L325.8 248.31 L326.5 248.42 L327.2 248.53 L327.9 248.63 L328.6 248.73 L329.3 248.82 L330 248.91 L330.7 248.99 L331.4 249.07 L332.1 249.14 L332.8 249.2 L332.8 249.43 L295 247.96 Z" fill="url(#dots)"/>
<path d="M310.4 248.32 L311.1 248.3 L311.8 248.27 L312.5 248.23 L313.2 248.18 L313.9 248.11 L314.6 248.04 L315.3 247.95 L316 247.85 L316.7 247.74 L317.4 247.61 L318.1 247.46 L318.8 247.3 L319.5 247.13 L320.2 246.94 L320.9 246.74 L321.6 246.53 L322.3 246.31 L323 246.08 L323.7 245.85 L324.4 245.62 L325.1 245.39 L325.8 245.16 L326.5 244.95 L327.2 244.74 L327.9 244.55 L328.6 244.39 L329.3 244.24 L330 244.12 L330.7 244.02 L331.4 243.96 L332.1 243.93 L332.8 243.93 L333.5 243.97 L334.2 244.03 L334.9 244.13 L335.6 244.26 L336.3 244.42 L337 244.61 L337.7 244.82 L338.4 245.05 L339.1 245.3 L339.8 245.57 L340.5 245.84 L341.2 246.13 L341.9 246.41 L342.6 246.7 L343.3 246.98 L344 247.26 L344.7 247.53 L345.4 247.79 L346.1 248.04 L346.8 248.28 L347.5 248.5 L348.2 248.71 L348.9 248.9 L349.6 249.08 L350.3 249.24 L351 249.38 L351.7 249.51 L352.4 249.63 L353.1 249.74 L353.8 249.83 L354.5 249.91 L355.2 249.99 L355.9 250.05 L355.9 250.27 L310.4 248.56 Z" fill="#7a8ca4"/>
<path d="M334.9 249.25 L335.6 249.2 L336.3 249.13 L337 249.04 L337.7 248.93 L338.4 248.81 L339.1 248.68 L339.8 248.54 L340.5 248.4 L341.2 248.26 L341.9 248.13 L342.6 248.03 L343.3 247.95 L344 247.91 L344.7 247.9 L345.4 247.93 L346.1 248 L346.8 248.1 L347.5 248.24 L348.2 248.4 L348.9 248.58 L349.6 248.77 L350.3 248.97 L351 249.16 L351.7 249.33 L352.4 249.5 L353.1 249.65 L353.8 249.78 L354.5 249.9 L355.2 250 L355.2 250.25 L334.9 249.51 Z" fill="#e8504e"/>
<path d="M357.3 250.1 L358 250.1 L358.7 250.09 L359.4 250.09 L360.1 250.08 L360.8 250.08 L361.5 250.07 L362.2 250.05 L362.9 250.04 L363.6 250.03 L364.3 250.01 L365 249.99 L365.7 249.97 L366.4 249.95 L367.1 249.93 L367.8 249.91 L368.5 249.89 L369.2 249.86 L369.9 249.84 L370.6 249.81 L371.3 249.79 L372 249.76 L372.7 249.74 L373.4 249.71 L374.1 249.69 L374.8 249.67 L375.5 249.65 L376.2 249.63 L376.9 249.61 L377.6 249.59 L378.3 249.58 L379 249.57 L379.7 249.56 L380.4 249.56 L381.1 249.56 L381.8 249.56 L382.5 249.56 L383.2 249.57 L383.9 249.58 L384.6 249.6 L385.3 249.62 L386 249.64 L386.7 249.67 L387.4 249.7 L388.1 249.74 L388.8 249.78 L389.5 249.82 L390.2 249.86 L390.9 249.91 L391.6 249.96 L392.3 250.01 L393 250.07 L393.7 250.13 L394.4 250.19 L395.1 250.25 L395.8 250.31 L396.5 250.37 L397.2 250.44 L397.9 250.5 L398.6 250.57 L399.3 250.63 L400 250.7 L400.7 250.76 L401.4 250.83 L402.1 250.89 L402.8 250.96 L403.5 251.02 L404.2 251.08 L404.9 251.14 L405.6 251.2 L406.3 251.25 L407 251.31 L407.7 251.36 L408.4 251.42 L409.1 251.47 L409.8 251.52 L410.5 251.56 L411.2 251.61 L411.9 251.65 L412.6 251.69 L412.6 251.91 L357.3 250.31 Z" fill="#96d8b6"/>
<path d="M393.7 251.12 L394.4 251.09 L395.1 251.04 L395.8 250.98 L396.5 250.9 L397.2 250.81 L397.9 250.71 L398.6 250.58 L399.3 250.44 L400 250.27 L400.7 250.08 L401.4 249.87 L402.1 249.64 L402.8 249.38 L403.5 249.1 L404.2 248.8 L404.9 248.49 L405.6 248.16 L406.3 247.82 L407 247.46 L407.7 247.11 L408.4 246.76 L409.1 246.41 L409.8 246.08 L410.5 245.76 L411.2 245.47 L411.9 245.21 L412.6 244.99 L413.3 244.8 L414 244.65 L414.7 244.56 L415.4 244.51 L416.1 244.51 L416.8 244.56 L417.5 244.67 L418.2 244.82 L418.9 245.01 L419.6 245.25 L420.3 245.53 L421 245.84 L421.7 246.18 L422.4 246.54 L423.1 246.92 L423.8 247.31 L424.5 247.7 L425.2 248.1 L425.9 248.49 L426.6 248.87 L427.3 249.23 L428 249.58 L428.7 249.92 L429.4 250.23 L430.1 250.52 L430.8 250.79 L431.5 251.03 L432.2 251.25 L432.9 251.46 L433.6 251.64 L434.3 251.8 L435 251.94 L435.7 252.06 L436.4 252.17 L437.1 252.27 L437.8 252.36 L438.5 252.43 L438.5 252.66 L393.7 251.36 Z" fill="url(#gRu4)"/>
<path d="M421.7 251.94 L422.4 251.87 L423.1 251.79 L423.8 251.68 L424.5 251.54 L425.2 251.38 L425.9 251.2 L426.6 250.99 L427.3 250.77 L428 250.53 L428.7 250.3 L429.4 250.08 L430.1 249.88 L430.8 249.71 L431.5 249.59 L432.2 249.51 L432.9 249.5 L433.6 249.54 L434.3 249.64 L435 249.79 L435.7 249.98 L436.4 250.22 L437.1 250.47 L437.8 250.74 L438.5 251.02 L439.2 251.29 L439.9 251.54 L440.6 251.76 L441.3 251.95 L442 252.12 L442.7 252.26 L443.4 252.38 L444.1 252.47 L444.1 252.73 L421.7 252.17 Z" fill="#e8504e"/>
<path d="M274 247.14 L274.7 247.17 L275.4 247.19 L276.1 247.22 L276.8 247.25 L277.5 247.28 L278.2 247.3 L278.9 247.33 L279.6 247.36 L280.3 247.38 L281 247.41 L281.7 247.44 L282.4 247.47 L283.1 247.49 L283.8 247.52 L284.5 247.55 L285.2 247.58 L285.9 247.6 L286.6 247.63 L287.3 247.66 L288 247.68 L288.7 247.71 L289.4 247.74 L290.1 247.77 L290.8 247.79 L291.5 247.82 L292.2 247.85 L292.9 247.88 L293.6 247.9 L294.3 247.93 L295 247.96 L295.7 247.98 L296.4 248.01 L297.1 248.04 L297.8 248.07 L298.5 248.09 L299.2 248.12 L299.9 248.15 L300.6 248.18 L301.3 248.2 L302 248.23 L302.7 248.26 L303.4 248.28 L304.1 248.31 L304.8 248.34 L305.5 248.37 L306.2 248.39 L306.9 248.42 L307.6 248.45 L308.3 248.48 L309 248.5 L309.7 248.53 L310.4 248.56 L311.1 248.58 L311.8 248.61 L312.5 248.64 L313.2 248.67 L313.9 248.69 L314.6 248.72 L315.3 248.75 L316 248.78 L316.7 248.8 L317.4 248.83 L318.1 248.86 L318.8 248.88 L319.5 248.91 L320.2 248.94 L320.9 248.97 L321.6 248.99 L322.3 249.02 L323 249.05 L323.7 249.08 L324.4 249.1 L325.1 249.13 L325.8 249.16 L326.5 249.18 L327.2 249.21 L327.9 249.24 L328.6 249.27 L329.3 249.29 L330 249.32 L330.7 249.35 L331.4 249.38 L332.1 249.4 L332.8 249.43 L333.5 249.46 L334.2 249.48 L334.9 249.51 L335.6 249.54 L336.3 249.57 L337 249.59 L337.7 249.62 L338.4 249.65 L339.1 249.68 L339.8 249.7 L340.5 249.73 L341.2 249.76 L341.9 249.78 L342.6 249.81 L343.3 249.84 L344 249.87 L344.7 249.89 L345.4 249.92 L346.1 249.95 L346.8 249.98 L347.5 250 L348.2 250.03 L348.9 250.06 L349.6 250.08 L350.3 250.11 L351 250.13 L351.7 250.15 L352.4 250.17 L353.1 250.19 L353.8 250.21 L354.5 250.23 L355.2 250.25 L355.9 250.27 L356.6 250.29 L357.3 250.31 L358 250.33 L358.7 250.35 L359.4 250.37 L360.1 250.39 L360.8 250.41 L361.5 250.43 L362.2 250.45 L362.9 250.47 L363.6 250.49 L364.3 250.51 L365 250.53 L365.7 250.55 L366.4 250.57 L367.1 250.59 L367.8 250.61 L368.5 250.63 L369.2 250.65 L369.9 250.67 L370.6 250.7 L371.3 250.72 L372 250.74 L372.7 250.76 L373.4 250.78 L374.1 250.8 L374.8 250.82 L375.5 250.84 L376.2 250.86 L376.9 250.88 L377.6 250.9 L378.3 250.92 L379 250.94 L379.7 250.96 L380.4 250.98 L381.1 251 L381.8 251.02 L382.5 251.04 L383.2 251.06 L383.9 251.08 L384.6 251.1 L385.3 251.12 L386 251.14 L386.7 251.16 L387.4 251.18 L388.1 251.2 L388.8 251.22 L389.5 251.24 L390.2 251.26 L390.9 251.28 L391.6 251.3 L392.3 251.32 L393 251.34 L393.7 251.36 L394.4 251.38 L395.1 251.4 L395.8 251.42 L396.5 251.44 L397.2 251.46 L397.9 251.48 L398.6 251.5 L399.3 251.52 L400 251.54 L400.7 251.56 L401.4 251.58 L402.1 251.61 L402.8 251.63 L403.5 251.65 L404.2 251.67 L404.9 251.69 L405.6 251.71 L406.3 251.73 L407 251.75 L407.7 251.77 L408.4 251.79 L409.1 251.81 L409.8 251.83 L410.5 251.85 L411.2 251.87 L411.9 251.89 L412.6 251.91 L413.3 251.93 L414 251.95 L414.7 251.97 L415.4 251.99 L416.1 252.01 L416.8 252.03 L417.5 252.05 L418.2 252.07 L418.9 252.09 L419.6 252.11 L420.3 252.13 L421 252.15 L421.7 252.17 L422.4 252.19 L423.1 252.21 L423.8 252.23 L424.5 252.25 L425.2 252.27 L425.9 252.29 L426.6 252.31 L427.3 252.33 L428 252.35 L428.7 252.37 L429.4 252.39 L430.1 252.41 L430.8 252.43 L431.5 252.45 L432.2 252.47 L432.9 252.49 L433.6 252.52 L434.3 252.54 L435 252.56 L435.7 252.58 L436.4 252.6 L437.1 252.62 L437.8 252.64 L438.5 252.66 L439.2 252.68 L439.9 252.7 L440.6 252.7 L441.3 252.71 L442 252.71 L442.7 252.72 L443.4 252.72 L444.1 252.73 L444.8 252.73 L445.5 252.74 L446.2 252.74 L446.9 252.75 L447.6 252.75 L448.3 252.76 L449 252.76 L449.7 252.77 L450.4 252.77 L451.1 252.78 L451.8 252.78 L452.5 252.79 L453.2 252.79 L453.9 252.79 L454.6 252.8 L455.3 252.8 L456 252.81 L456.7 252.81 L457.4 252.82 L458.1 252.82 L458.8 252.83 L459.5 252.83 L460.2 252.84 L460.9 252.84 L461.6 252.85 L462.3 252.85 L463 252.86 L463.7 252.86 L464.4 252.87 L465.1 252.87 L465.8 252.88 L466.5 252.88 L467.2 252.89 L467.9 252.89 L468.6 252.89 L469.3 252.9 L470 252.9 L470.7 252.91 L471.4 252.91 L472.1 252.92 L472.8 252.92 L473.5 252.93 L474.2 252.93 L474.9 252.94 L475.6 252.94 L476.3 252.95 L477 252.95 L477.7 252.96 L478.4 252.96 L479.1 252.97 L479.8 252.97 L480.5 252.98 L481.2 252.98 L481.9 252.99 L482.6 252.99 L483.3 253 L484 253" fill="none" stroke="#2a8f8a" stroke-width="1.1"/>
<path d="M274 247.14 L274.7 247.17 L275.4 247.19 L276.1 247.22 L276.8 247.25 L277.5 247.28 L278.2 247.3 L278.9 247.33 L279.6 247.36 L280.3 247.38 L281 247.41 L281.7 247.44 L282.4 247.47 L283.1 247.49 L283.8 247.52 L284.5 247.55 L285.2 247.58 L285.9 247.6 L286.6 247.63 L287.3 247.66 L288 247.68 L288.7 247.71 L289.4 247.74 L290.1 247.77 L290.8 247.79 L291.5 247.82 L292.2 247.85 L292.9 247.88 L293.6 247.9 L294.3 247.93 L295 247.96 L295.7 247.98 L296.4 248.01 L297.1 248.04 L297.8 248.07 L298.5 248.09 L299.2 248.12 L299.9 248.15 L300.6 248.18 L301.3 248.2 L302 248.23 L302.7 248.26 L303.4 248.28 L304.1 248.31 L304.8 248.34 L305.5 248.37 L306.2 248.39 L306.9 248.42 L307.6 248.45 L308.3 248.48 L309 248.5 L309.7 248.53 L310.4 248.56 L311.1 248.58 L311.8 248.61 L312.5 248.64 L313.2 248.67 L313.9 248.69 L314.6 248.72 L315.3 248.75 L316 248.78 L316.7 248.8 L317.4 248.83 L318.1 248.86 L318.8 248.88 L319.5 248.91 L320.2 248.94 L320.9 248.97 L321.6 248.99 L322.3 249.02 L323 249.05 L323.7 249.08 L324.4 249.1 L325.1 249.13 L325.8 249.16 L326.5 249.18 L327.2 249.21 L327.9 249.24 L328.6 249.27 L329.3 249.29 L330 249.32 L330.7 249.35 L331.4 249.38 L332.1 249.4 L332.8 249.43 L333.5 249.46 L334.2 249.48 L334.9 249.51 L335.6 249.54 L336.3 249.57 L337 249.59 L337.7 249.62 L338.4 249.65 L339.1 249.68 L339.8 249.7 L340.5 249.73 L341.2 249.76 L341.9 249.78 L342.6 249.81 L343.3 249.84 L344 249.87 L344.7 249.89 L345.4 249.92 L346.1 249.95 L346.8 249.98 L347.5 250 L348.2 250.03 L348.9 250.06 L349.6 250.08 L350.3 250.11 L351 250.13 L351.7 250.15 L352.4 250.17 L353.1 250.19 L353.8 250.21 L354.5 250.23 L355.2 250.25 L355.9 250.27 L356.6 250.29 L357.3 250.31 L358 250.33 L358.7 250.35 L359.4 250.37 L360.1 250.39 L360.8 250.41 L361.5 250.43 L362.2 250.45 L362.9 250.47 L363.6 250.49 L364.3 250.51 L365 250.53 L365.7 250.55 L366.4 250.57 L367.1 250.59 L367.8 250.61 L368.5 250.63 L369.2 250.65 L369.9 250.67 L370.6 250.7 L371.3 250.72 L372 250.74 L372.7 250.76 L373.4 250.78 L374.1 250.8 L374.8 250.82 L375.5 250.84 L376.2 250.86 L376.9 250.88 L377.6 250.9 L378.3 250.92 L379 250.94 L379.7 250.96 L380.4 250.98 L381.1 251 L381.8 251.02 L382.5 251.04 L383.2 251.06 L383.9 251.08 L384.6 251.1 L385.3 251.12 L386 251.14 L386.7 251.16 L387.4 251.18 L388.1 251.2 L388.8 251.22 L389.5 251.24 L390.2 251.26 L390.9 251.28 L391.6 251.3 L392.3 251.32 L393 251.34 L393.7 251.36 L394.4 251.38 L395.1 251.4 L395.8 251.42 L396.5 251.44 L397.2 251.46 L397.9 251.48 L398.6 251.5 L399.3 251.52 L400 251.54 L400.7 251.56 L401.4 251.58 L402.1 251.61 L402.8 251.63 L403.5 251.65 L404.2 251.67 L404.9 251.69 L405.6 251.71 L406.3 251.73 L407 251.75 L407.7 251.77 L408.4 251.79 L409.1 251.81 L409.8 251.83 L410.5 251.85 L411.2 251.87 L411.9 251.89 L412.6 251.91 L413.3 251.93 L414 251.95 L414.7 251.97 L415.4 251.99 L416.1 252.01 L416.8 252.03 L417.5 252.05 L418.2 252.07 L418.9 252.09 L419.6 252.11 L420.3 252.13 L421 252.15 L421.7 252.17 L422.4 252.19 L423.1 252.21 L423.8 252.23 L424.5 252.25 L425.2 252.27 L425.9 252.29 L426.6 252.31 L427.3 252.33 L428 252.35 L428.7 252.37 L429.4 252.39 L430.1 252.41 L430.8 252.43 L431.5 252.45 L432.2 252.47 L432.9 252.49 L433.6 252.52 L434.3 252.54 L435 252.56 L435.7 252.58 L436.4 252.6 L437.1 252.62 L437.8 252.64 L438.5 252.66 L439.2 252.68 L439.9 252.7 L440.6 252.7 L441.3 252.71 L442 252.71 L442.7 252.72 L443.4 252.72 L444.1 252.73 L444.8 252.73 L445.5 252.74 L446.2 252.74 L446.9 252.75 L447.6 252.75 L448.3 252.76 L449 252.76 L449.7 252.77 L450.4 252.77 L451.1 252.78 L451.8 252.78 L452.5 252.79 L453.2 252.79 L453.9 252.79 L454.6 252.8 L455.3 252.8 L456 252.81 L456.7 252.81 L457.4 252.82 L458.1 252.82 L458.8 252.83 L459.5 252.83 L460.2 252.84 L460.9 252.84 L461.6 252.85 L462.3 252.85 L463 252.86 L463.7 252.86 L464.4 252.87 L465.1 252.87 L465.8 252.88 L466.5 252.88 L467.2 252.89 L467.9 252.89 L468.6 252.89 L469.3 252.9 L470 252.9 L470.7 252.91 L471.4 252.91 L472.1 252.92 L472.8 252.92 L473.5 252.93 L474.2 252.93 L474.9 252.94 L475.6 252.94 L476.3 252.95 L477 252.95 L477.7 252.96 L478.4 252.96 L479.1 252.97 L479.8 252.97 L480.5 252.98 L481.2 252.98 L481.9 252.99 L482.6 252.99 L483.3 253 L484 253" fill="none" stroke="#e86a3a" stroke-width="1.1" stroke-dasharray="2.5 3"/>
<path d="M274 244.97 L274.7 245.71 L275.4 245.73 L276.1 246.03 L276.8 244.92 L277.5 245.01 L278.2 244.89 L278.9 245.03 L279.6 245.91 L280.3 244.9 L281 245.59 L281.7 245.06 L282.4 245.21 L283.1 245.45 L283.8 246.14 L284.5 245.75 L285.2 244.74 L285.9 245.18 L286.6 244.96 L287.3 246.18 L288 246.06 L288.7 246.04 L289.4 246.05 L290.1 245.88 L290.8 246.2 L291.5 245.89 L292.2 244.94 L292.9 245.89 L293.6 245.22 L294.3 245.61 L295 245.21 L295.7 244.9 L296.4 244.7 L297.1 244.71 L297.8 244.4 L298.5 243.95 L299.2 245.01 L299.9 244.84 L300.6 245.01 L301.3 244.35 L302 243.95 L302.7 244.11 L303.4 242.88 L304.1 243.61 L304.8 243.02 L305.5 242.37 L306.2 242.21 L306.9 242.55 L307.6 241.88 L308.3 242.02 L309 242.06 L309.7 241.49 L310.4 240.83 L311.1 241.24 L311.8 240.59 L312.5 240.39 L313.2 240.11 L313.9 240.19 L314.6 239.48 L315.3 240.24 L316 240.53 L316.7 239.34 L317.4 239.64 L318.1 239.74 L318.8 237.93 L319.5 237.77 L320.2 238.54 L320.9 238.19 L321.6 237.4 L322.3 236.08 L323 235.94 L323.7 236.07 L324.4 235.38 L325.1 234.43 L325.8 232.51 L326.5 232.62 L327.2 230.7 L327.9 230.08 L328.6 227.78 L329.3 227.78 L330 225.64 L330.7 224.24 L331.4 221.67 L332.1 220.6 L332.8 218.73 L333.5 216.91 L334.2 214.67 L334.9 213.47 L335.6 211.06 L336.3 209.32 L337 207.59 L337.7 207.14 L338.4 205.08 L339.1 204.47 L339.8 203.72 L340.5 204.57 L341.2 204.63 L341.9 205.01 L342.6 204.75 L343.3 206.2 L344 206.97 L344.7 207.65 L345.4 208.75 L346.1 211.82 L346.8 211.82 L347.5 213.71 L348.2 215.3 L348.9 217.56 L349.6 218.39 L350.3 220.79 L351 222.32 L351.7 224.79 L352.4 225.01 L353.1 227.15 L353.8 228.94 L354.5 231.19 L355.2 231.8 L355.9 233.03 L356.6 234.59 L357.3 235.1 L358 235.73 L358.7 237.53 L359.4 239.15 L360.1 239.72 L360.8 239.69 L361.5 241.14 L362.2 242.09 L362.9 241.69 L363.6 242.8 L364.3 242.91 L365 243.17 L365.7 243.64 L366.4 243.86 L367.1 244.43 L367.8 244.19 L368.5 245.05 L369.2 244.75 L369.9 246.08 L370.6 245.99 L371.3 245.13 L372 246.57 L372.7 245.69 L373.4 246.29 L374.1 246.5 L374.8 246.2 L375.5 246.19 L376.2 246.5 L376.9 246.05 L377.6 247.34 L378.3 246.11 L379 247.36 L379.7 246.37 L380.4 246.56 L381.1 246.74 L381.8 246.18 L382.5 246.38 L383.2 246.82 L383.9 247 L384.6 247.78 L385.3 248.02 L386 246.45 L386.7 247.34 L387.4 246.7 L388.1 247.89 L388.8 247.12 L389.5 248.14 L390.2 247.6 L390.9 246.93 L391.6 246.77 L392.3 247.22 L393 248.31 L393.7 247.11 L394.4 247.69 L395.1 247.52 L395.8 247.47 L396.5 248.23 L397.2 247.19 L397.9 248 L398.6 247.85 L399.3 248.22 L400 247.4 L400.7 247.95 L401.4 246.98 L402.1 247.02 L402.8 246.9 L403.5 247.05 L404.2 246.9 L404.9 245.3 L405.6 245.06 L406.3 245.43 L407 245.6 L407.7 244.81 L408.4 244.1 L409.1 244.92 L409.8 243.5 L410.5 242.86 L411.2 242.54 L411.9 242.27 L412.6 243.26 L413.3 242.04 L414 242.96 L414.7 243.14 L415.4 243.33 L416.1 243.03 L416.8 242.44 L417.5 242.89 L418.2 243.4 L418.9 243.4 L419.6 242.9 L420.3 243.96 L421 243.12 L421.7 243.75 L422.4 245.2 L423.1 244.59 L423.8 244.52 L424.5 245.64 L425.2 245.29 L425.9 244.73 L426.6 244.93 L427.3 245.45 L428 245.68 L428.7 246.79 L429.4 245.69 L430.1 246.79 L430.8 246.88 L431.5 246.24 L432.2 247.36 L432.9 247.13 L433.6 246.86 L434.3 246.73 L435 247.34 L435.7 248.4 L436.4 248.1 L437.1 247.86 L437.8 248.51 L438.5 249.01 L439.2 248.84 L439.9 249.78 L440.6 249.12 L441.3 250.68 L442 249.77 L442.7 249.81 L443.4 250.76 L444.1 250.39 L444.8 251.46 L445.5 250.86 L446.2 250.96 L446.9 251.53 L447.6 250.51 L448.3 251.43 L449 251.29 L449.7 250.93 L450.4 251.84 L451.1 250.26 L451.8 251.69 L452.5 250.48 L453.2 251.67 L453.9 250.51 L454.6 250.35 L455.3 251.11 L456 251.84 L456.7 250.71 L457.4 251.11 L458.1 251.32 L458.8 250.71 L459.5 251.2 L460.2 250.32 L460.9 251.08 L461.6 251.61 L462.3 250.91 L463 250.71 L463.7 250.43 L464.4 251.54 L465.1 251.08 L465.8 251.91 L466.5 251.62 L467.2 250.54 L467.9 251.93 L468.6 251.97 L469.3 251.78 L470 251.81 L470.7 251.56 L471.4 251.63 L472.1 251.55 L472.8 251.42 L473.5 250.86 L474.2 250.66 L474.9 251.67 L475.6 251.46 L476.3 250.54 L477 251.54 L477.7 251.5 L478.4 251.33 L479.1 251.79 L479.8 251.97 L480.5 251.13 L481.2 251.87 L481.9 251.34 L482.6 251.47 L483.3 251.21 L484 252.1" fill="none" stroke="#82d0c8" stroke-width="1.3" stroke-dasharray="1.2 0.9"/>
<path d="M274 246.93 L274.7 246.95 L275.4 246.97 L276.1 246.99 L276.8 247 L277.5 247.02 L278.2 247.04 L278.9 247.05 L279.6 247.06 L280.3 247.08 L281 247.09 L281.7 247.1 L282.4 247.11 L283.1 247.11 L283.8 247.12 L284.5 247.12 L285.2 247.12 L285.9 247.11 L286.6 247.11 L287.3 247.1 L288 247.08 L288.7 247.07 L289.4 247.04 L290.1 247.02 L290.8 246.98 L291.5 246.94 L292.2 246.9 L292.9 246.85 L293.6 246.79 L294.3 246.72 L295 246.65 L295.7 246.57 L296.4 246.48 L297.1 246.38 L297.8 246.27 L298.5 246.15 L299.2 246.02 L299.9 245.88 L300.6 245.73 L301.3 245.57 L302 245.41 L302.7 245.23 L303.4 245.05 L304.1 244.86 L304.8 244.67 L305.5 244.47 L306.2 244.27 L306.9 244.06 L307.6 243.85 L308.3 243.64 L309 243.43 L309.7 243.22 L310.4 243.01 L311.1 242.8 L311.8 242.59 L312.5 242.39 L313.2 242.18 L313.9 241.97 L314.6 241.76 L315.3 241.54 L316 241.31 L316.7 241.07 L317.4 240.82 L318.1 240.55 L318.8 240.25 L319.5 239.93 L320.2 239.57 L320.9 239.16 L321.6 238.71 L322.3 238.21 L323 237.63 L323.7 236.99 L324.4 236.27 L325.1 235.46 L325.8 234.56 L326.5 233.57 L327.2 232.47 L327.9 231.26 L328.6 229.95 L329.3 228.53 L330 227.02 L330.7 225.41 L331.4 223.71 L332.1 221.95 L332.8 220.14 L333.5 218.3 L334.2 216.45 L334.9 214.64 L335.6 212.88 L336.3 211.22 L337 209.71 L337.7 208.38 L338.4 207.29 L339.1 206.49 L339.8 206 L340.5 205.87 L341.2 206.08 L341.9 206.49 L342.6 207.08 L343.3 207.85 L344 208.79 L344.7 209.89 L345.4 211.14 L346.1 212.52 L346.8 214.01 L347.5 215.6 L348.2 217.25 L348.9 218.94 L349.6 220.66 L350.3 222.39 L351 224.09 L351.7 225.77 L352.4 227.4 L353.1 228.98 L353.8 230.5 L354.5 231.95 L355.2 233.32 L355.9 234.62 L356.6 235.85 L357.3 237 L358 238.07 L358.7 239.07 L359.4 240 L360.1 240.86 L360.8 241.65 L361.5 242.38 L362.2 243.04 L362.9 243.65 L363.6 244.2 L364.3 244.7 L365 245.15 L365.7 245.55 L366.4 245.91 L367.1 246.24 L367.8 246.52 L368.5 246.78 L369.2 247 L369.9 247.2 L370.6 247.37 L371.3 247.52 L372 247.65 L372.7 247.77 L373.4 247.87 L374.1 247.96 L374.8 248.03 L375.5 248.1 L376.2 248.16 L376.9 248.22 L377.6 248.27 L378.3 248.32 L379 248.36 L379.7 248.4 L380.4 248.44 L381.1 248.48 L381.8 248.52 L382.5 248.56 L383.2 248.6 L383.9 248.65 L384.6 248.69 L385.3 248.73 L386 248.78 L386.7 248.83 L387.4 248.88 L388.1 248.93 L388.8 248.97 L389.5 249.02 L390.2 249.07 L390.9 249.12 L391.6 249.16 L392.3 249.2 L393 249.23 L393.7 249.26 L394.4 249.28 L395.1 249.28 L395.8 249.28 L396.5 249.26 L397.2 249.23 L397.9 249.18 L398.6 249.11 L399.3 249.03 L400 248.92 L400.7 248.78 L401.4 248.63 L402.1 248.45 L402.8 248.25 L403.5 248.02 L404.2 247.77 L404.9 247.51 L405.6 247.22 L406.3 246.93 L407 246.62 L407.7 246.31 L408.4 245.99 L409.1 245.69 L409.8 245.39 L410.5 245.11 L411.2 244.85 L411.9 244.62 L412.6 244.42 L413.3 244.26 L414 244.14 L414.7 244.06 L415.4 244.04 L416.1 244.05 L416.8 244.12 L417.5 244.23 L418.2 244.39 L418.9 244.58 L419.6 244.81 L420.3 245.06 L421 245.34 L421.7 245.62 L422.4 245.91 L423.1 246.19 L423.8 246.46 L424.5 246.71 L425.2 246.93 L425.9 247.12 L426.6 247.28 L427.3 247.41 L428 247.51 L428.7 247.6 L429.4 247.67 L430.1 247.75 L430.8 247.83 L431.5 247.94 L432.2 248.07 L432.9 248.24 L433.6 248.44 L434.3 248.68 L435 248.96 L435.7 249.27 L436.4 249.59 L437.1 249.93 L437.8 250.27 L438.5 250.6 L439.2 250.92 L439.9 251.21 L440.6 251.46 L441.3 251.68 L442 251.87 L442.7 252.03 L443.4 252.16 L444.1 252.27 L444.8 252.35 L445.5 252.42 L446.2 252.47 L446.9 252.51 L447.6 252.54 L448.3 252.56 L449 252.58 L449.7 252.6 L450.4 252.61 L451.1 252.62 L451.8 252.63 L452.5 252.64 L453.2 252.64 L453.9 252.65 L454.6 252.66 L455.3 252.66 L456 252.67 L456.7 252.68 L457.4 252.68 L458.1 252.69 L458.8 252.7 L459.5 252.7 L460.2 252.71 L460.9 252.71 L461.6 252.72 L462.3 252.73 L463 252.73 L463.7 252.74 L464.4 252.75 L465.1 252.75 L465.8 252.76 L466.5 252.76 L467.2 252.77 L467.9 252.78 L468.6 252.78 L469.3 252.79 L470 252.79 L470.7 252.8 L471.4 252.81 L472.1 252.81 L472.8 252.82 L473.5 252.82 L474.2 252.83 L474.9 252.84 L475.6 252.84 L476.3 252.85 L477 252.85 L477.7 252.86 L478.4 252.86 L479.1 252.87 L479.8 252.88 L480.5 252.88 L481.2 252.89 L481.9 252.89 L482.6 252.9 L483.3 252.9 L484 252.91" fill="none" stroke="#1e8a88" stroke-width="1.5" stroke-linejoin="round"/>
<path d="M274 322.88 L274.7 322.92 L275.4 322.96 L276.1 323 L276.8 323.03 L277.5 323.07 L278.2 323.11 L278.9 323.15 L279.6 323.19 L280.3 323.23 L281 323.27 L281.7 323.3 L282.4 323.34 L283.1 323.38 L283.8 323.42 L284.5 323.45 L285.2 323.49 L285.9 323.52 L286.6 323.56 L287.3 323.59 L288 323.63 L288.7 323.66 L289.4 323.69 L290.1 323.73 L290.8 323.76 L291.5 323.79 L292.2 323.82 L292.9 323.85 L293.6 323.88 L294.3 323.91 L295 323.94 L295.7 323.96 L296.4 323.99 L297.1 324.01 L297.8 324.04 L298.5 324.06 L299.2 324.08 L299.9 324.1 L300.6 324.12 L301.3 324.14 L302 324.16 L302.7 324.17 L303.4 324.18 L304.1 324.2 L304.8 324.2 L305.5 324.21 L306.2 324.22 L306.9 324.22 L307.6 324.22 L308.3 324.21 L309 324.2 L309.7 324.19 L310.4 324.18 L311.1 324.16 L311.8 324.13 L312.5 324.1 L313.2 324.07 L313.9 324.02 L314.6 323.97 L315.3 323.91 L316 323.83 L316.7 323.74 L317.4 323.63 L318.1 323.49 L318.8 323.33 L319.5 323.14 L320.2 322.9 L320.9 322.61 L321.6 322.25 L322.3 321.82 L323 321.3 L323.7 320.66 L324.4 319.91 L325.1 319.01 L325.8 317.95 L326.5 316.7 L327.2 315.25 L327.9 313.59 L328.6 311.71 L329.3 309.59 L330 307.24 L330.7 304.66 L331.4 301.88 L332.1 298.9 L332.8 295.79 L333.5 292.57 L334.2 289.32 L334.9 286.11 L335.6 283.04 L336.3 280.2 L337 277.73 L337.7 275.74 L338.4 274.33 L339.1 273.6 L339.8 273.56 L340.5 273.92 L341.2 274.62 L341.9 275.63 L342.6 276.93 L343.3 278.48 L344 280.25 L344.7 282.2 L345.4 284.28 L346.1 286.47 L346.8 288.72 L347.5 291.02 L348.2 293.32 L348.9 295.61 L349.6 297.86 L350.3 300.05 L351 302.14 L351.7 304.16 L352.4 306.08 L353.1 307.9 L353.8 309.62 L354.5 311.23 L355.2 312.73 L355.9 314.13 L356.6 315.41 L357.3 316.59 L358 317.67 L358.7 318.65 L359.4 319.54 L360.1 320.34 L360.8 321.06 L361.5 321.71 L362.2 322.29 L362.9 322.81 L363.6 323.27 L364.3 323.68 L365 324.05 L365.7 324.37 L366.4 324.66 L367.1 324.92 L367.8 325.16 L368.5 325.36 L369.2 325.55 L369.9 325.72 L370.6 325.87 L371.3 326.01 L372 326.14 L372.7 326.25 L373.4 326.36 L374.1 326.46 L374.8 326.55 L375.5 326.64 L376.2 326.72 L376.9 326.8 L377.6 326.87 L378.3 326.94 L379 327.01 L379.7 327.07 L380.4 327.13 L381.1 327.19 L381.8 327.25 L382.5 327.3 L383.2 327.35 L383.9 327.4 L384.6 327.45 L385.3 327.49 L386 327.54 L386.7 327.58 L387.4 327.62 L388.1 327.66 L388.8 327.7 L389.5 327.74 L390.2 327.78 L390.9 327.81 L391.6 327.85 L392.3 327.88 L393 327.92 L393.7 327.95 L394.4 327.98 L395.1 328.01 L395.8 328.04 L396.5 328.07 L397.2 328.1 L397.9 328.13 L398.6 328.16 L399.3 328.18 L400 328.21 L400.7 328.23 L401.4 328.26 L402.1 328.28 L402.8 328.31 L403.5 328.33 L404.2 328.36 L404.9 328.38 L405.6 328.4 L406.3 328.42 L407 328.45 L407.7 328.47 L408.4 328.49 L409.1 328.51 L409.8 328.53 L410.5 328.55 L411.2 328.57 L411.9 328.59 L412.6 328.61 L413.3 328.63 L414 328.65 L414.7 328.67 L415.4 328.69 L416.1 328.7 L416.8 328.72 L417.5 328.74 L418.2 328.76 L418.9 328.77 L419.6 328.79 L420.3 328.81 L421 328.83 L421.7 328.84 L422.4 328.86 L423.1 328.88 L423.8 328.89 L424.5 328.91 L425.2 328.92 L425.9 328.94 L426.6 328.96 L427.3 328.97 L428 328.99 L428.7 329 L429.4 329.02 L430.1 329.03 L430.8 329.05 L431.5 329.06 L432.2 329.08 L432.9 329.09 L433.6 329.11 L434.3 329.12 L435 329.14 L435.7 329.15 L436.4 329.16 L437.1 329.18 L437.8 329.19 L438.5 329.21 L439.2 329.22 L439.9 329.23 L440.6 329.24 L441.3 329.25 L442 329.25 L442.7 329.26 L443.4 329.27 L444.1 329.27 L444.8 329.28 L445.5 329.29 L446.2 329.29 L446.9 329.3 L447.6 329.31 L448.3 329.31 L449 329.32 L449.7 329.32 L450.4 329.33 L451.1 329.34 L451.8 329.34 L452.5 329.35 L453.2 329.35 L453.9 329.36 L454.6 329.36 L454.6 329.57 L274 323.17 Z" fill="#fde4b2"/>
<path d="M274 322.88 L274.7 322.92 L275.4 322.96 L276.1 323 L276.8 323.03 L277.5 323.07 L278.2 323.11 L278.9 323.15 L279.6 323.19 L280.3 323.23 L281 323.27 L281.7 323.3 L282.4 323.34 L283.1 323.38 L283.8 323.42 L284.5 323.45 L285.2 323.49 L285.9 323.52 L286.6 323.56 L287.3 323.59 L288 323.63 L288.7 323.66 L289.4 323.69 L290.1 323.73 L290.8 323.76 L291.5 323.79 L292.2 323.82 L292.9 323.85 L293.6 323.88 L294.3 323.91 L295 323.94 L295.7 323.96 L296.4 323.99 L297.1 324.01 L297.8 324.04 L298.5 324.06 L299.2 324.08 L299.9 324.1 L300.6 324.12 L301.3 324.14 L302 324.16 L302.7 324.17 L303.4 324.18 L304.1 324.2 L304.8 324.2 L305.5 324.21 L306.2 324.22 L306.9 324.22 L307.6 324.22 L308.3 324.21 L309 324.2 L309.7 324.19 L310.4 324.18 L311.1 324.16 L311.8 324.13 L312.5 324.1 L313.2 324.07 L313.9 324.02 L314.6 323.97 L315.3 323.91 L316 323.83 L316.7 323.74 L317.4 323.63 L318.1 323.49 L318.8 323.33 L319.5 323.14 L320.2 322.9 L320.9 322.61 L321.6 322.25 L322.3 321.82 L323 321.3 L323.7 320.66 L324.4 319.91 L325.1 319.01 L325.8 317.95 L326.5 316.7 L327.2 315.25 L327.9 313.59 L328.6 311.71 L329.3 309.59 L330 307.24 L330.7 304.66 L331.4 301.88 L332.1 298.9 L332.8 295.79 L333.5 292.57 L334.2 289.32 L334.9 286.11 L335.6 283.04 L336.3 280.2 L337 277.73 L337.7 275.74 L338.4 274.33 L339.1 273.6 L339.8 273.56 L340.5 273.92 L341.2 274.62 L341.9 275.63 L342.6 276.93 L343.3 278.48 L344 280.25 L344.7 282.2 L345.4 284.28 L346.1 286.47 L346.8 288.72 L347.5 291.02 L348.2 293.32 L348.9 295.61 L349.6 297.86 L350.3 300.05 L351 302.14 L351.7 304.16 L352.4 306.08 L353.1 307.9 L353.8 309.62 L354.5 311.23 L355.2 312.73 L355.9 314.13 L356.6 315.41 L357.3 316.59 L358 317.67 L358.7 318.65 L359.4 319.54 L360.1 320.34 L360.8 321.06 L361.5 321.71 L362.2 322.29 L362.9 322.81 L363.6 323.27 L364.3 323.68 L365 324.05 L365.7 324.37 L366.4 324.66 L367.1 324.92 L367.8 325.16 L368.5 325.36 L369.2 325.55 L369.9 325.72 L370.6 325.87 L371.3 326.01 L372 326.14 L372.7 326.25 L373.4 326.36 L374.1 326.46 L374.8 326.55 L375.5 326.64 L376.2 326.72 L376.9 326.8 L377.6 326.87 L378.3 326.94 L379 327.01 L379.7 327.07 L380.4 327.13 L381.1 327.19 L381.8 327.25 L382.5 327.3 L383.2 327.35 L383.9 327.4 L384.6 327.45 L385.3 327.49 L386 327.54 L386.7 327.58 L387.4 327.62 L388.1 327.66 L388.8 327.7 L389.5 327.74 L390.2 327.78 L390.9 327.81 L391.6 327.85 L392.3 327.88 L393 327.92 L393.7 327.95 L394.4 327.98 L395.1 328.01 L395.8 328.04 L396.5 328.07 L397.2 328.1 L397.9 328.13 L398.6 328.16 L399.3 328.18 L400 328.21 L400.7 328.23 L401.4 328.26 L402.1 328.28 L402.8 328.31 L403.5 328.33 L404.2 328.36 L404.9 328.38 L405.6 328.4 L406.3 328.42 L407 328.45 L407.7 328.47 L408.4 328.49 L409.1 328.51 L409.8 328.53 L410.5 328.55 L411.2 328.57 L411.9 328.59 L412.6 328.61 L413.3 328.63 L414 328.65 L414.7 328.67 L415.4 328.69 L416.1 328.7 L416.8 328.72 L417.5 328.74 L418.2 328.76 L418.9 328.77 L419.6 328.79 L420.3 328.81 L421 328.83 L421.7 328.84 L422.4 328.86 L423.1 328.88 L423.8 328.89 L424.5 328.91 L425.2 328.92 L425.9 328.94 L426.6 328.96 L427.3 328.97 L428 328.99 L428.7 329 L429.4 329.02 L430.1 329.03 L430.8 329.05 L431.5 329.06 L432.2 329.08 L432.9 329.09 L433.6 329.11 L434.3 329.12 L435 329.14 L435.7 329.15 L436.4 329.16 L437.1 329.18 L437.8 329.19 L438.5 329.21 L439.2 329.22 L439.9 329.23 L440.6 329.24 L441.3 329.25 L442 329.25 L442.7 329.26 L443.4 329.27 L444.1 329.27 L444.8 329.28 L445.5 329.29 L446.2 329.29 L446.9 329.3 L447.6 329.31 L448.3 329.31 L449 329.32 L449.7 329.32 L450.4 329.33 L451.1 329.34 L451.8 329.34 L452.5 329.35 L453.2 329.35 L453.9 329.36 L454.6 329.36" fill="none" stroke="#f5b400" stroke-width="1.3"/>
<path d="M274 322.91 L274.7 322.92 L275.4 322.92 L276.1 322.93 L276.8 322.92 L277.5 322.91 L278.2 322.9 L278.9 322.88 L279.6 322.85 L280.3 322.82 L281 322.77 L281.7 322.72 L282.4 322.67 L283.1 322.6 L283.8 322.53 L284.5 322.44 L285.2 322.35 L285.9 322.25 L286.6 322.14 L287.3 322.02 L288 321.89 L288.7 321.75 L289.4 321.6 L290.1 321.44 L290.8 321.28 L291.5 321.1 L292.2 320.92 L292.9 320.73 L293.6 320.54 L294.3 320.34 L295 320.13 L295.7 319.93 L296.4 319.72 L297.1 319.5 L297.8 319.29 L298.5 319.08 L299.2 318.88 L299.9 318.67 L300.6 318.48 L301.3 318.29 L302 318.11 L302.7 317.94 L303.4 317.78 L304.1 317.63 L304.8 317.5 L305.5 317.38 L306.2 317.28 L306.9 317.2 L307.6 317.14 L308.3 317.09 L309 317.07 L309.7 317.07 L310.4 317.08 L311.1 317.12 L311.8 317.19 L312.5 317.27 L313.2 317.38 L313.9 317.52 L314.6 317.68 L315.3 317.85 L316 318.05 L316.7 318.27 L317.4 318.51 L318.1 318.76 L318.8 319.03 L319.5 319.32 L320.2 319.61 L320.9 319.91 L321.6 320.22 L322.3 320.54 L323 320.86 L323.7 321.18 L324.4 321.51 L325.1 321.83 L325.8 322.15 L326.5 322.47 L327.2 322.78 L327.9 323.08 L328.6 323.38 L329.3 323.67 L330 323.95 L330.7 324.23 L331.4 324.49 L332.1 324.74 L332.8 324.98 L333.5 325.21 L334.2 325.42 L334.9 325.63 L335.6 325.83 L336.3 326.01 L337 326.19 L337.7 326.35 L338.4 326.51 L339.1 326.66 L339.8 326.79 L340.5 326.92 L341.2 327.04 L341.9 327.16 L342.6 327.27 L343.3 327.37 L344 327.46 L344.7 327.55 L345.4 327.64 L346.1 327.72 L346.1 327.94 L274 323.17 Z" fill="#d98c6a"/>
<path d="M274 322.91 L274.7 322.92 L275.4 322.92 L276.1 322.93 L276.8 322.92 L277.5 322.91 L278.2 322.9 L278.9 322.88 L279.6 322.85 L280.3 322.82 L281 322.77 L281.7 322.72 L282.4 322.67 L283.1 322.6 L283.8 322.53 L284.5 322.44 L285.2 322.35 L285.9 322.25 L286.6 322.14 L287.3 322.02 L288 321.89 L288.7 321.75 L289.4 321.6 L290.1 321.44 L290.8 321.28 L291.5 321.1 L292.2 320.92 L292.9 320.73 L293.6 320.54 L294.3 320.34 L295 320.13 L295.7 319.93 L296.4 319.72 L297.1 319.5 L297.8 319.29 L298.5 319.08 L299.2 318.88 L299.9 318.67 L300.6 318.48 L301.3 318.29 L302 318.11 L302.7 317.94 L303.4 317.78 L304.1 317.63 L304.8 317.5 L305.5 317.38 L306.2 317.28 L306.9 317.2 L307.6 317.14 L308.3 317.09 L309 317.07 L309.7 317.07 L310.4 317.08 L311.1 317.12 L311.8 317.19 L312.5 317.27 L313.2 317.38 L313.9 317.52 L314.6 317.68 L315.3 317.85 L316 318.05 L316.7 318.27 L317.4 318.51 L318.1 318.76 L318.8 319.03 L319.5 319.32 L320.2 319.61 L320.9 319.91 L321.6 320.22 L322.3 320.54 L323 320.86 L323.7 321.18 L324.4 321.51 L325.1 321.83 L325.8 322.15 L326.5 322.47 L327.2 322.78 L327.9 323.08 L328.6 323.38 L329.3 323.67 L330 323.95 L330.7 324.23 L331.4 324.49 L332.1 324.74 L332.8 324.98 L333.5 325.21 L334.2 325.42 L334.9 325.63 L335.6 325.83 L336.3 326.01 L337 326.19 L337.7 326.35 L338.4 326.51 L339.1 326.66 L339.8 326.79 L340.5 326.92 L341.2 327.04 L341.9 327.16 L342.6 327.27 L343.3 327.37 L344 327.46 L344.7 327.55 L345.4 327.64 L346.1 327.72 L346.1 327.94 L274 323.17 Z" fill="url(#dots)"/>
<path d="M308.3 325.22 L309 325.22 L309.7 325.22 L310.4 325.2 L311.1 325.18 L311.8 325.15 L312.5 325.11 L313.2 325.06 L313.9 325 L314.6 324.93 L315.3 324.85 L316 324.76 L316.7 324.65 L317.4 324.54 L318.1 324.42 L318.8 324.29 L319.5 324.15 L320.2 324.02 L320.9 323.87 L321.6 323.73 L322.3 323.59 L323 323.46 L323.7 323.33 L324.4 323.21 L325.1 323.1 L325.8 323.01 L326.5 322.93 L327.2 322.88 L327.9 322.84 L328.6 322.83 L329.3 322.84 L330 322.88 L330.7 322.93 L331.4 323.02 L332.1 323.12 L332.8 323.25 L333.5 323.4 L334.2 323.57 L334.9 323.75 L335.6 323.95 L336.3 324.16 L337 324.38 L337.7 324.61 L338.4 324.84 L339.1 325.08 L339.8 325.31 L340.5 325.55 L341.2 325.77 L341.9 325.99 L342.6 326.21 L343.3 326.41 L344 326.61 L344.7 326.8 L345.4 326.97 L346.1 327.13 L346.8 327.29 L347.5 327.43 L348.2 327.56 L348.9 327.69 L349.6 327.8 L350.3 327.89 L351 327.95 L351.7 328.01 L351.7 328.22 L308.3 325.44 Z" fill="#7a8ca4"/>
<path d="M357.3 328.09 L358 328.08 L358.7 328.07 L359.4 328.05 L360.1 328.04 L360.8 328.02 L361.5 328 L362.2 327.98 L362.9 327.95 L363.6 327.93 L364.3 327.9 L365 327.88 L365.7 327.85 L366.4 327.82 L367.1 327.78 L367.8 327.75 L368.5 327.72 L369.2 327.68 L369.9 327.65 L370.6 327.61 L371.3 327.58 L372 327.54 L372.7 327.51 L373.4 327.47 L374.1 327.44 L374.8 327.41 L375.5 327.38 L376.2 327.35 L376.9 327.32 L377.6 327.29 L378.3 327.27 L379 327.25 L379.7 327.23 L380.4 327.22 L381.1 327.21 L381.8 327.2 L382.5 327.19 L383.2 327.19 L383.9 327.19 L384.6 327.2 L385.3 327.21 L386 327.22 L386.7 327.24 L387.4 327.26 L388.1 327.29 L388.8 327.31 L389.5 327.35 L390.2 327.38 L390.9 327.42 L391.6 327.46 L392.3 327.5 L393 327.55 L393.7 327.59 L394.4 327.64 L395.1 327.7 L395.8 327.75 L396.5 327.8 L397.2 327.86 L397.9 327.91 L398.6 327.97 L399.3 328.02 L400 328.08 L400.7 328.13 L401.4 328.19 L402.1 328.24 L402.8 328.29 L403.5 328.35 L404.2 328.4 L404.9 328.45 L405.6 328.5 L406.3 328.54 L407 328.59 L407.7 328.63 L408.4 328.67 L409.1 328.71 L409.8 328.75 L410.5 328.79 L411.2 328.82 L411.9 328.86 L412.6 328.89 L412.6 329.1 L357.3 328.31 Z" fill="#96d8b6"/>
<path d="M393.7 328.59 L394.4 328.55 L395.1 328.5 L395.8 328.43 L396.5 328.36 L397.2 328.27 L397.9 328.16 L398.6 328.05 L399.3 327.91 L400 327.76 L400.7 327.6 L401.4 327.41 L402.1 327.21 L402.8 327 L403.5 326.77 L404.2 326.53 L404.9 326.28 L405.6 326.02 L406.3 325.76 L407 325.49 L407.7 325.23 L408.4 324.97 L409.1 324.73 L409.8 324.5 L410.5 324.29 L411.2 324.11 L411.9 323.95 L412.6 323.82 L413.3 323.72 L414 323.66 L414.7 323.64 L415.4 323.65 L416.1 323.7 L416.8 323.79 L417.5 323.91 L418.2 324.06 L418.9 324.24 L419.6 324.45 L420.3 324.69 L421 324.94 L421.7 325.2 L422.4 325.48 L423.1 325.76 L423.8 326.05 L424.5 326.33 L425.2 326.61 L425.9 326.88 L426.6 327.14 L427.3 327.39 L428 327.62 L428.7 327.84 L429.4 328.04 L430.1 328.22 L430.8 328.39 L431.5 328.54 L432.2 328.68 L432.9 328.8 L433.6 328.91 L434.3 329 L435 329.08 L435.7 329.15 L436.4 329.22 L436.4 329.45 L393.7 328.83 Z" fill="url(#gRu4)"/>
<path d="M419.6 328.98 L420.3 328.91 L421 328.83 L421.7 328.73 L422.4 328.62 L423.1 328.48 L423.8 328.34 L424.5 328.18 L425.2 328.02 L425.9 327.87 L426.6 327.72 L427.3 327.59 L428 327.48 L428.7 327.4 L429.4 327.36 L430.1 327.36 L430.8 327.39 L431.5 327.47 L432.2 327.57 L432.9 327.71 L433.6 327.86 L434.3 328.04 L435 328.21 L435.7 328.39 L436.4 328.57 L437.1 328.73 L437.8 328.88 L438.5 329.01 L439.2 329.12 L439.9 329.22 L440.6 329.29 L440.6 329.5 L419.6 329.21 Z" fill="#e8504e"/>
<path d="M274 323.17 L274.7 323.21 L275.4 323.26 L276.1 323.31 L276.8 323.35 L277.5 323.4 L278.2 323.44 L278.9 323.49 L279.6 323.54 L280.3 323.58 L281 323.63 L281.7 323.68 L282.4 323.72 L283.1 323.77 L283.8 323.82 L284.5 323.86 L285.2 323.91 L285.9 323.95 L286.6 324 L287.3 324.05 L288 324.09 L288.7 324.14 L289.4 324.19 L290.1 324.23 L290.8 324.28 L291.5 324.33 L292.2 324.37 L292.9 324.42 L293.6 324.46 L294.3 324.51 L295 324.56 L295.7 324.6 L296.4 324.65 L297.1 324.7 L297.8 324.74 L298.5 324.79 L299.2 324.84 L299.9 324.88 L300.6 324.93 L301.3 324.97 L302 325.02 L302.7 325.07 L303.4 325.11 L304.1 325.16 L304.8 325.21 L305.5 325.25 L306.2 325.3 L306.9 325.35 L307.6 325.39 L308.3 325.44 L309 325.48 L309.7 325.53 L310.4 325.58 L311.1 325.62 L311.8 325.67 L312.5 325.72 L313.2 325.76 L313.9 325.81 L314.6 325.86 L315.3 325.9 L316 325.95 L316.7 325.99 L317.4 326.04 L318.1 326.09 L318.8 326.13 L319.5 326.18 L320.2 326.23 L320.9 326.27 L321.6 326.32 L322.3 326.37 L323 326.41 L323.7 326.46 L324.4 326.5 L325.1 326.55 L325.8 326.6 L326.5 326.64 L327.2 326.69 L327.9 326.74 L328.6 326.78 L329.3 326.83 L330 326.88 L330.7 326.92 L331.4 326.97 L332.1 327.01 L332.8 327.06 L333.5 327.11 L334.2 327.15 L334.9 327.2 L335.6 327.25 L336.3 327.29 L337 327.34 L337.7 327.39 L338.4 327.43 L339.1 327.48 L339.8 327.52 L340.5 327.57 L341.2 327.62 L341.9 327.66 L342.6 327.71 L343.3 327.76 L344 327.8 L344.7 327.85 L345.4 327.9 L346.1 327.94 L346.8 327.99 L347.5 328.03 L348.2 328.08 L348.9 328.13 L349.6 328.17 L350.3 328.2 L351 328.21 L351.7 328.22 L352.4 328.23 L353.1 328.24 L353.8 328.25 L354.5 328.26 L355.2 328.28 L355.9 328.29 L356.6 328.3 L357.3 328.31 L358 328.32 L358.7 328.33 L359.4 328.34 L360.1 328.35 L360.8 328.36 L361.5 328.37 L362.2 328.38 L362.9 328.39 L363.6 328.4 L364.3 328.41 L365 328.42 L365.7 328.43 L366.4 328.44 L367.1 328.45 L367.8 328.46 L368.5 328.47 L369.2 328.48 L369.9 328.49 L370.6 328.5 L371.3 328.51 L372 328.52 L372.7 328.53 L373.4 328.54 L374.1 328.55 L374.8 328.56 L375.5 328.57 L376.2 328.58 L376.9 328.59 L377.6 328.6 L378.3 328.61 L379 328.62 L379.7 328.63 L380.4 328.64 L381.1 328.65 L381.8 328.66 L382.5 328.67 L383.2 328.68 L383.9 328.69 L384.6 328.7 L385.3 328.71 L386 328.72 L386.7 328.73 L387.4 328.74 L388.1 328.75 L388.8 328.76 L389.5 328.77 L390.2 328.78 L390.9 328.79 L391.6 328.8 L392.3 328.81 L393 328.82 L393.7 328.83 L394.4 328.84 L395.1 328.85 L395.8 328.86 L396.5 328.87 L397.2 328.88 L397.9 328.89 L398.6 328.9 L399.3 328.91 L400 328.92 L400.7 328.93 L401.4 328.94 L402.1 328.95 L402.8 328.96 L403.5 328.97 L404.2 328.98 L404.9 328.99 L405.6 329 L406.3 329.01 L407 329.02 L407.7 329.03 L408.4 329.04 L409.1 329.05 L409.8 329.06 L410.5 329.07 L411.2 329.08 L411.9 329.09 L412.6 329.1 L413.3 329.11 L414 329.12 L414.7 329.13 L415.4 329.14 L416.1 329.15 L416.8 329.16 L417.5 329.17 L418.2 329.19 L418.9 329.2 L419.6 329.21 L420.3 329.22 L421 329.23 L421.7 329.24 L422.4 329.25 L423.1 329.26 L423.8 329.27 L424.5 329.28 L425.2 329.29 L425.9 329.3 L426.6 329.31 L427.3 329.32 L428 329.33 L428.7 329.34 L429.4 329.35 L430.1 329.36 L430.8 329.37 L431.5 329.38 L432.2 329.39 L432.9 329.4 L433.6 329.41 L434.3 329.42 L435 329.43 L435.7 329.44 L436.4 329.45 L437.1 329.46 L437.8 329.47 L438.5 329.48 L439.2 329.49 L439.9 329.5 L440.6 329.5 L441.3 329.51 L442 329.51 L442.7 329.51 L443.4 329.52 L444.1 329.52 L444.8 329.52 L445.5 329.52 L446.2 329.53 L446.9 329.53 L447.6 329.53 L448.3 329.54 L449 329.54 L449.7 329.54 L450.4 329.55 L451.1 329.55 L451.8 329.55 L452.5 329.56 L453.2 329.56 L453.9 329.56 L454.6 329.57 L455.3 329.57 L456 329.57 L456.7 329.58 L457.4 329.58 L458.1 329.58 L458.8 329.59 L459.5 329.59 L460.2 329.59 L460.9 329.59 L461.6 329.6 L462.3 329.6 L463 329.6 L463.7 329.61 L464.4 329.61 L465.1 329.61 L465.8 329.62 L466.5 329.62 L467.2 329.62 L467.9 329.63 L468.6 329.63 L469.3 329.63 L470 329.64 L470.7 329.64 L471.4 329.64 L472.1 329.65 L472.8 329.65 L473.5 329.65 L474.2 329.66 L474.9 329.66 L475.6 329.66 L476.3 329.66 L477 329.67 L477.7 329.67 L478.4 329.67 L479.1 329.68 L479.8 329.68 L480.5 329.68 L481.2 329.69 L481.9 329.69 L482.6 329.69 L483.3 329.7 L484 329.7" fill="none" stroke="#2a8f8a" stroke-width="1.1"/>
<path d="M274 323.17 L274.7 323.21 L275.4 323.26 L276.1 323.31 L276.8 323.35 L277.5 323.4 L278.2 323.44 L278.9 323.49 L279.6 323.54 L280.3 323.58 L281 323.63 L281.7 323.68 L282.4 323.72 L283.1 323.77 L283.8 323.82 L284.5 323.86 L285.2 323.91 L285.9 323.95 L286.6 324 L287.3 324.05 L288 324.09 L288.7 324.14 L289.4 324.19 L290.1 324.23 L290.8 324.28 L291.5 324.33 L292.2 324.37 L292.9 324.42 L293.6 324.46 L294.3 324.51 L295 324.56 L295.7 324.6 L296.4 324.65 L297.1 324.7 L297.8 324.74 L298.5 324.79 L299.2 324.84 L299.9 324.88 L300.6 324.93 L301.3 324.97 L302 325.02 L302.7 325.07 L303.4 325.11 L304.1 325.16 L304.8 325.21 L305.5 325.25 L306.2 325.3 L306.9 325.35 L307.6 325.39 L308.3 325.44 L309 325.48 L309.7 325.53 L310.4 325.58 L311.1 325.62 L311.8 325.67 L312.5 325.72 L313.2 325.76 L313.9 325.81 L314.6 325.86 L315.3 325.9 L316 325.95 L316.7 325.99 L317.4 326.04 L318.1 326.09 L318.8 326.13 L319.5 326.18 L320.2 326.23 L320.9 326.27 L321.6 326.32 L322.3 326.37 L323 326.41 L323.7 326.46 L324.4 326.5 L325.1 326.55 L325.8 326.6 L326.5 326.64 L327.2 326.69 L327.9 326.74 L328.6 326.78 L329.3 326.83 L330 326.88 L330.7 326.92 L331.4 326.97 L332.1 327.01 L332.8 327.06 L333.5 327.11 L334.2 327.15 L334.9 327.2 L335.6 327.25 L336.3 327.29 L337 327.34 L337.7 327.39 L338.4 327.43 L339.1 327.48 L339.8 327.52 L340.5 327.57 L341.2 327.62 L341.9 327.66 L342.6 327.71 L343.3 327.76 L344 327.8 L344.7 327.85 L345.4 327.9 L346.1 327.94 L346.8 327.99 L347.5 328.03 L348.2 328.08 L348.9 328.13 L349.6 328.17 L350.3 328.2 L351 328.21 L351.7 328.22 L352.4 328.23 L353.1 328.24 L353.8 328.25 L354.5 328.26 L355.2 328.28 L355.9 328.29 L356.6 328.3 L357.3 328.31 L358 328.32 L358.7 328.33 L359.4 328.34 L360.1 328.35 L360.8 328.36 L361.5 328.37 L362.2 328.38 L362.9 328.39 L363.6 328.4 L364.3 328.41 L365 328.42 L365.7 328.43 L366.4 328.44 L367.1 328.45 L367.8 328.46 L368.5 328.47 L369.2 328.48 L369.9 328.49 L370.6 328.5 L371.3 328.51 L372 328.52 L372.7 328.53 L373.4 328.54 L374.1 328.55 L374.8 328.56 L375.5 328.57 L376.2 328.58 L376.9 328.59 L377.6 328.6 L378.3 328.61 L379 328.62 L379.7 328.63 L380.4 328.64 L381.1 328.65 L381.8 328.66 L382.5 328.67 L383.2 328.68 L383.9 328.69 L384.6 328.7 L385.3 328.71 L386 328.72 L386.7 328.73 L387.4 328.74 L388.1 328.75 L388.8 328.76 L389.5 328.77 L390.2 328.78 L390.9 328.79 L391.6 328.8 L392.3 328.81 L393 328.82 L393.7 328.83 L394.4 328.84 L395.1 328.85 L395.8 328.86 L396.5 328.87 L397.2 328.88 L397.9 328.89 L398.6 328.9 L399.3 328.91 L400 328.92 L400.7 328.93 L401.4 328.94 L402.1 328.95 L402.8 328.96 L403.5 328.97 L404.2 328.98 L404.9 328.99 L405.6 329 L406.3 329.01 L407 329.02 L407.7 329.03 L408.4 329.04 L409.1 329.05 L409.8 329.06 L410.5 329.07 L411.2 329.08 L411.9 329.09 L412.6 329.1 L413.3 329.11 L414 329.12 L414.7 329.13 L415.4 329.14 L416.1 329.15 L416.8 329.16 L417.5 329.17 L418.2 329.19 L418.9 329.2 L419.6 329.21 L420.3 329.22 L421 329.23 L421.7 329.24 L422.4 329.25 L423.1 329.26 L423.8 329.27 L424.5 329.28 L425.2 329.29 L425.9 329.3 L426.6 329.31 L427.3 329.32 L428 329.33 L428.7 329.34 L429.4 329.35 L430.1 329.36 L430.8 329.37 L431.5 329.38 L432.2 329.39 L432.9 329.4 L433.6 329.41 L434.3 329.42 L435 329.43 L435.7 329.44 L436.4 329.45 L437.1 329.46 L437.8 329.47 L438.5 329.48 L439.2 329.49 L439.9 329.5 L440.6 329.5 L441.3 329.51 L442 329.51 L442.7 329.51 L443.4 329.52 L444.1 329.52 L444.8 329.52 L445.5 329.52 L446.2 329.53 L446.9 329.53 L447.6 329.53 L448.3 329.54 L449 329.54 L449.7 329.54 L450.4 329.55 L451.1 329.55 L451.8 329.55 L452.5 329.56 L453.2 329.56 L453.9 329.56 L454.6 329.57 L455.3 329.57 L456 329.57 L456.7 329.58 L457.4 329.58 L458.1 329.58 L458.8 329.59 L459.5 329.59 L460.2 329.59 L460.9 329.59 L461.6 329.6 L462.3 329.6 L463 329.6 L463.7 329.61 L464.4 329.61 L465.1 329.61 L465.8 329.62 L466.5 329.62 L467.2 329.62 L467.9 329.63 L468.6 329.63 L469.3 329.63 L470 329.64 L470.7 329.64 L471.4 329.64 L472.1 329.65 L472.8 329.65 L473.5 329.65 L474.2 329.66 L474.9 329.66 L475.6 329.66 L476.3 329.66 L477 329.67 L477.7 329.67 L478.4 329.67 L479.1 329.68 L479.8 329.68 L480.5 329.68 L481.2 329.69 L481.9 329.69 L482.6 329.69 L483.3 329.7 L484 329.7" fill="none" stroke="#e86a3a" stroke-width="1.1" stroke-dasharray="2.5 3"/>
<circle cx="273.61" cy="322.79" r="1.8" fill="none" stroke="#5cc0b8" stroke-width="0.8"/>
<circle cx="276.25" cy="323.29" r="1.8" fill="none" stroke="#5cc0b8" stroke-width="0.8"/>
<circle cx="277.97" cy="321.8" r="1.8" fill="none" stroke="#5cc0b8" stroke-width="0.8"/>
<circle cx="280.53" cy="322.54" r="1.8" fill="none" stroke="#5cc0b8" stroke-width="0.8"/>
<circle cx="282.2" cy="322.42" r="1.8" fill="none" stroke="#5cc0b8" stroke-width="0.8"/>
<circle cx="284.4" cy="322.36" r="1.8" fill="none" stroke="#5cc0b8" stroke-width="0.8"/>
<circle cx="286.22" cy="320.86" r="1.8" fill="none" stroke="#5cc0b8" stroke-width="0.8"/>
<circle cx="289.1" cy="320.71" r="1.8" fill="none" stroke="#5cc0b8" stroke-width="0.8"/>
<circle cx="290.56" cy="321.13" r="1.8" fill="none" stroke="#5cc0b8" stroke-width="0.8"/>
<circle cx="293.03" cy="319.15" r="1.8" fill="none" stroke="#5cc0b8" stroke-width="0.8"/>
<circle cx="295.05" cy="319.56" r="1.8" fill="none" stroke="#5cc0b8" stroke-width="0.8"/>
<circle cx="296.76" cy="318.82" r="1.8" fill="none" stroke="#5cc0b8" stroke-width="0.8"/>
<circle cx="298.82" cy="317.42" r="1.8" fill="none" stroke="#5cc0b8" stroke-width="0.8"/>
<circle cx="300.88" cy="316.41" r="1.8" fill="none" stroke="#5cc0b8" stroke-width="0.8"/>
<circle cx="303.88" cy="316.13" r="1.8" fill="none" stroke="#5cc0b8" stroke-width="0.8"/>
<circle cx="305.99" cy="315.56" r="1.8" fill="none" stroke="#5cc0b8" stroke-width="0.8"/>
<circle cx="307.71" cy="315.91" r="1.8" fill="none" stroke="#5cc0b8" stroke-width="0.8"/>
<circle cx="309.89" cy="313.82" r="1.8" fill="none" stroke="#5cc0b8" stroke-width="0.8"/>
<circle cx="311.89" cy="314.49" r="1.8" fill="none" stroke="#5cc0b8" stroke-width="0.8"/>
<circle cx="313.58" cy="313" r="1.8" fill="none" stroke="#5cc0b8" stroke-width="0.8"/>
<circle cx="316.37" cy="313.54" r="1.8" fill="none" stroke="#5cc0b8" stroke-width="0.8"/>
<circle cx="317.79" cy="313.01" r="1.8" fill="none" stroke="#5cc0b8" stroke-width="0.8"/>
<circle cx="319.92" cy="313.17" r="1.8" fill="none" stroke="#5cc0b8" stroke-width="0.8"/>
<circle cx="322.3" cy="310.74" r="1.8" fill="none" stroke="#5cc0b8" stroke-width="0.8"/>
<circle cx="324.72" cy="309.04" r="1.8" fill="none" stroke="#5cc0b8" stroke-width="0.8"/>
<circle cx="326.28" cy="306.07" r="1.8" fill="none" stroke="#5cc0b8" stroke-width="0.8"/>
<circle cx="328.84" cy="301.81" r="1.8" fill="none" stroke="#5cc0b8" stroke-width="0.8"/>
<circle cx="330.73" cy="295.44" r="1.8" fill="none" stroke="#5cc0b8" stroke-width="0.8"/>
<circle cx="332.78" cy="288.69" r="1.8" fill="none" stroke="#5cc0b8" stroke-width="0.8"/>
<circle cx="334.93" cy="279.54" r="1.8" fill="none" stroke="#5cc0b8" stroke-width="0.8"/>
<circle cx="336.98" cy="272.18" r="1.8" fill="none" stroke="#5cc0b8" stroke-width="0.8"/>
<circle cx="339.2" cy="268.37" r="1.8" fill="none" stroke="#5cc0b8" stroke-width="0.8"/>
<circle cx="341.17" cy="270.64" r="1.8" fill="none" stroke="#5cc0b8" stroke-width="0.8"/>
<circle cx="343.67" cy="276.81" r="1.8" fill="none" stroke="#5cc0b8" stroke-width="0.8"/>
<circle cx="344.97" cy="281.61" r="1.8" fill="none" stroke="#5cc0b8" stroke-width="0.8"/>
<circle cx="347.7" cy="289.76" r="1.8" fill="none" stroke="#5cc0b8" stroke-width="0.8"/>
<circle cx="349.12" cy="297.25" r="1.8" fill="none" stroke="#5cc0b8" stroke-width="0.8"/>
<circle cx="352.14" cy="303.19" r="1.8" fill="none" stroke="#5cc0b8" stroke-width="0.8"/>
<circle cx="353.65" cy="309.11" r="1.8" fill="none" stroke="#5cc0b8" stroke-width="0.8"/>
<circle cx="356.34" cy="313.04" r="1.8" fill="none" stroke="#5cc0b8" stroke-width="0.8"/>
<circle cx="357.8" cy="316.43" r="1.8" fill="none" stroke="#5cc0b8" stroke-width="0.8"/>
<circle cx="360.23" cy="319.66" r="1.8" fill="none" stroke="#5cc0b8" stroke-width="0.8"/>
<circle cx="361.96" cy="321.38" r="1.8" fill="none" stroke="#5cc0b8" stroke-width="0.8"/>
<circle cx="363.83" cy="322.52" r="1.8" fill="none" stroke="#5cc0b8" stroke-width="0.8"/>
<circle cx="366.88" cy="323.97" r="1.8" fill="none" stroke="#5cc0b8" stroke-width="0.8"/>
<circle cx="368.28" cy="325.28" r="1.8" fill="none" stroke="#5cc0b8" stroke-width="0.8"/>
<circle cx="370.46" cy="324.21" r="1.8" fill="none" stroke="#5cc0b8" stroke-width="0.8"/>
<circle cx="372.24" cy="324.24" r="1.8" fill="none" stroke="#5cc0b8" stroke-width="0.8"/>
<circle cx="374.5" cy="324.59" r="1.8" fill="none" stroke="#5cc0b8" stroke-width="0.8"/>
<circle cx="377.27" cy="324.79" r="1.8" fill="none" stroke="#5cc0b8" stroke-width="0.8"/>
<circle cx="378.75" cy="325.61" r="1.8" fill="none" stroke="#5cc0b8" stroke-width="0.8"/>
<circle cx="381.52" cy="325.06" r="1.8" fill="none" stroke="#5cc0b8" stroke-width="0.8"/>
<circle cx="383.46" cy="325.33" r="1.8" fill="none" stroke="#5cc0b8" stroke-width="0.8"/>
<circle cx="385.36" cy="325.93" r="1.8" fill="none" stroke="#5cc0b8" stroke-width="0.8"/>
<circle cx="387.84" cy="326.41" r="1.8" fill="none" stroke="#5cc0b8" stroke-width="0.8"/>
<circle cx="389.51" cy="326.72" r="1.8" fill="none" stroke="#5cc0b8" stroke-width="0.8"/>
<circle cx="391.47" cy="325.89" r="1.8" fill="none" stroke="#5cc0b8" stroke-width="0.8"/>
<circle cx="394.16" cy="326.32" r="1.8" fill="none" stroke="#5cc0b8" stroke-width="0.8"/>
<circle cx="396.07" cy="325.86" r="1.8" fill="none" stroke="#5cc0b8" stroke-width="0.8"/>
<circle cx="398.32" cy="326.41" r="1.8" fill="none" stroke="#5cc0b8" stroke-width="0.8"/>
<circle cx="399.75" cy="326.86" r="1.8" fill="none" stroke="#5cc0b8" stroke-width="0.8"/>
<circle cx="402.07" cy="325.25" r="1.8" fill="none" stroke="#5cc0b8" stroke-width="0.8"/>
<circle cx="403.96" cy="324.23" r="1.8" fill="none" stroke="#5cc0b8" stroke-width="0.8"/>
<circle cx="406" cy="324.85" r="1.8" fill="none" stroke="#5cc0b8" stroke-width="0.8"/>
<circle cx="408.04" cy="323.29" r="1.8" fill="none" stroke="#5cc0b8" stroke-width="0.8"/>
<circle cx="410.45" cy="323.33" r="1.8" fill="none" stroke="#5cc0b8" stroke-width="0.8"/>
<circle cx="412.48" cy="323.45" r="1.8" fill="none" stroke="#5cc0b8" stroke-width="0.8"/>
<circle cx="414.46" cy="322.47" r="1.8" fill="none" stroke="#5cc0b8" stroke-width="0.8"/>
<circle cx="416.73" cy="322.14" r="1.8" fill="none" stroke="#5cc0b8" stroke-width="0.8"/>
<circle cx="418.62" cy="322.58" r="1.8" fill="none" stroke="#5cc0b8" stroke-width="0.8"/>
<circle cx="421.23" cy="323.1" r="1.8" fill="none" stroke="#5cc0b8" stroke-width="0.8"/>
<circle cx="423.27" cy="323.74" r="1.8" fill="none" stroke="#5cc0b8" stroke-width="0.8"/>
<circle cx="425.35" cy="325.04" r="1.8" fill="none" stroke="#5cc0b8" stroke-width="0.8"/>
<circle cx="427.15" cy="325.96" r="1.8" fill="none" stroke="#5cc0b8" stroke-width="0.8"/>
<circle cx="429.56" cy="325.58" r="1.8" fill="none" stroke="#5cc0b8" stroke-width="0.8"/>
<circle cx="431.05" cy="325.86" r="1.8" fill="none" stroke="#5cc0b8" stroke-width="0.8"/>
<circle cx="433.37" cy="326.74" r="1.8" fill="none" stroke="#5cc0b8" stroke-width="0.8"/>
<circle cx="436.13" cy="328.33" r="1.8" fill="none" stroke="#5cc0b8" stroke-width="0.8"/>
<circle cx="437.36" cy="328.58" r="1.8" fill="none" stroke="#5cc0b8" stroke-width="0.8"/>
<circle cx="440.33" cy="328.72" r="1.8" fill="none" stroke="#5cc0b8" stroke-width="0.8"/>
<circle cx="441.6" cy="329.63" r="1.8" fill="none" stroke="#5cc0b8" stroke-width="0.8"/>
<circle cx="444.03" cy="329.98" r="1.8" fill="none" stroke="#5cc0b8" stroke-width="0.8"/>
<circle cx="446.57" cy="329.72" r="1.8" fill="none" stroke="#5cc0b8" stroke-width="0.8"/>
<circle cx="448.73" cy="328.15" r="1.8" fill="none" stroke="#5cc0b8" stroke-width="0.8"/>
<circle cx="450.69" cy="328.67" r="1.8" fill="none" stroke="#5cc0b8" stroke-width="0.8"/>
<circle cx="452.14" cy="328.84" r="1.8" fill="none" stroke="#5cc0b8" stroke-width="0.8"/>
<circle cx="454.69" cy="328.07" r="1.8" fill="none" stroke="#5cc0b8" stroke-width="0.8"/>
<circle cx="456.65" cy="329.73" r="1.8" fill="none" stroke="#5cc0b8" stroke-width="0.8"/>
<circle cx="458.8" cy="329.21" r="1.8" fill="none" stroke="#5cc0b8" stroke-width="0.8"/>
<circle cx="460.7" cy="330.15" r="1.8" fill="none" stroke="#5cc0b8" stroke-width="0.8"/>
<circle cx="462.75" cy="329.56" r="1.8" fill="none" stroke="#5cc0b8" stroke-width="0.8"/>
<circle cx="465.25" cy="328.15" r="1.8" fill="none" stroke="#5cc0b8" stroke-width="0.8"/>
<circle cx="467.7" cy="328.65" r="1.8" fill="none" stroke="#5cc0b8" stroke-width="0.8"/>
<circle cx="469.79" cy="330.12" r="1.8" fill="none" stroke="#5cc0b8" stroke-width="0.8"/>
<circle cx="471.8" cy="329.98" r="1.8" fill="none" stroke="#5cc0b8" stroke-width="0.8"/>
<circle cx="473.4" cy="329.14" r="1.8" fill="none" stroke="#5cc0b8" stroke-width="0.8"/>
<circle cx="475.45" cy="330.18" r="1.8" fill="none" stroke="#5cc0b8" stroke-width="0.8"/>
<circle cx="477.23" cy="328.52" r="1.8" fill="none" stroke="#5cc0b8" stroke-width="0.8"/>
<circle cx="480.26" cy="329.94" r="1.8" fill="none" stroke="#5cc0b8" stroke-width="0.8"/>
<circle cx="482.11" cy="330.29" r="1.8" fill="none" stroke="#5cc0b8" stroke-width="0.8"/>
<circle cx="484.02" cy="330.03" r="1.8" fill="none" stroke="#5cc0b8" stroke-width="0.8"/>
<path d="M274 322.62 L274.7 322.62 L275.4 322.62 L276.1 322.61 L276.8 322.6 L277.5 322.59 L278.2 322.57 L278.9 322.54 L279.6 322.5 L280.3 322.46 L281 322.41 L281.7 322.35 L282.4 322.29 L283.1 322.21 L283.8 322.13 L284.5 322.03 L285.2 321.93 L285.9 321.81 L286.6 321.69 L287.3 321.56 L288 321.41 L288.7 321.26 L289.4 321.1 L290.1 320.92 L290.8 320.74 L291.5 320.55 L292.2 320.35 L292.9 320.14 L293.6 319.92 L294.3 319.7 L295 319.47 L295.7 319.23 L296.4 318.99 L297.1 318.75 L297.8 318.5 L298.5 318.26 L299.2 318.01 L299.9 317.76 L300.6 317.52 L301.3 317.28 L302 317.04 L302.7 316.81 L303.4 316.58 L304.1 316.36 L304.8 316.15 L305.5 315.94 L306.2 315.75 L306.9 315.56 L307.6 315.38 L308.3 315.2 L309 315.04 L309.7 314.89 L310.4 314.74 L311.1 314.59 L311.8 314.46 L312.5 314.33 L313.2 314.21 L313.9 314.1 L314.6 313.98 L315.3 313.87 L316 313.76 L316.7 313.64 L317.4 313.51 L318.1 313.36 L318.8 313.2 L319.5 313.01 L320.2 312.79 L320.9 312.53 L321.6 312.21 L322.3 311.83 L323 311.37 L323.7 310.82 L324.4 310.15 L325.1 309.36 L325.8 308.42 L326.5 307.32 L327.2 306.03 L327.9 304.55 L328.6 302.87 L329.3 300.97 L330 298.86 L330.7 296.55 L331.4 294.04 L332.1 291.36 L332.8 288.56 L333.5 285.66 L334.2 282.75 L334.9 279.88 L335.6 277.16 L336.3 274.68 L337 272.56 L337.7 270.92 L338.4 269.86 L339.1 269.47 L339.8 269.76 L340.5 270.44 L341.2 271.45 L341.9 272.75 L342.6 274.33 L343.3 276.14 L344 278.15 L344.7 280.32 L345.4 282.61 L346.1 284.98 L346.8 287.41 L347.5 289.86 L348.2 292.3 L348.9 294.71 L349.6 297.07 L350.3 299.35 L351 301.52 L351.7 303.6 L352.4 305.58 L353.1 307.45 L353.8 309.21 L354.5 310.85 L355.2 312.38 L355.9 313.79 L356.6 315.08 L357.3 316.26 L358 317.34 L358.7 318.31 L359.4 319.19 L360.1 319.98 L360.8 320.68 L361.5 321.31 L362.2 321.86 L362.9 322.35 L363.6 322.78 L364.3 323.16 L365 323.49 L365.7 323.78 L366.4 324.04 L367.1 324.25 L367.8 324.44 L368.5 324.61 L369.2 324.75 L369.9 324.88 L370.6 324.98 L371.3 325.08 L372 325.16 L372.7 325.23 L373.4 325.3 L374.1 325.35 L374.8 325.4 L375.5 325.45 L376.2 325.49 L376.9 325.53 L377.6 325.57 L378.3 325.61 L379 325.64 L379.7 325.68 L380.4 325.71 L381.1 325.75 L381.8 325.78 L382.5 325.82 L383.2 325.86 L383.9 325.9 L384.6 325.94 L385.3 325.98 L386 326.03 L386.7 326.07 L387.4 326.12 L388.1 326.16 L388.8 326.21 L389.5 326.26 L390.2 326.3 L390.9 326.34 L391.6 326.38 L392.3 326.42 L393 326.45 L393.7 326.47 L394.4 326.49 L395.1 326.5 L395.8 326.5 L396.5 326.49 L397.2 326.46 L397.9 326.42 L398.6 326.36 L399.3 326.29 L400 326.2 L400.7 326.1 L401.4 325.97 L402.1 325.83 L402.8 325.68 L403.5 325.5 L404.2 325.32 L404.9 325.12 L405.6 324.91 L406.3 324.7 L407 324.48 L407.7 324.26 L408.4 324.05 L409.1 323.85 L409.8 323.66 L410.5 323.48 L411.2 323.33 L411.9 323.2 L412.6 323.11 L413.3 323.04 L414 323 L414.7 322.99 L415.4 323.02 L416.1 323.08 L416.8 323.17 L417.5 323.28 L418.2 323.42 L418.9 323.57 L419.6 323.74 L420.3 323.91 L421 324.09 L421.7 324.26 L422.4 324.42 L423.1 324.57 L423.8 324.71 L424.5 324.84 L425.2 324.96 L425.9 325.07 L426.6 325.18 L427.3 325.3 L428 325.42 L428.7 325.56 L429.4 325.71 L430.1 325.89 L430.8 326.09 L431.5 326.31 L432.2 326.55 L432.9 326.8 L433.6 327.06 L434.3 327.32 L435 327.57 L435.7 327.82 L436.4 328.05 L437.1 328.26 L437.8 328.45 L438.5 328.61 L439.2 328.76 L439.9 328.88 L440.6 328.97 L441.3 329.05 L442 329.11 L442.7 329.15 L443.4 329.19 L444.1 329.22 L444.8 329.24 L445.5 329.26 L446.2 329.28 L446.9 329.29 L447.6 329.3 L448.3 329.31 L449 329.31 L449.7 329.32 L450.4 329.33 L451.1 329.33 L451.8 329.34 L452.5 329.35 L453.2 329.35 L453.9 329.36 L454.6 329.36 L455.3 329.37 L456 329.38 L456.7 329.38 L457.4 329.39 L458.1 329.39 L458.8 329.4 L459.5 329.4 L460.2 329.41 L460.9 329.41 L461.6 329.42 L462.3 329.42 L463 329.43 L463.7 329.43 L464.4 329.44 L465.1 329.44 L465.8 329.45 L466.5 329.45 L467.2 329.46 L467.9 329.46 L468.6 329.47 L469.3 329.47 L470 329.48 L470.7 329.48 L471.4 329.49 L472.1 329.49 L472.8 329.5 L473.5 329.5 L474.2 329.51 L474.9 329.51 L475.6 329.52 L476.3 329.52 L477 329.53 L477.7 329.53 L478.4 329.54 L479.1 329.54 L479.8 329.54 L480.5 329.55 L481.2 329.55 L481.9 329.56 L482.6 329.56 L483.3 329.57 L484 329.57" fill="none" stroke="#1e8a88" stroke-width="1.5" stroke-linejoin="round"/>
<path d="M340.6 29 L340.6 290" fill="none" stroke="#222" stroke-width="1.15" stroke-dasharray="4 3.6"/>
<path d="M415 63.5 L415 119.5" fill="none" stroke="#3e4282" stroke-width="1.15" stroke-dasharray="4 4"/>
<path d="M415 119.5 L418.3 121 L418.3 218.5 L415.9 220 L415.9 325.5" fill="none" stroke="#222" stroke-width="1.15" stroke-dasharray="4 4"/>
<path d="M432.9 78.5 L432.9 134.6" fill="none" stroke="#3e4282" stroke-width="1.15" stroke-dasharray="4 4"/>
<path d="M432.9 134.6 L430.6 136 L430.6 200 L433.4 201.5 L433.4 284.1 L428.3 285.5 L428.3 329" fill="none" stroke="#222" stroke-width="1.15" stroke-dasharray="4 4"/>
<line x1="298" y1="71.5" x2="301.93" y2="75.71" stroke="#111" stroke-width="1.0"/>
<path d="M305 79 L300.47 77.07 L303.39 74.35 Z" fill="#111"/>
<line x1="314.3" y1="53" x2="324.63" y2="69.67" stroke="#111" stroke-width="1.0"/>
<path d="M327 73.5 L322.93 70.73 L326.33 68.62 Z" fill="#111"/>
<line x1="355.8" y1="54.6" x2="345.81" y2="82.76" stroke="#111" stroke-width="1.0"/>
<path d="M344.3 87 L343.92 82.09 L347.69 83.43 Z" fill="#111"/>
<rect x="273.6" y="6.9" width="210.8" height="341.1" fill="none" stroke="#333" stroke-width="1.3"/>
<line x1="273.6" y1="348" x2="273.6" y2="351" stroke="#333" stroke-width="1"/>
<text x="273.6" y="362.2" font-size="11.6" text-anchor="middle" font-weight="normal" fill="#222" >288</text>
<line x1="294.68" y1="348" x2="294.68" y2="349.5" stroke="#333" stroke-width="1"/>
<line x1="315.76" y1="348" x2="315.76" y2="351" stroke="#333" stroke-width="1"/>
<text x="315.76" y="362.2" font-size="11.6" text-anchor="middle" font-weight="normal" fill="#222" >286</text>
<line x1="336.84" y1="348" x2="336.84" y2="349.5" stroke="#333" stroke-width="1"/>
<line x1="357.92" y1="348" x2="357.92" y2="351" stroke="#333" stroke-width="1"/>
<text x="357.92" y="362.2" font-size="11.6" text-anchor="middle" font-weight="normal" fill="#222" >284</text>
<line x1="379" y1="348" x2="379" y2="349.5" stroke="#333" stroke-width="1"/>
<line x1="400.08" y1="348" x2="400.08" y2="351" stroke="#333" stroke-width="1"/>
<text x="400.08" y="362.2" font-size="11.6" text-anchor="middle" font-weight="normal" fill="#222" >282</text>
<line x1="421.16" y1="348" x2="421.16" y2="349.5" stroke="#333" stroke-width="1"/>
<line x1="442.24" y1="348" x2="442.24" y2="351" stroke="#333" stroke-width="1"/>
<text x="442.24" y="362.2" font-size="11.6" text-anchor="middle" font-weight="normal" fill="#222" >280</text>
<line x1="463.32" y1="348" x2="463.32" y2="349.5" stroke="#333" stroke-width="1"/>
<line x1="484.4" y1="348" x2="484.4" y2="351" stroke="#333" stroke-width="1"/>
<text x="484.4" y="362.2" font-size="11.6" text-anchor="middle" font-weight="normal" fill="#222" >278</text>
<text x="378.9" y="380.5" font-size="13.4" text-anchor="middle" font-weight="normal" fill="#222" textLength="109.4" lengthAdjust="spacingAndGlyphs" >Binding energy (eV)</text>
<text transform="translate(265.0 177.4) rotate(-90)" font-size="13.4" text-anchor="middle" fill="#222" textLength="82" lengthAdjust="spacingAndGlyphs">Intensity (a. u.)</text>
<path d="M253.6 5.8 C249.2 5.8 245.9 9.6 245.9 14.8 C245.9 20.2 249.3 23.4 253.6 23.4 C256.4 23.4 258.6 21.6 259.9 19.1 L259.1 18.6 C258 19.9 256.7 20.5 255.2 20.5 C252.3 20.5 250.6 17.9 250.6 14.2 C250.6 10.2 252.1 7.5 254.3 7.5 C255.5 7.5 256.6 7.9 257.6 8.4 L258.3 7.6 C257 6.4 255.5 5.8 253.6 5.8 Z" fill="#111"/><circle cx="256.6" cy="10.1" r="2.55" fill="#111"/>
<text x="401.2" y="27.1" font-size="11.9" text-anchor="start" font-weight="bold" fill="#111" textLength="66" lengthAdjust="spacingAndGlyphs" >C 1s + Ru 3d</text>
<text x="324.3" y="26" font-size="7.3" text-anchor="start" font-weight="bold" fill="#1a1a1a" textLength="31.5" lengthAdjust="spacingAndGlyphs" >C-C 284.8</text>
<text x="293.2" y="49.5" font-size="7.5" text-anchor="start" font-weight="bold" fill="#1a1a1a" textLength="30" lengthAdjust="spacingAndGlyphs" >Ru<tspan font-size="5.3" dy="-3">4+</tspan><tspan dy="3"> 3d</tspan><tspan font-size="5.3" dy="2">3/2</tspan></text>
<text x="349.8" y="49.5" font-size="7.5" text-anchor="start" font-weight="bold" fill="#1a1a1a" textLength="27" lengthAdjust="spacingAndGlyphs" >Ru<tspan font-size="5.3" dy="-3">0</tspan><tspan dy="3"> 3d</tspan><tspan font-size="5.3" dy="2">3/2</tspan></text>
<text x="285.3" y="70.3" font-size="7.3" text-anchor="start" font-weight="bold" fill="#1a1a1a" textLength="12.2" lengthAdjust="spacingAndGlyphs" >C-O</text>
<text x="378.2" y="81.9" font-size="7.3" text-anchor="start" font-weight="bold" fill="#1a1a1a" textLength="12.2" lengthAdjust="spacingAndGlyphs" >Sat.</text>
<text x="397.6" y="59.8" font-size="7.3" text-anchor="start" font-weight="bold" fill="#1a1a1a" >Ru<tspan font-size="5.3" dy="-3">4+</tspan><tspan dy="3"> 3d</tspan><tspan font-size="5.3" dy="2">5/2</tspan></text>
<text x="397.6" y="68.8" font-size="7.3" text-anchor="start" font-weight="bold" fill="#1a1a1a" textLength="15.8" lengthAdjust="spacingAndGlyphs" >281.3</text>
<text x="435.5" y="81.1" font-size="7.3" text-anchor="start" font-weight="bold" fill="#1a1a1a" >Ru<tspan font-size="5.3" dy="-3">0</tspan><tspan dy="3"> 3d</tspan><tspan font-size="5.3" dy="2">5/2</tspan></text>
<text x="435.5" y="87.6" font-size="7.3" text-anchor="start" font-weight="bold" fill="#1a1a1a" textLength="16.2" lengthAdjust="spacingAndGlyphs" >280.4</text>
<text x="278.2" y="111.6" font-size="9.9" text-anchor="start" font-weight="bold" fill="#1a1a1a" textLength="42.3" lengthAdjust="spacingAndGlyphs" >Ni2Ru1/C</text>
<text x="399.3" y="153.6" font-size="7.3" text-anchor="start" font-weight="bold" fill="#1a1a1a" textLength="16.5" lengthAdjust="spacingAndGlyphs" >281.2</text>
<text x="432" y="153.6" font-size="7.3" text-anchor="start" font-weight="bold" fill="#1a1a1a" textLength="16.5" lengthAdjust="spacingAndGlyphs" >280.5</text>
<text x="278.2" y="184.4" font-size="9.9" text-anchor="start" font-weight="bold" fill="#1a1a1a" textLength="42.7" lengthAdjust="spacingAndGlyphs" >Ni1Ru1/C</text>
<text x="436.1" y="235" font-size="7.3" text-anchor="start" font-weight="bold" fill="#1a1a1a" textLength="16.3" lengthAdjust="spacingAndGlyphs" >280.4</text>
<text x="278.3" y="266.4" font-size="9.9" text-anchor="start" font-weight="bold" fill="#1a1a1a" textLength="42.4" lengthAdjust="spacingAndGlyphs" >Ni1Ru2/C</text>
<text x="396.7" y="322.1" font-size="7.3" text-anchor="start" font-weight="bold" fill="#1a1a1a" textLength="16.5" lengthAdjust="spacingAndGlyphs" >281.3</text>
<text x="429.9" y="322.1" font-size="7.3" text-anchor="start" font-weight="bold" fill="#1a1a1a" textLength="16.9" lengthAdjust="spacingAndGlyphs" >280.6</text>
<text x="277.9" y="344.2" font-size="9.9" text-anchor="start" font-weight="bold" fill="#1a1a1a" textLength="42.4" lengthAdjust="spacingAndGlyphs" >Ni0Ru1/C</text>
<defs><linearGradient id="gS1" x1="0" y1="0" x2="0" y2="1"><stop offset="0" stop-color="#eeb92c"/><stop offset="1" stop-color="#f5d070"/></linearGradient><linearGradient id="gS2" x1="0" y1="0" x2="0" y2="1"><stop offset="0" stop-color="#f6d26a"/><stop offset="1" stop-color="#fae4a8"/></linearGradient><linearGradient id="gN2" x1="0" y1="0" x2="0" y2="1"><stop offset="0" stop-color="#8c8ac4"/><stop offset="1" stop-color="#aeacd8"/></linearGradient><linearGradient id="gN0" x1="0" y1="0" x2="0" y2="1"><stop offset="0" stop-color="#e3303f"/><stop offset="1" stop-color="#f08890"/></linearGradient></defs>
<path d="M547.3 101.42 L548.1 101.46 L548.9 101.48 L549.7 101.48 L550.5 101.46 L551.3 101.41 L552.1 101.34 L552.9 101.23 L553.7 101.08 L554.5 100.9 L555.3 100.66 L556.1 100.38 L556.9 100.05 L557.7 99.66 L558.5 99.22 L559.3 98.72 L560.1 98.16 L560.9 97.56 L561.7 96.91 L562.5 96.22 L563.3 95.5 L564.1 94.75 L564.9 94 L565.7 93.25 L566.5 92.52 L567.3 91.82 L568.1 91.17 L568.9 90.58 L569.7 90.07 L570.5 89.65 L571.3 89.33 L572.1 89.13 L572.9 89.04 L573.7 89.08 L574.5 89.24 L575.3 89.55 L576.1 89.99 L576.9 90.55 L577.7 91.22 L578.5 91.99 L579.3 92.85 L580.1 93.76 L580.9 94.72 L581.7 95.71 L582.5 96.71 L583.3 97.7 L584.1 98.68 L584.9 99.62 L585.7 100.52 L586.5 101.36 L587.3 102.15 L588.1 102.88 L588.9 103.55 L589.7 104.15 L590.5 104.7 L591.3 105.18 L592.1 105.62 L592.9 106 L593.7 106.34 L594.5 106.64 L595.3 106.9 L596.1 107.13 L596.9 107.34 L597.7 107.53 L598.5 107.7 L598.5 107.92 L547.3 101.64 Z" fill="url(#gS1)" fill-opacity="0.92"/>
<path d="M564.9 103.58 L565.7 103.61 L566.5 103.63 L567.3 103.62 L568.1 103.6 L568.9 103.54 L569.7 103.46 L570.5 103.34 L571.3 103.19 L572.1 102.99 L572.9 102.75 L573.7 102.46 L574.5 102.13 L575.3 101.74 L576.1 101.31 L576.9 100.84 L577.7 100.33 L578.5 99.78 L579.3 99.2 L580.1 98.61 L580.9 98.01 L581.7 97.42 L582.5 96.85 L583.3 96.31 L584.1 95.82 L584.9 95.39 L585.7 95.03 L586.5 94.76 L587.3 94.59 L588.1 94.51 L588.9 94.54 L589.7 94.68 L590.5 94.93 L591.3 95.27 L592.1 95.72 L592.9 96.25 L593.7 96.86 L594.5 97.53 L595.3 98.26 L596.1 99.02 L596.9 99.8 L597.7 100.6 L598.5 101.39 L599.3 102.16 L600.1 102.91 L600.9 103.63 L601.7 104.32 L602.5 104.95 L603.3 105.54 L604.1 106.09 L604.9 106.58 L605.7 107.03 L606.5 107.44 L607.3 107.8 L608.1 108.12 L608.9 108.41 L609.7 108.66 L610.5 108.89 L611.3 109.1 L612.1 109.28 L612.9 109.45 L612.9 109.69 L564.9 103.8 Z" fill="url(#gS2)" fill-opacity="0.92"/>
<path d="M596.9 107.51 L597.7 107.53 L598.5 107.53 L599.3 107.51 L600.1 107.45 L600.9 107.35 L601.7 107.2 L602.5 107 L603.3 106.73 L604.1 106.4 L604.9 105.98 L605.7 105.48 L606.5 104.89 L607.3 104.2 L608.1 103.42 L608.9 102.54 L609.7 101.57 L610.5 100.52 L611.3 99.4 L612.1 98.22 L612.9 97.02 L613.7 95.8 L614.5 94.6 L615.3 93.45 L616.1 92.37 L616.9 91.4 L617.7 90.56 L618.5 89.87 L619.3 89.37 L620.1 89.07 L620.9 88.98 L621.7 89.11 L622.5 89.45 L623.3 90 L624.1 90.74 L624.9 91.66 L625.7 92.73 L626.5 93.93 L627.3 95.23 L628.1 96.59 L628.9 97.99 L629.7 99.41 L630.5 100.8 L631.3 102.16 L632.1 103.46 L632.9 104.69 L633.7 105.84 L634.5 106.89 L635.3 107.84 L636.1 108.7 L636.9 109.47 L637.7 110.14 L638.5 110.73 L639.3 111.25 L640.1 111.69 L640.9 112.08 L641.7 112.41 L642.5 112.69 L643.3 112.94 L644.1 113.15 L644.9 113.34 L644.9 113.61 L596.9 107.72 Z" fill="url(#gN2)" fill-opacity="0.92"/>
<path d="M616.9 109.96 L617.7 109.97 L618.5 109.95 L619.3 109.89 L620.1 109.78 L620.9 109.62 L621.7 109.39 L622.5 109.09 L623.3 108.71 L624.1 108.24 L624.9 107.68 L625.7 107.02 L626.5 106.29 L627.3 105.48 L628.1 104.61 L628.9 103.71 L629.7 102.81 L630.5 101.92 L631.3 101.1 L632.1 100.36 L632.9 99.76 L633.7 99.3 L634.5 99.03 L635.3 98.95 L636.1 99.07 L636.9 99.4 L637.7 99.92 L638.5 100.61 L639.3 101.44 L640.1 102.4 L640.9 103.44 L641.7 104.53 L642.5 105.63 L643.3 106.72 L644.1 107.77 L644.9 108.76 L645.7 109.67 L646.5 110.5 L647.3 111.24 L648.1 111.88 L648.9 112.44 L649.7 112.92 L650.5 113.32 L651.3 113.67 L652.1 113.96 L652.9 114.2 L653.7 114.41 L653.7 114.69 L616.9 110.18 Z" fill="url(#gN0)" fill-opacity="0.92"/>
<path d="M655.3 114.66 L656.1 114.69 L656.9 114.72 L657.7 114.72 L658.5 114.71 L659.3 114.67 L660.1 114.61 L660.9 114.53 L661.7 114.41 L662.5 114.26 L663.3 114.07 L664.1 113.84 L664.9 113.57 L665.7 113.25 L666.5 112.9 L667.3 112.5 L668.1 112.05 L668.9 111.57 L669.7 111.05 L670.5 110.49 L671.3 109.91 L672.1 109.32 L672.9 108.71 L673.7 108.1 L674.5 107.49 L675.3 106.91 L676.1 106.36 L676.9 105.86 L677.7 105.4 L678.5 105.01 L679.3 104.7 L680.1 104.47 L680.9 104.33 L681.7 104.28 L682.5 104.33 L683.3 104.47 L684.1 104.72 L684.9 105.06 L685.7 105.49 L686.5 106 L687.3 106.58 L688.1 107.23 L688.9 107.93 L689.7 108.68 L690.5 109.46 L691.3 110.25 L692.1 111.06 L692.9 111.87 L693.7 112.66 L694.5 113.44 L695.3 114.19 L696.1 114.91 L696.9 115.59 L697.7 116.23 L698.5 116.82 L699.3 117.38 L700.1 117.89 L700.9 118.35 L701.7 118.78 L702.5 119.16 L703.3 119.51 L704.1 119.83 L704.9 120.11 L705.7 120.37 L706.5 120.6 L707.3 120.81 L708.1 121 L708.9 121.17 L709.7 121.33 L709.7 121.56 L655.3 114.89 Z" fill="url(#gS1)" fill-opacity="0.92"/>
<path d="M673.7 116.94 L674.5 116.97 L675.3 116.99 L676.1 117 L676.9 116.98 L677.7 116.93 L678.5 116.86 L679.3 116.75 L680.1 116.59 L680.9 116.39 L681.7 116.13 L682.5 115.81 L683.3 115.43 L684.1 114.97 L684.9 114.42 L685.7 113.79 L686.5 113.06 L687.3 112.24 L688.1 111.31 L688.9 110.28 L689.7 109.15 L690.5 107.92 L691.3 106.58 L692.1 105.16 L692.9 103.66 L693.7 102.09 L694.5 100.48 L695.3 98.82 L696.1 97.15 L696.9 95.5 L697.7 93.87 L698.5 92.3 L699.3 90.82 L700.1 89.44 L700.9 88.2 L701.7 87.12 L702.5 86.21 L703.3 85.5 L704.1 85 L704.9 84.72 L705.7 84.67 L706.5 84.83 L707.3 85.13 L708.1 85.58 L708.9 86.17 L709.7 86.89 L710.5 87.75 L711.3 88.72 L712.1 89.8 L712.9 90.98 L713.7 92.24 L714.5 93.58 L715.3 94.98 L716.1 96.43 L716.9 97.91 L717.7 99.41 L718.5 100.92 L719.3 102.43 L720.1 103.92 L720.9 105.39 L721.7 106.83 L722.5 108.22 L723.3 109.57 L724.1 110.87 L724.9 112.1 L725.7 113.28 L726.5 114.39 L727.3 115.43 L728.1 116.41 L728.9 117.32 L729.7 118.17 L730.5 118.95 L731.3 119.67 L732.1 120.33 L732.9 120.94 L733.7 121.49 L734.5 122 L735.3 122.46 L736.1 122.87 L736.9 123.25 L737.7 123.6 L738.5 123.91 L739.3 124.19 L740.1 124.45 L740.9 124.69 L741.7 124.9 L742.5 125.1 L743.3 125.28 L744.1 125.45 L744.9 125.61 L745.7 125.76 L745.7 125.98 L673.7 117.15 Z" fill="url(#gS1)" fill-opacity="0.92"/>
<path d="M714.5 121.94 L715.3 121.96 L716.1 121.95 L716.9 121.91 L717.7 121.82 L718.5 121.67 L719.3 121.46 L720.1 121.16 L720.9 120.77 L721.7 120.26 L722.5 119.62 L723.3 118.81 L724.1 117.84 L724.9 116.67 L725.7 115.29 L726.5 113.7 L727.3 111.86 L728.1 109.8 L728.9 107.51 L729.7 105 L730.5 102.29 L731.3 99.42 L732.1 96.43 L732.9 93.36 L733.7 90.28 L734.5 87.25 L735.3 84.34 L736.1 81.62 L736.9 79.16 L737.7 77.03 L738.5 75.3 L739.3 74.01 L740.1 73.2 L740.9 72.91 L741.7 73.17 L742.5 74.07 L743.3 75.58 L744.1 77.65 L744.9 80.21 L745.7 83.17 L746.5 86.45 L747.3 89.94 L748.1 93.55 L748.9 97.18 L749.7 100.75 L750.5 104.18 L751.3 107.42 L752.1 110.42 L752.9 113.16 L753.7 115.61 L754.5 117.77 L755.3 119.65 L756.1 121.26 L756.9 122.63 L757.7 123.77 L758.5 124.72 L759.3 125.5 L760.1 126.13 L760.9 126.65 L761.7 127.07 L762.5 127.41 L763.3 127.69 L764.1 127.92 L764.9 128.11 L764.9 128.34 L714.5 122.15 Z" fill="url(#gN2)" fill-opacity="0.92"/>
<path d="M738.5 124.83 L739.3 124.75 L740.1 124.57 L740.9 124.25 L741.7 123.72 L742.5 122.93 L743.3 121.81 L744.1 120.28 L744.9 118.28 L745.7 115.77 L746.5 112.74 L747.3 109.23 L748.1 105.33 L748.9 101.19 L749.7 97.03 L750.5 93.09 L751.3 89.65 L752.1 86.94 L752.9 85.2 L753.7 84.57 L754.5 84.89 L755.3 85.81 L756.1 87.28 L756.9 89.26 L757.7 91.66 L758.5 94.4 L759.3 97.38 L760.1 100.5 L760.9 103.66 L761.7 106.79 L762.5 109.79 L763.3 112.62 L764.1 115.23 L764.9 117.59 L765.7 119.68 L766.5 121.5 L767.3 123.06 L768.1 124.38 L768.9 125.48 L769.7 126.39 L770.5 127.13 L771.3 127.72 L772.1 128.2 L772.9 128.59 L773.7 128.9 L774.5 129.16 L775.3 129.37 L775.3 129.61 L738.5 125.1 Z" fill="url(#gN0)" fill-opacity="0.92"/>
<path d="M547.3 101.64 L784.1 130.69" fill="none" stroke="#6b9a8e" stroke-width="2.4"/>
<path d="M547.3 101.42 L548.1 101.46 L548.9 101.48 L549.7 101.48 L550.5 101.46 L551.3 101.41 L552.1 101.34 L552.9 101.23 L553.7 101.08 L554.5 100.89 L555.3 100.66 L556.1 100.37 L556.9 100.04 L557.7 99.65 L558.5 99.2 L559.3 98.69 L560.1 98.13 L560.9 97.51 L561.7 96.84 L562.5 96.12 L563.3 95.37 L564.1 94.59 L564.9 93.78 L565.7 92.97 L566.5 92.15 L567.3 91.35 L568.1 90.58 L568.9 89.84 L569.7 89.14 L570.5 88.51 L571.3 87.94 L572.1 87.44 L572.9 87.01 L573.7 86.66 L574.5 86.39 L575.3 86.22 L576.1 86.12 L576.9 86.11 L577.7 86.17 L578.5 86.28 L579.3 86.45 L580.1 86.67 L580.9 86.92 L581.7 87.2 L582.5 87.51 L583.3 87.84 L584.1 88.19 L584.9 88.55 L585.7 88.94 L586.5 89.36 L587.3 89.79 L588.1 90.26 L588.9 90.75 L589.7 91.28 L590.5 91.83 L591.3 92.41 L592.1 93.01 L592.9 93.64 L593.7 94.28 L594.5 94.93 L595.3 95.58 L596.1 96.22 L596.9 96.84 L597.7 97.44 L598.5 98.01 L599.3 98.54 L600.1 99.01 L600.9 99.43 L601.7 99.78 L602.5 100.05 L603.3 100.25 L604.1 100.35 L604.9 100.36 L605.7 100.28 L606.5 100.08 L607.3 99.78 L608.1 99.37 L608.9 98.85 L609.7 98.22 L610.5 97.5 L611.3 96.69 L612.1 95.8 L612.9 94.87 L613.7 93.9 L614.5 92.92 L615.3 91.95 L616.1 91.03 L616.9 90.17 L617.7 89.4 L618.5 88.74 L619.3 88.21 L620.1 87.81 L620.9 87.55 L621.7 87.43 L622.5 87.43 L623.3 87.55 L624.1 87.77 L624.9 88.06 L625.7 88.41 L626.5 88.8 L627.3 89.2 L628.1 89.62 L628.9 90.03 L629.7 90.45 L630.5 90.87 L631.3 91.31 L632.1 91.78 L632.9 92.3 L633.7 92.9 L634.5 93.58 L635.3 94.36 L636.1 95.24 L636.9 96.23 L637.7 97.33 L638.5 98.51 L639.3 99.77 L640.1 101.07 L640.9 102.39 L641.7 103.71 L642.5 105 L643.3 106.24 L644.1 107.41 L644.9 108.49 L645.7 109.47 L646.5 110.34 L647.3 111.11 L648.1 111.78 L648.9 112.36 L649.7 112.84 L650.5 113.25 L651.3 113.59 L652.1 113.86 L652.9 114.09 L653.7 114.27 L654.5 114.41 L655.3 114.52 L656.1 114.6 L656.9 114.65 L657.7 114.68 L658.5 114.68 L659.3 114.66 L660.1 114.6 L660.9 114.52 L661.7 114.4 L662.5 114.25 L663.3 114.06 L664.1 113.83 L664.9 113.56 L665.7 113.24 L666.5 112.88 L667.3 112.47 L668.1 112.02 L668.9 111.53 L669.7 110.99 L670.5 110.42 L671.3 109.82 L672.1 109.19 L672.9 108.54 L673.7 107.88 L674.5 107.22 L675.3 106.56 L676.1 105.92 L676.9 105.3 L677.7 104.7 L678.5 104.14 L679.3 103.61 L680.1 103.13 L680.9 102.69 L681.7 102.28 L682.5 101.91 L683.3 101.58 L684.1 101.26 L684.9 100.96 L685.7 100.66 L686.5 100.34 L687.3 100.01 L688.1 99.63 L688.9 99.21 L689.7 98.72 L690.5 98.16 L691.3 97.53 L692.1 96.82 L692.9 96.03 L693.7 95.16 L694.5 94.22 L695.3 93.21 L696.1 92.17 L696.9 91.09 L697.7 90.01 L698.5 88.94 L699.3 87.91 L700.1 86.94 L700.9 86.07 L701.7 85.31 L702.5 84.69 L703.3 84.23 L704.1 83.95 L704.9 83.86 L705.7 83.97 L706.5 84.25 L707.3 84.66 L708.1 85.2 L708.9 85.86 L709.7 86.64 L710.5 87.53 L711.3 88.53 L712.1 89.62 L712.9 90.79 L713.7 92.03 L714.5 93.33 L715.3 94.66 L716.1 96 L716.9 97.35 L717.7 98.67 L718.5 99.94 L719.3 101.14 L720.1 102.24 L720.9 103.22 L721.7 104.05 L722.5 104.7 L723.3 105.15 L724.1 105.37 L724.9 105.34 L725.7 105.04 L726.5 104.46 L727.3 103.57 L728.1 102.39 L728.9 100.91 L729.7 99.15 L730.5 97.12 L731.3 94.88 L732.1 92.45 L732.9 89.89 L733.7 87.26 L734.5 84.63 L735.3 82.07 L736.1 79.64 L736.9 77.43 L737.7 75.48 L738.5 73.85 L739.3 72.56 L740.1 71.64 L740.9 71.06 L741.7 70.81 L742.5 70.93 L743.3 71.3 L744.1 71.81 L744.9 72.33 L745.7 72.74 L746.5 72.93 L747.3 72.84 L748.1 72.48 L748.9 71.9 L749.7 71.23 L750.5 70.64 L751.3 70.35 L752.1 70.56 L752.9 71.47 L753.7 73.19 L754.5 75.58 L755.3 78.29 L756.1 81.28 L756.9 84.52 L757.7 87.97 L758.5 91.56 L759.3 95.22 L760.1 98.88 L760.9 102.46 L761.7 105.91 L762.5 109.16 L763.3 112.17 L764.1 114.91 L764.9 117.36 L765.7 119.52 L766.5 121.39 L767.3 122.99 L768.1 124.34 L768.9 125.45 L769.7 126.37 L770.5 127.11 L771.3 127.71 L772.1 128.2 L772.9 128.59 L773.7 128.9 L774.5 129.15 L775.3 129.37 L776.1 129.54 L776.9 129.7 L777.7 129.83 L778.5 129.96 L779.3 130.07 L780.1 130.18 L780.9 130.29 L781.7 130.39 L782.5 130.49 L783.3 130.59 L784.1 130.69" fill="none" stroke="#6b9a8e" stroke-width="1.8" stroke-linejoin="round"/>
<g fill="none" stroke="#4cbdb4" stroke-width="0.95"><circle cx="546.76" cy="100.93" r="2.1"/><circle cx="549.92" cy="100.35" r="2.1"/><circle cx="551.65" cy="101.16" r="2.1"/><circle cx="554.99" cy="99.86" r="2.1"/><circle cx="556.91" cy="98.16" r="2.1"/><circle cx="558.51" cy="97.22" r="2.1"/><circle cx="561.84" cy="94.45" r="2.1"/><circle cx="564.57" cy="92.7" r="2.1"/><circle cx="566.07" cy="89.68" r="2.1"/><circle cx="569.7" cy="89.5" r="2.1"/><circle cx="571.9" cy="87.22" r="2.1"/><circle cx="572.95" cy="85.07" r="2.1"/><circle cx="576.1" cy="83.88" r="2.1"/><circle cx="579.22" cy="84.81" r="2.1"/><circle cx="580.35" cy="86.82" r="2.1"/><circle cx="582.7" cy="88.08" r="2.1"/><circle cx="585.63" cy="88.03" r="2.1"/><circle cx="587.85" cy="89.14" r="2.1"/><circle cx="590" cy="89.34" r="2.1"/><circle cx="593.49" cy="91.76" r="2.1"/><circle cx="595.75" cy="93.62" r="2.1"/><circle cx="598.45" cy="97.58" r="2.1"/><circle cx="600.51" cy="98.74" r="2.1"/><circle cx="602.63" cy="99.68" r="2.1"/><circle cx="604.3" cy="99.22" r="2.1"/><circle cx="607.82" cy="97.79" r="2.1"/><circle cx="610.38" cy="98.34" r="2.1"/><circle cx="611.96" cy="94.32" r="2.1"/><circle cx="614.42" cy="91.5" r="2.1"/><circle cx="617.69" cy="88.75" r="2.1"/><circle cx="618.54" cy="85.89" r="2.1"/><circle cx="622.05" cy="87.86" r="2.1"/><circle cx="624.09" cy="86.67" r="2.1"/><circle cx="626.58" cy="88.49" r="2.1"/><circle cx="628.46" cy="89.29" r="2.1"/><circle cx="631.39" cy="90.61" r="2.1"/><circle cx="633.19" cy="90.82" r="2.1"/><circle cx="635.86" cy="95.48" r="2.1"/><circle cx="638.25" cy="97.74" r="2.1"/><circle cx="640.59" cy="100.11" r="2.1"/><circle cx="642.61" cy="106.13" r="2.1"/><circle cx="646.14" cy="108.01" r="2.1"/><circle cx="648.39" cy="111.25" r="2.1"/><circle cx="651.14" cy="113.58" r="2.1"/><circle cx="652.75" cy="114.51" r="2.1"/><circle cx="656.04" cy="113.73" r="2.1"/><circle cx="658.31" cy="113.58" r="2.1"/><circle cx="659.9" cy="112.76" r="2.1"/><circle cx="663.1" cy="112.15" r="2.1"/><circle cx="664.21" cy="113.42" r="2.1"/><circle cx="667.74" cy="111.35" r="2.1"/><circle cx="670.24" cy="108.55" r="2.1"/><circle cx="671.71" cy="107.48" r="2.1"/><circle cx="674.37" cy="105.14" r="2.1"/><circle cx="676.21" cy="103.73" r="2.1"/><circle cx="679.94" cy="104.02" r="2.1"/><circle cx="682.09" cy="101.15" r="2.1"/><circle cx="683.7" cy="101.6" r="2.1"/><circle cx="686.54" cy="99.97" r="2.1"/><circle cx="688.15" cy="97.25" r="2.1"/><circle cx="691.84" cy="97.37" r="2.1"/><circle cx="694.31" cy="94.4" r="2.1"/><circle cx="695.98" cy="91.34" r="2.1"/><circle cx="699.06" cy="87.28" r="2.1"/><circle cx="700.95" cy="84.32" r="2.1"/><circle cx="703.73" cy="81.66" r="2.1"/><circle cx="706" cy="84.29" r="2.1"/><circle cx="707.34" cy="84.42" r="2.1"/><circle cx="710.73" cy="87.54" r="2.1"/><circle cx="713.03" cy="88.98" r="2.1"/><circle cx="715.15" cy="94.99" r="2.1"/><circle cx="718.35" cy="96.47" r="2.1"/><circle cx="719.45" cy="99.93" r="2.1"/><circle cx="721.74" cy="103.47" r="2.1"/><circle cx="724.33" cy="105.4" r="2.1"/><circle cx="727.55" cy="101.36" r="2.1"/><circle cx="729.76" cy="97.54" r="2.1"/><circle cx="732.09" cy="90.52" r="2.1"/><circle cx="733.97" cy="82.59" r="2.1"/><circle cx="736.7" cy="77" r="2.1"/><circle cx="739.38" cy="70.1" r="2.1"/><circle cx="742.04" cy="70.89" r="2.1"/><circle cx="744.54" cy="71.63" r="2.1"/><circle cx="745.71" cy="71.75" r="2.1"/><circle cx="748.2" cy="71.64" r="2.1"/><circle cx="750.78" cy="69.93" r="2.1"/><circle cx="753.3" cy="72.73" r="2.1"/><circle cx="755.8" cy="78.81" r="2.1"/><circle cx="758.32" cy="89.91" r="2.1"/><circle cx="761.54" cy="100.77" r="2.1"/><circle cx="763.3" cy="111.25" r="2.1"/><circle cx="766.42" cy="117.23" r="2.1"/><circle cx="768.26" cy="123.29" r="2.1"/><circle cx="770.88" cy="127.47" r="2.1"/><circle cx="772.6" cy="128.13" r="2.1"/><circle cx="775.34" cy="128.48" r="2.1"/><circle cx="777" cy="129.73" r="2.1"/><circle cx="780.86" cy="128.67" r="2.1"/><circle cx="782.21" cy="130.93" r="2.1"/></g>
<path d="M547.3 168.28 L548.1 168.23 L548.9 168.17 L549.7 168.08 L550.5 167.96 L551.3 167.81 L552.1 167.63 L552.9 167.42 L553.7 167.18 L554.5 166.89 L555.3 166.58 L556.1 166.22 L556.9 165.84 L557.7 165.43 L558.5 164.98 L559.3 164.52 L560.1 164.04 L560.9 163.55 L561.7 163.06 L562.5 162.58 L563.3 162.11 L564.1 161.66 L564.9 161.25 L565.7 160.88 L566.5 160.57 L567.3 160.31 L568.1 160.11 L568.9 159.99 L569.7 159.94 L570.5 159.97 L571.3 160.08 L572.1 160.27 L572.9 160.54 L573.7 160.88 L574.5 161.28 L575.3 161.75 L576.1 162.27 L576.9 162.83 L577.7 163.43 L578.5 164.06 L579.3 164.7 L580.1 165.35 L580.9 166 L581.7 166.65 L582.5 167.27 L583.3 167.88 L584.1 168.47 L584.9 169.02 L585.7 169.54 L586.5 170.03 L587.3 170.48 L588.1 170.9 L588.9 171.28 L589.7 171.63 L590.5 171.94 L591.3 172.23 L592.1 172.49 L592.9 172.72 L593.7 172.93 L594.5 173.12 L595.3 173.3 L596.1 173.45 L596.9 173.6 L596.9 173.84 L547.3 168.83 Z" fill="url(#gS1)" fill-opacity="0.92"/>
<path d="M562.5 170.13 L563.3 170.15 L564.1 170.15 L564.9 170.14 L565.7 170.1 L566.5 170.05 L567.3 169.96 L568.1 169.85 L568.9 169.71 L569.7 169.54 L570.5 169.33 L571.3 169.08 L572.1 168.79 L572.9 168.47 L573.7 168.1 L574.5 167.7 L575.3 167.27 L576.1 166.81 L576.9 166.32 L577.7 165.82 L578.5 165.31 L579.3 164.8 L580.1 164.3 L580.9 163.82 L581.7 163.37 L582.5 162.96 L583.3 162.6 L584.1 162.3 L584.9 162.08 L585.7 161.93 L586.5 161.86 L587.3 161.87 L588.1 161.98 L588.9 162.16 L589.7 162.44 L590.5 162.79 L591.3 163.21 L592.1 163.7 L592.9 164.25 L593.7 164.84 L594.5 165.47 L595.3 166.12 L596.1 166.79 L596.9 167.46 L597.7 168.13 L598.5 168.79 L599.3 169.43 L600.1 170.03 L600.9 170.61 L601.7 171.16 L602.5 171.66 L603.3 172.13 L604.1 172.56 L604.9 172.95 L605.7 173.31 L606.5 173.62 L607.3 173.91 L608.1 174.17 L608.9 174.4 L609.7 174.61 L610.5 174.79 L611.3 174.96 L612.1 175.11 L612.9 175.25 L612.9 175.46 L562.5 170.37 Z" fill="url(#gS2)" fill-opacity="0.92"/>
<path d="M592.1 173.11 L592.9 173.12 L593.7 173.11 L594.5 173.09 L595.3 173.03 L596.1 172.95 L596.9 172.84 L597.7 172.69 L598.5 172.5 L599.3 172.26 L600.1 171.98 L600.9 171.64 L601.7 171.24 L602.5 170.79 L603.3 170.27 L604.1 169.7 L604.9 169.07 L605.7 168.39 L606.5 167.65 L607.3 166.88 L608.1 166.08 L608.9 165.26 L609.7 164.43 L610.5 163.6 L611.3 162.81 L612.1 162.04 L612.9 161.34 L613.7 160.71 L614.5 160.16 L615.3 159.71 L616.1 159.38 L616.9 159.16 L617.7 159.08 L618.5 159.13 L619.3 159.31 L620.1 159.62 L620.9 160.05 L621.7 160.61 L622.5 161.27 L623.3 162.02 L624.1 162.86 L624.9 163.75 L625.7 164.7 L626.5 165.67 L627.3 166.66 L628.1 167.65 L628.9 168.63 L629.7 169.58 L630.5 170.49 L631.3 171.36 L632.1 172.18 L632.9 172.94 L633.7 173.65 L634.5 174.29 L635.3 174.88 L636.1 175.41 L636.9 175.88 L637.7 176.31 L638.5 176.68 L639.3 177.01 L640.1 177.3 L640.9 177.56 L641.7 177.79 L642.5 177.99 L643.3 178.17 L644.1 178.33 L644.9 178.47 L644.9 178.69 L592.1 173.36 Z" fill="url(#gN2)" fill-opacity="0.92"/>
<path d="M612.1 175.14 L612.9 175.14 L613.7 175.12 L614.5 175.07 L615.3 174.99 L616.1 174.86 L616.9 174.7 L617.7 174.49 L618.5 174.22 L619.3 173.89 L620.1 173.51 L620.9 173.06 L621.7 172.55 L622.5 171.98 L623.3 171.36 L624.1 170.7 L624.9 170 L625.7 169.29 L626.5 168.58 L627.3 167.88 L628.1 167.23 L628.9 166.64 L629.7 166.12 L630.5 165.71 L631.3 165.4 L632.1 165.23 L632.9 165.19 L633.7 165.28 L634.5 165.52 L635.3 165.89 L636.1 166.39 L636.9 166.99 L637.7 167.69 L638.5 168.46 L639.3 169.29 L640.1 170.15 L640.9 171.02 L641.7 171.89 L642.5 172.74 L643.3 173.56 L644.1 174.33 L644.9 175.04 L645.7 175.7 L646.5 176.3 L647.3 176.83 L648.1 177.3 L648.9 177.72 L649.7 178.08 L650.5 178.39 L651.3 178.67 L652.1 178.9 L652.9 179.11 L653.7 179.28 L654.5 179.44 L654.5 179.66 L612.1 175.38 Z" fill="url(#gN0)" fill-opacity="0.92"/>
<path d="M652.9 179.26 L653.7 179.28 L654.5 179.3 L655.3 179.31 L656.1 179.3 L656.9 179.27 L657.7 179.23 L658.5 179.18 L659.3 179.1 L660.1 179 L660.9 178.87 L661.7 178.72 L662.5 178.54 L663.3 178.33 L664.1 178.1 L664.9 177.83 L665.7 177.53 L666.5 177.2 L667.3 176.84 L668.1 176.46 L668.9 176.04 L669.7 175.61 L670.5 175.15 L671.3 174.68 L672.1 174.19 L672.9 173.7 L673.7 173.21 L674.5 172.72 L675.3 172.25 L676.1 171.79 L676.9 171.36 L677.7 170.97 L678.5 170.61 L679.3 170.3 L680.1 170.04 L680.9 169.83 L681.7 169.69 L682.5 169.61 L683.3 169.59 L684.1 169.65 L684.9 169.78 L685.7 170 L686.5 170.29 L687.3 170.66 L688.1 171.1 L688.9 171.6 L689.7 172.16 L690.5 172.77 L691.3 173.42 L692.1 174.09 L692.9 174.79 L693.7 175.5 L694.5 176.21 L695.3 176.91 L696.1 177.61 L696.9 178.28 L697.7 178.93 L698.5 179.56 L699.3 180.15 L700.1 180.71 L700.9 181.23 L701.7 181.71 L702.5 182.16 L703.3 182.57 L704.1 182.94 L704.9 183.28 L705.7 183.59 L706.5 183.88 L707.3 184.13 L708.1 184.36 L708.9 184.57 L709.7 184.75 L710.5 184.93 L711.3 185.08 L712.1 185.22 L712.1 185.48 L652.9 179.5 Z" fill="url(#gS1)" fill-opacity="0.92"/>
<path d="M671.3 181.14 L672.1 181.16 L672.9 181.17 L673.7 181.17 L674.5 181.15 L675.3 181.11 L676.1 181.05 L676.9 180.96 L677.7 180.84 L678.5 180.69 L679.3 180.49 L680.1 180.25 L680.9 179.97 L681.7 179.63 L682.5 179.23 L683.3 178.77 L684.1 178.25 L684.9 177.65 L685.7 176.99 L686.5 176.24 L687.3 175.43 L688.1 174.53 L688.9 173.56 L689.7 172.52 L690.5 171.4 L691.3 170.23 L692.1 169 L692.9 167.72 L693.7 166.4 L694.5 165.06 L695.3 163.71 L696.1 162.36 L696.9 161.03 L697.7 159.74 L698.5 158.5 L699.3 157.33 L700.1 156.26 L700.9 155.28 L701.7 154.42 L702.5 153.7 L703.3 153.12 L704.1 152.7 L704.9 152.44 L705.7 152.35 L706.5 152.43 L707.3 152.64 L708.1 152.98 L708.9 153.46 L709.7 154.05 L710.5 154.77 L711.3 155.59 L712.1 156.51 L712.9 157.53 L713.7 158.62 L714.5 159.79 L715.3 161.01 L716.1 162.28 L716.9 163.58 L717.7 164.91 L718.5 166.25 L719.3 167.59 L720.1 168.93 L720.9 170.24 L721.7 171.53 L722.5 172.78 L723.3 174 L724.1 175.16 L724.9 176.28 L725.7 177.34 L726.5 178.35 L727.3 179.3 L728.1 180.18 L728.9 181.01 L729.7 181.78 L730.5 182.5 L731.3 183.15 L732.1 183.76 L732.9 184.31 L733.7 184.82 L734.5 185.28 L735.3 185.7 L736.1 186.07 L736.9 186.42 L737.7 186.73 L738.5 187.01 L739.3 187.27 L740.1 187.5 L740.9 187.71 L741.7 187.9 L742.5 188.08 L743.3 188.24 L744.1 188.39 L744.9 188.53 L745.7 188.65 L745.7 188.87 L671.3 181.35 Z" fill="url(#gS1)" fill-opacity="0.92"/>
<path d="M714.5 185.51 L715.3 185.51 L716.1 185.48 L716.9 185.42 L717.7 185.31 L718.5 185.15 L719.3 184.93 L720.1 184.62 L720.9 184.21 L721.7 183.69 L722.5 183.04 L723.3 182.24 L724.1 181.26 L724.9 180.1 L725.7 178.74 L726.5 177.16 L727.3 175.36 L728.1 173.33 L728.9 171.08 L729.7 168.63 L730.5 165.99 L731.3 163.2 L732.1 160.3 L732.9 157.33 L733.7 154.35 L734.5 151.43 L735.3 148.64 L736.1 146.04 L736.9 143.69 L737.7 141.68 L738.5 140.05 L739.3 138.85 L740.1 138.12 L740.9 137.89 L741.7 138.2 L742.5 139.13 L743.3 140.64 L744.1 142.68 L744.9 145.18 L745.7 148.06 L746.5 151.23 L747.3 154.59 L748.1 158.06 L748.9 161.53 L749.7 164.94 L750.5 168.21 L751.3 171.28 L752.1 174.13 L752.9 176.71 L753.7 179.02 L754.5 181.05 L755.3 182.81 L756.1 184.32 L756.9 185.59 L757.7 186.65 L758.5 187.53 L759.3 188.24 L760.1 188.83 L760.9 189.3 L761.7 189.67 L762.5 189.98 L763.3 190.23 L764.1 190.43 L764.9 190.6 L764.9 190.81 L714.5 185.72 Z" fill="url(#gN2)" fill-opacity="0.92"/>
<path d="M738.5 187.94 L739.3 187.88 L740.1 187.75 L740.9 187.51 L741.7 187.12 L742.5 186.54 L743.3 185.71 L744.1 184.58 L744.9 183.11 L745.7 181.26 L746.5 179.05 L747.3 176.49 L748.1 173.67 L748.9 170.69 L749.7 167.72 L750.5 164.93 L751.3 162.52 L752.1 160.66 L752.9 159.52 L753.7 159.18 L754.5 159.47 L755.3 160.2 L756.1 161.31 L756.9 162.79 L757.7 164.56 L758.5 166.56 L759.3 168.73 L760.1 171 L760.9 173.28 L761.7 175.53 L762.5 177.69 L763.3 179.72 L764.1 181.58 L764.9 183.27 L765.7 184.75 L766.5 186.05 L767.3 187.16 L768.1 188.1 L768.9 188.89 L769.7 189.53 L770.5 190.06 L771.3 190.49 L772.1 190.83 L772.9 191.11 L773.7 191.34 L774.5 191.53 L774.5 191.78 L738.5 188.14 Z" fill="url(#gN0)" fill-opacity="0.92"/>
<path d="M547.3 168.83 L784.1 192.75" fill="none" stroke="#6b9a8e" stroke-width="2.4"/>
<path d="M547.3 168.26 L548.1 168.21 L548.9 168.14 L549.7 168.04 L550.5 167.91 L551.3 167.75 L552.1 167.56 L552.9 167.33 L553.7 167.06 L554.5 166.75 L555.3 166.41 L556.1 166.02 L556.9 165.59 L557.7 165.13 L558.5 164.62 L559.3 164.09 L560.1 163.53 L560.9 162.95 L561.7 162.35 L562.5 161.74 L563.3 161.13 L564.1 160.53 L564.9 159.93 L565.7 159.36 L566.5 158.81 L567.3 158.29 L568.1 157.81 L568.9 157.37 L569.7 156.97 L570.5 156.61 L571.3 156.31 L572.1 156.04 L572.9 155.83 L573.7 155.65 L574.5 155.51 L575.3 155.41 L576.1 155.35 L576.9 155.31 L577.7 155.31 L578.5 155.33 L579.3 155.37 L580.1 155.45 L580.9 155.55 L581.7 155.67 L582.5 155.83 L583.3 156.01 L584.1 156.23 L584.9 156.48 L585.7 156.77 L586.5 157.09 L587.3 157.45 L588.1 157.84 L588.9 158.27 L589.7 158.73 L590.5 159.21 L591.3 159.71 L592.1 160.23 L592.9 160.76 L593.7 161.29 L594.5 161.8 L595.3 162.31 L596.1 162.79 L596.9 163.23 L597.7 163.64 L598.5 164 L599.3 164.3 L600.1 164.55 L600.9 164.72 L601.7 164.83 L602.5 164.85 L603.3 164.8 L604.1 164.67 L604.9 164.45 L605.7 164.16 L606.5 163.79 L607.3 163.35 L608.1 162.85 L608.9 162.29 L609.7 161.69 L610.5 161.05 L611.3 160.4 L612.1 159.74 L612.9 159.08 L613.7 158.45 L614.5 157.85 L615.3 157.29 L616.1 156.78 L616.9 156.33 L617.7 155.95 L618.5 155.63 L619.3 155.37 L620.1 155.18 L620.9 155.04 L621.7 154.96 L622.5 154.93 L623.3 154.94 L624.1 155 L624.9 155.09 L625.7 155.23 L626.5 155.4 L627.3 155.62 L628.1 155.89 L628.9 156.22 L629.7 156.61 L630.5 157.08 L631.3 157.62 L632.1 158.25 L632.9 158.97 L633.7 159.78 L634.5 160.67 L635.3 161.63 L636.1 162.67 L636.9 163.77 L637.7 164.9 L638.5 166.06 L639.3 167.23 L640.1 168.4 L640.9 169.53 L641.7 170.63 L642.5 171.68 L643.3 172.66 L644.1 173.57 L644.9 174.4 L645.7 175.16 L646.5 175.83 L647.3 176.43 L648.1 176.95 L648.9 177.4 L649.7 177.79 L650.5 178.11 L651.3 178.38 L652.1 178.61 L652.9 178.79 L653.7 178.93 L654.5 179.03 L655.3 179.11 L656.1 179.15 L656.9 179.17 L657.7 179.15 L658.5 179.12 L659.3 179.05 L660.1 178.96 L660.9 178.84 L661.7 178.7 L662.5 178.52 L663.3 178.31 L664.1 178.07 L664.9 177.8 L665.7 177.49 L666.5 177.15 L667.3 176.78 L668.1 176.37 L668.9 175.94 L669.7 175.47 L670.5 174.98 L671.3 174.46 L672.1 173.92 L672.9 173.36 L673.7 172.79 L674.5 172.2 L675.3 171.6 L676.1 171.01 L676.9 170.41 L677.7 169.81 L678.5 169.21 L679.3 168.63 L680.1 168.05 L680.9 167.47 L681.7 166.91 L682.5 166.35 L683.3 165.8 L684.1 165.25 L684.9 164.71 L685.7 164.17 L686.5 163.64 L687.3 163.12 L688.1 162.58 L688.9 162.03 L689.7 161.47 L690.5 160.88 L691.3 160.27 L692.1 159.63 L692.9 158.97 L693.7 158.28 L694.5 157.57 L695.3 156.84 L696.1 156.11 L696.9 155.37 L697.7 154.65 L698.5 153.96 L699.3 153.3 L700.1 152.7 L700.9 152.16 L701.7 151.71 L702.5 151.35 L703.3 151.1 L704.1 150.97 L704.9 150.98 L705.7 151.11 L706.5 151.39 L707.3 151.77 L708.1 152.26 L708.9 152.86 L709.7 153.55 L710.5 154.34 L711.3 155.22 L712.1 156.19 L712.9 157.22 L713.7 158.31 L714.5 159.45 L715.3 160.62 L716.1 161.81 L716.9 162.99 L717.7 164.14 L718.5 165.25 L719.3 166.29 L720.1 167.24 L720.9 168.08 L721.7 168.77 L722.5 169.29 L723.3 169.62 L724.1 169.74 L724.9 169.61 L725.7 169.23 L726.5 168.58 L727.3 167.64 L728.1 166.42 L728.9 164.92 L729.7 163.16 L730.5 161.16 L731.3 158.94 L732.1 156.56 L732.9 154.06 L733.7 151.51 L734.5 148.96 L735.3 146.5 L736.1 144.17 L736.9 142.06 L737.7 140.23 L738.5 138.71 L739.3 137.54 L740.1 136.75 L740.9 136.31 L741.7 136.24 L742.5 136.57 L743.3 137.19 L744.1 138.01 L744.9 138.91 L745.7 139.77 L746.5 140.49 L747.3 141 L748.1 141.27 L748.9 141.32 L749.7 141.24 L750.5 141.15 L751.3 141.19 L752.1 141.53 L752.9 142.31 L753.7 143.67 L754.5 145.45 L755.3 147.49 L756.1 149.8 L756.9 152.37 L757.7 155.18 L758.5 158.19 L759.3 161.34 L760.1 164.55 L760.9 167.75 L761.7 170.86 L762.5 173.83 L763.3 176.59 L764.1 179.1 L764.9 181.34 L765.7 183.29 L766.5 184.97 L767.3 186.38 L768.1 187.55 L768.9 188.5 L769.7 189.27 L770.5 189.89 L771.3 190.38 L772.1 190.77 L772.9 191.07 L773.7 191.32 L774.5 191.52 L775.3 191.68 L776.1 191.82 L776.9 191.94 L777.7 192.05 L778.5 192.15 L779.3 192.24 L780.1 192.33 L780.9 192.42 L781.7 192.5 L782.5 192.58 L783.3 192.66 L784.1 192.75" fill="none" stroke="#6b9a8e" stroke-width="1.8" stroke-linejoin="round"/>
<g fill="none" stroke="#4cbdb4" stroke-width="0.95"><circle cx="548.03" cy="166.09" r="2.1"/><circle cx="548.94" cy="168.49" r="2.1"/><circle cx="551.59" cy="165.33" r="2.1"/><circle cx="554.74" cy="165.21" r="2.1"/><circle cx="557.52" cy="163.7" r="2.1"/><circle cx="560.04" cy="162.47" r="2.1"/><circle cx="561.86" cy="162.6" r="2.1"/><circle cx="564.4" cy="160.76" r="2.1"/><circle cx="566.83" cy="156.36" r="2.1"/><circle cx="569.51" cy="156.57" r="2.1"/><circle cx="571" cy="154.29" r="2.1"/><circle cx="574.26" cy="154.83" r="2.1"/><circle cx="576.8" cy="155.12" r="2.1"/><circle cx="579.24" cy="154.46" r="2.1"/><circle cx="581.22" cy="154.82" r="2.1"/><circle cx="582.91" cy="156.34" r="2.1"/><circle cx="585.4" cy="156.56" r="2.1"/><circle cx="588.83" cy="157.23" r="2.1"/><circle cx="589.93" cy="159.14" r="2.1"/><circle cx="593.17" cy="158.72" r="2.1"/><circle cx="594.58" cy="161.33" r="2.1"/><circle cx="596.95" cy="163.87" r="2.1"/><circle cx="600.11" cy="163.53" r="2.1"/><circle cx="602.36" cy="164.28" r="2.1"/><circle cx="605.57" cy="162.79" r="2.1"/><circle cx="607.1" cy="162.53" r="2.1"/><circle cx="609.38" cy="160.91" r="2.1"/><circle cx="612.17" cy="158.46" r="2.1"/><circle cx="614.78" cy="156.86" r="2.1"/><circle cx="616.24" cy="156.78" r="2.1"/><circle cx="619.07" cy="154.09" r="2.1"/><circle cx="621.54" cy="155.2" r="2.1"/><circle cx="624.82" cy="153.96" r="2.1"/><circle cx="626.34" cy="153.1" r="2.1"/><circle cx="629.53" cy="154.14" r="2.1"/><circle cx="631.37" cy="156.09" r="2.1"/><circle cx="633.43" cy="158.27" r="2.1"/><circle cx="635.61" cy="160.18" r="2.1"/><circle cx="638.56" cy="165.9" r="2.1"/><circle cx="641.14" cy="167.55" r="2.1"/><circle cx="643.61" cy="170.22" r="2.1"/><circle cx="645.56" cy="175.09" r="2.1"/><circle cx="648.77" cy="175.76" r="2.1"/><circle cx="651.05" cy="177.04" r="2.1"/><circle cx="652.94" cy="177.97" r="2.1"/><circle cx="656.09" cy="178.78" r="2.1"/><circle cx="657.66" cy="178.78" r="2.1"/><circle cx="660.33" cy="177.44" r="2.1"/><circle cx="662.95" cy="178.43" r="2.1"/><circle cx="665.07" cy="178.08" r="2.1"/><circle cx="666.53" cy="175.71" r="2.1"/><circle cx="669.92" cy="173.91" r="2.1"/><circle cx="671.57" cy="173.44" r="2.1"/><circle cx="674.4" cy="170.42" r="2.1"/><circle cx="676.17" cy="170.77" r="2.1"/><circle cx="679.06" cy="166.39" r="2.1"/><circle cx="681.25" cy="165.09" r="2.1"/><circle cx="684.69" cy="163.2" r="2.1"/><circle cx="686.14" cy="161.34" r="2.1"/><circle cx="688.85" cy="160.07" r="2.1"/><circle cx="691.05" cy="159.92" r="2.1"/><circle cx="694.38" cy="158.23" r="2.1"/><circle cx="695.36" cy="154.66" r="2.1"/><circle cx="699.06" cy="151.46" r="2.1"/><circle cx="700.43" cy="151.06" r="2.1"/><circle cx="703.11" cy="150.8" r="2.1"/><circle cx="706.05" cy="149.93" r="2.1"/><circle cx="707.7" cy="150.37" r="2.1"/><circle cx="710.13" cy="151.94" r="2.1"/><circle cx="713.17" cy="155.1" r="2.1"/><circle cx="715.92" cy="160" r="2.1"/><circle cx="716.99" cy="163.07" r="2.1"/><circle cx="720.27" cy="164.77" r="2.1"/><circle cx="722.48" cy="166.78" r="2.1"/><circle cx="725.33" cy="167.02" r="2.1"/><circle cx="727.51" cy="168.06" r="2.1"/><circle cx="730.25" cy="161.27" r="2.1"/><circle cx="732.16" cy="154.39" r="2.1"/><circle cx="734.25" cy="149.01" r="2.1"/><circle cx="737.41" cy="139.49" r="2.1"/><circle cx="739.11" cy="136.9" r="2.1"/><circle cx="741.18" cy="136.1" r="2.1"/><circle cx="744.73" cy="137.1" r="2.1"/><circle cx="746.28" cy="140.49" r="2.1"/><circle cx="748.92" cy="139.3" r="2.1"/><circle cx="750.94" cy="139.07" r="2.1"/><circle cx="754.24" cy="142.63" r="2.1"/><circle cx="756.41" cy="149.7" r="2.1"/><circle cx="759.26" cy="156.17" r="2.1"/><circle cx="760.75" cy="167.82" r="2.1"/><circle cx="763.72" cy="175.17" r="2.1"/><circle cx="765.95" cy="181.29" r="2.1"/><circle cx="767.56" cy="185.1" r="2.1"/><circle cx="770.31" cy="188.01" r="2.1"/><circle cx="772.93" cy="191.44" r="2.1"/><circle cx="774.74" cy="190.79" r="2.1"/><circle cx="778.28" cy="191.28" r="2.1"/><circle cx="780.14" cy="192.08" r="2.1"/><circle cx="781.73" cy="192.89" r="2.1"/></g>
<path d="M547.3 237.5 L548.1 237.45 L548.9 237.38 L549.7 237.27 L550.5 237.13 L551.3 236.95 L552.1 236.72 L552.9 236.45 L553.7 236.13 L554.5 235.75 L555.3 235.32 L556.1 234.84 L556.9 234.31 L557.7 233.72 L558.5 233.09 L559.3 232.42 L560.1 231.72 L560.9 231 L561.7 230.26 L562.5 229.53 L563.3 228.81 L564.1 228.13 L564.9 227.49 L565.7 226.9 L566.5 226.39 L567.3 225.97 L568.1 225.64 L568.9 225.42 L569.7 225.32 L570.5 225.33 L571.3 225.47 L572.1 225.72 L572.9 226.09 L573.7 226.57 L574.5 227.15 L575.3 227.82 L576.1 228.57 L576.9 229.37 L577.7 230.23 L578.5 231.12 L579.3 232.03 L580.1 232.94 L580.9 233.85 L581.7 234.74 L582.5 235.59 L583.3 236.41 L584.1 237.19 L584.9 237.91 L585.7 238.59 L586.5 239.21 L587.3 239.78 L588.1 240.29 L588.9 240.76 L589.7 241.17 L590.5 241.54 L591.3 241.88 L592.1 242.17 L592.9 242.43 L593.7 242.66 L594.5 242.87 L595.3 243.06 L596.1 243.22 L596.9 243.37 L596.9 243.59 L547.3 238.03 Z" fill="url(#gS1)" fill-opacity="0.92"/>
<path d="M562.5 239.52 L563.3 239.54 L564.1 239.55 L564.9 239.54 L565.7 239.51 L566.5 239.44 L567.3 239.35 L568.1 239.23 L568.9 239.06 L569.7 238.85 L570.5 238.59 L571.3 238.27 L572.1 237.91 L572.9 237.48 L573.7 236.99 L574.5 236.44 L575.3 235.83 L576.1 235.16 L576.9 234.45 L577.7 233.68 L578.5 232.88 L579.3 232.05 L580.1 231.21 L580.9 230.37 L581.7 229.55 L582.5 228.75 L583.3 228.01 L584.1 227.33 L584.9 226.73 L585.7 226.23 L586.5 225.83 L587.3 225.56 L588.1 225.41 L588.9 225.4 L589.7 225.52 L590.5 225.78 L591.3 226.17 L592.1 226.69 L592.9 227.32 L593.7 228.05 L594.5 228.87 L595.3 229.76 L596.1 230.71 L596.9 231.71 L597.7 232.72 L598.5 233.74 L599.3 234.76 L600.1 235.75 L600.9 236.71 L601.7 237.63 L602.5 238.51 L603.3 239.32 L604.1 240.08 L604.9 240.78 L605.7 241.42 L606.5 241.99 L607.3 242.51 L608.1 242.98 L608.9 243.39 L609.7 243.76 L610.5 244.09 L611.3 244.38 L612.1 244.63 L612.9 244.86 L613.7 245.06 L614.5 245.24 L615.3 245.4 L615.3 245.65 L562.5 239.74 Z" fill="url(#gS2)" fill-opacity="0.92"/>
<path d="M595.3 243.17 L596.1 243.18 L596.9 243.16 L597.7 243.11 L598.5 243.03 L599.3 242.9 L600.1 242.73 L600.9 242.5 L601.7 242.22 L602.5 241.86 L603.3 241.44 L604.1 240.94 L604.9 240.37 L605.7 239.72 L606.5 239.02 L607.3 238.25 L608.1 237.44 L608.9 236.61 L609.7 235.76 L610.5 234.92 L611.3 234.12 L612.1 233.38 L612.9 232.71 L613.7 232.16 L614.5 231.73 L615.3 231.44 L616.1 231.3 L616.9 231.33 L617.7 231.52 L618.5 231.88 L619.3 232.38 L620.1 233.03 L620.9 233.79 L621.7 234.65 L622.5 235.59 L623.3 236.59 L624.1 237.61 L624.9 238.63 L625.7 239.64 L626.5 240.62 L627.3 241.55 L628.1 242.42 L628.9 243.23 L629.7 243.96 L630.5 244.62 L631.3 245.2 L632.1 245.72 L632.9 246.17 L633.7 246.57 L634.5 246.9 L635.3 247.2 L636.1 247.45 L636.9 247.67 L637.7 247.86 L638.5 248.03 L638.5 248.25 L595.3 243.41 Z" fill="url(#gN2)" fill-opacity="0.92"/>
<path d="M611.3 244.95 L612.1 244.95 L612.9 244.92 L613.7 244.86 L614.5 244.76 L615.3 244.61 L616.1 244.4 L616.9 244.13 L617.7 243.79 L618.5 243.37 L619.3 242.87 L620.1 242.27 L620.9 241.59 L621.7 240.81 L622.5 239.95 L623.3 239.01 L624.1 238.01 L624.9 236.97 L625.7 235.9 L626.5 234.83 L627.3 233.78 L628.1 232.8 L628.9 231.9 L629.7 231.12 L630.5 230.48 L631.3 230.01 L632.1 229.72 L632.9 229.64 L633.7 229.75 L634.5 230.07 L635.3 230.58 L636.1 231.28 L636.9 232.13 L637.7 233.12 L638.5 234.23 L639.3 235.41 L640.1 236.64 L640.9 237.89 L641.7 239.14 L642.5 240.35 L643.3 241.52 L644.1 242.61 L644.9 243.63 L645.7 244.57 L646.5 245.41 L647.3 246.16 L648.1 246.82 L648.9 247.4 L649.7 247.9 L650.5 248.33 L651.3 248.7 L652.1 249.02 L652.9 249.29 L653.7 249.52 L654.5 249.72 L655.3 249.9 L655.3 250.13 L611.3 245.2 Z" fill="url(#gN0)" fill-opacity="0.92"/>
<path d="M652.1 249.55 L652.9 249.59 L653.7 249.61 L654.5 249.63 L655.3 249.63 L656.1 249.61 L656.9 249.58 L657.7 249.52 L658.5 249.45 L659.3 249.35 L660.1 249.22 L660.9 249.05 L661.7 248.86 L662.5 248.64 L663.3 248.37 L664.1 248.07 L664.9 247.73 L665.7 247.35 L666.5 246.93 L667.3 246.47 L668.1 245.97 L668.9 245.43 L669.7 244.87 L670.5 244.27 L671.3 243.65 L672.1 243.01 L672.9 242.35 L673.7 241.69 L674.5 241.03 L675.3 240.39 L676.1 239.76 L676.9 239.16 L677.7 238.6 L678.5 238.08 L679.3 237.61 L680.1 237.21 L680.9 236.88 L681.7 236.63 L682.5 236.45 L683.3 236.37 L684.1 236.37 L684.9 236.46 L685.7 236.66 L686.5 236.96 L687.3 237.37 L688.1 237.87 L688.9 238.46 L689.7 239.13 L690.5 239.87 L691.3 240.67 L692.1 241.52 L692.9 242.39 L693.7 243.3 L694.5 244.21 L695.3 245.12 L696.1 246.02 L696.9 246.91 L697.7 247.76 L698.5 248.59 L699.3 249.37 L700.1 250.11 L700.9 250.81 L701.7 251.45 L702.5 252.05 L703.3 252.6 L704.1 253.1 L704.9 253.56 L705.7 253.98 L706.5 254.35 L707.3 254.69 L708.1 254.99 L708.9 255.27 L709.7 255.51 L710.5 255.73 L711.3 255.93 L712.1 256.11 L712.9 256.28 L713.7 256.43 L713.7 256.67 L652.1 249.77 Z" fill="url(#gS1)" fill-opacity="0.92"/>
<path d="M671.3 251.71 L672.1 251.75 L672.9 251.77 L673.7 251.77 L674.5 251.76 L675.3 251.73 L676.1 251.68 L676.9 251.59 L677.7 251.47 L678.5 251.32 L679.3 251.13 L680.1 250.88 L680.9 250.59 L681.7 250.24 L682.5 249.82 L683.3 249.34 L684.1 248.78 L684.9 248.14 L685.7 247.42 L686.5 246.61 L687.3 245.71 L688.1 244.73 L688.9 243.65 L689.7 242.48 L690.5 241.23 L691.3 239.9 L692.1 238.49 L692.9 237.01 L693.7 235.49 L694.5 233.92 L695.3 232.32 L696.1 230.71 L696.9 229.11 L697.7 227.54 L698.5 226.01 L699.3 224.54 L700.1 223.17 L700.9 221.89 L701.7 220.75 L702.5 219.75 L703.3 218.91 L704.1 218.24 L704.9 217.75 L705.7 217.47 L706.5 217.38 L707.3 217.48 L708.1 217.75 L708.9 218.17 L709.7 218.74 L710.5 219.46 L711.3 220.32 L712.1 221.3 L712.9 222.4 L713.7 223.61 L714.5 224.91 L715.3 226.3 L716.1 227.75 L716.9 229.25 L717.7 230.79 L718.5 232.36 L719.3 233.95 L720.1 235.53 L720.9 237.1 L721.7 238.65 L722.5 240.16 L723.3 241.64 L724.1 243.06 L724.9 244.43 L725.7 245.74 L726.5 246.98 L727.3 248.16 L728.1 249.27 L728.9 250.31 L729.7 251.27 L730.5 252.17 L731.3 253 L732.1 253.77 L732.9 254.47 L733.7 255.11 L734.5 255.7 L735.3 256.23 L736.1 256.71 L736.9 257.15 L737.7 257.54 L738.5 257.9 L739.3 258.23 L740.1 258.52 L740.9 258.78 L741.7 259.03 L742.5 259.24 L743.3 259.44 L744.1 259.63 L744.9 259.79 L745.7 259.95 L746.5 260.1 L747.3 260.23 L747.3 260.43 L671.3 251.92 Z" fill="url(#gS1)" fill-opacity="0.92"/>
<path d="M714.5 256.54 L715.3 256.54 L716.1 256.52 L716.9 256.46 L717.7 256.35 L718.5 256.18 L719.3 255.95 L720.1 255.62 L720.9 255.2 L721.7 254.65 L722.5 253.97 L723.3 253.12 L724.1 252.09 L724.9 250.86 L725.7 249.42 L726.5 247.75 L727.3 245.85 L728.1 243.7 L728.9 241.33 L729.7 238.73 L730.5 235.94 L731.3 232.99 L732.1 229.92 L732.9 226.78 L733.7 223.63 L734.5 220.54 L735.3 217.58 L736.1 214.83 L736.9 212.35 L737.7 210.22 L738.5 208.5 L739.3 207.23 L740.1 206.46 L740.9 206.22 L741.7 206.54 L742.5 207.46 L743.3 208.94 L744.1 210.96 L744.9 213.43 L745.7 216.29 L746.5 219.46 L747.3 222.84 L748.1 226.34 L748.9 229.89 L749.7 233.4 L750.5 236.81 L751.3 240.05 L752.1 243.08 L752.9 245.87 L753.7 248.39 L754.5 250.65 L755.3 252.64 L756.1 254.37 L756.9 255.85 L757.7 257.11 L758.5 258.17 L759.3 259.05 L760.1 259.78 L760.9 260.37 L761.7 260.86 L762.5 261.26 L763.3 261.58 L764.1 261.85 L764.9 262.07 L765.7 262.26 L765.7 262.49 L714.5 256.76 Z" fill="url(#gN2)" fill-opacity="0.92"/>
<path d="M739.3 259.28 L740.1 259.19 L740.9 259 L741.7 258.66 L742.5 258.12 L743.3 257.32 L744.1 256.16 L744.9 254.59 L745.7 252.53 L746.5 249.93 L747.3 246.78 L748.1 243.12 L748.9 239.02 L749.7 234.66 L750.5 230.24 L751.3 226.02 L752.1 222.28 L752.9 219.3 L753.7 217.31 L754.5 216.48 L755.3 216.69 L756.1 217.51 L756.9 218.87 L757.7 220.73 L758.5 223.03 L759.3 225.68 L760.1 228.6 L760.9 231.69 L761.7 234.87 L762.5 238.06 L763.3 241.16 L764.1 244.13 L764.9 246.91 L765.7 249.46 L766.5 251.76 L767.3 253.81 L768.1 255.59 L768.9 257.13 L769.7 258.43 L770.5 259.52 L771.3 260.43 L772.1 261.17 L772.9 261.78 L773.7 262.26 L774.5 262.66 L775.3 262.98 L776.1 263.24 L776.9 263.46 L777.7 263.64 L777.7 263.84 L739.3 259.54 Z" fill="url(#gN0)" fill-opacity="0.92"/>
<path d="M547.3 238.03 L784.1 264.56" fill="none" stroke="#6b9a8e" stroke-width="2.4"/>
<path d="M547.3 237.48 L548.1 237.43 L548.9 237.35 L549.7 237.24 L550.5 237.09 L551.3 236.9 L552.1 236.66 L552.9 236.37 L553.7 236.02 L554.5 235.62 L555.3 235.17 L556.1 234.65 L556.9 234.07 L557.7 233.43 L558.5 232.74 L559.3 232 L560.1 231.21 L560.9 230.39 L561.7 229.53 L562.5 228.66 L563.3 227.79 L564.1 226.91 L564.9 226.06 L565.7 225.23 L566.5 224.45 L567.3 223.71 L568.1 223.03 L568.9 222.41 L569.7 221.86 L570.5 221.38 L571.3 220.96 L572.1 220.62 L572.9 220.33 L573.7 220.11 L574.5 219.93 L575.3 219.79 L576.1 219.68 L576.9 219.6 L577.7 219.53 L578.5 219.48 L579.3 219.44 L580.1 219.4 L580.9 219.37 L581.7 219.35 L582.5 219.35 L583.3 219.37 L584.1 219.42 L584.9 219.51 L585.7 219.64 L586.5 219.83 L587.3 220.08 L588.1 220.4 L588.9 220.79 L589.7 221.26 L590.5 221.81 L591.3 222.43 L592.1 223.11 L592.9 223.86 L593.7 224.65 L594.5 225.49 L595.3 226.35 L596.1 227.22 L596.9 228.09 L597.7 228.94 L598.5 229.75 L599.3 230.52 L600.1 231.22 L600.9 231.84 L601.7 232.37 L602.5 232.8 L603.3 233.12 L604.1 233.33 L604.9 233.41 L605.7 233.37 L606.5 233.22 L607.3 232.96 L608.1 232.59 L608.9 232.14 L609.7 231.61 L610.5 231.03 L611.3 230.42 L612.1 229.79 L612.9 229.17 L613.7 228.59 L614.5 228.04 L615.3 227.56 L616.1 227.14 L616.9 226.8 L617.7 226.53 L618.5 226.33 L619.3 226.19 L620.1 226.09 L620.9 226.04 L621.7 226 L622.5 225.97 L623.3 225.93 L624.1 225.88 L624.9 225.82 L625.7 225.73 L626.5 225.64 L627.3 225.55 L628.1 225.48 L628.9 225.45 L629.7 225.48 L630.5 225.58 L631.3 225.79 L632.1 226.11 L632.9 226.57 L633.7 227.16 L634.5 227.9 L635.3 228.78 L636.1 229.79 L636.9 230.91 L637.7 232.13 L638.5 233.42 L639.3 234.76 L640.1 236.12 L640.9 237.48 L641.7 238.81 L642.5 240.09 L643.3 241.31 L644.1 242.45 L644.9 243.5 L645.7 244.45 L646.5 245.3 L647.3 246.06 L648.1 246.72 L648.9 247.28 L649.7 247.77 L650.5 248.18 L651.3 248.51 L652.1 248.79 L652.9 249.01 L653.7 249.18 L654.5 249.31 L655.3 249.39 L656.1 249.44 L656.9 249.45 L657.7 249.44 L658.5 249.38 L659.3 249.3 L660.1 249.18 L660.9 249.03 L661.7 248.84 L662.5 248.61 L663.3 248.35 L664.1 248.05 L664.9 247.7 L665.7 247.31 L666.5 246.88 L667.3 246.41 L668.1 245.89 L668.9 245.33 L669.7 244.74 L670.5 244.1 L671.3 243.44 L672.1 242.74 L672.9 242.02 L673.7 241.28 L674.5 240.52 L675.3 239.75 L676.1 238.98 L676.9 238.2 L677.7 237.43 L678.5 236.67 L679.3 235.92 L680.1 235.19 L680.9 234.48 L681.7 233.78 L682.5 233.1 L683.3 232.44 L684.1 231.79 L684.9 231.15 L685.7 230.54 L686.5 229.95 L687.3 229.37 L688.1 228.79 L688.9 228.22 L689.7 227.63 L690.5 227.03 L691.3 226.4 L692.1 225.75 L692.9 225.07 L693.7 224.35 L694.5 223.6 L695.3 222.83 L696.1 222.04 L696.9 221.23 L697.7 220.42 L698.5 219.63 L699.3 218.86 L700.1 218.13 L700.9 217.46 L701.7 216.88 L702.5 216.38 L703.3 216 L704.1 215.75 L704.9 215.63 L705.7 215.67 L706.5 215.86 L707.3 216.21 L708.1 216.69 L708.9 217.29 L709.7 218.01 L710.5 218.85 L711.3 219.79 L712.1 220.85 L712.9 221.99 L713.7 223.21 L714.5 224.5 L715.3 225.84 L716.1 227.21 L716.9 228.59 L717.7 229.96 L718.5 231.29 L719.3 232.56 L720.1 233.74 L720.9 234.8 L721.7 235.72 L722.5 236.46 L723.3 237 L724.1 237.31 L724.9 237.36 L725.7 237.14 L726.5 236.63 L727.3 235.81 L728.1 234.69 L728.9 233.26 L729.7 231.54 L730.5 229.56 L731.3 227.35 L732.1 224.95 L732.9 222.42 L733.7 219.83 L734.5 217.23 L735.3 214.71 L736.1 212.34 L736.9 210.19 L737.7 208.32 L738.5 206.8 L739.3 205.66 L740.1 204.92 L740.9 204.57 L741.7 204.61 L742.5 205.02 L743.3 205.72 L744.1 206.58 L744.9 207.47 L745.7 208.23 L746.5 208.76 L747.3 208.93 L748.1 208.7 L748.9 208.08 L749.7 207.13 L750.5 206.02 L751.3 204.92 L752.1 204.09 L752.9 203.76 L753.7 204.15 L754.5 205.41 L755.3 207.43 L756.1 209.78 L756.9 212.42 L757.7 215.32 L758.5 218.43 L759.3 221.72 L760.1 225.11 L760.9 228.54 L761.7 231.93 L762.5 235.24 L763.3 238.41 L764.1 241.38 L764.9 244.13 L765.7 246.63 L766.5 248.87 L767.3 250.86 L768.1 252.6 L768.9 254.1 L769.7 255.4 L770.5 256.51 L771.3 257.45 L772.1 258.26 L772.9 258.96 L773.7 259.56 L774.5 260.1 L775.3 260.57 L776.1 261 L776.9 261.39 L777.7 261.75 L778.5 262.08 L779.3 262.4 L780.1 262.69 L780.9 262.97 L781.7 263.23 L782.5 263.47 L783.3 263.7 L784.1 263.91" fill="none" stroke="#6b9a8e" stroke-width="1.8" stroke-linejoin="round"/>
<g fill="none" stroke="#4cbdb4" stroke-width="0.95"><circle cx="547.98" cy="238.52" r="2.1"/><circle cx="550.33" cy="233.86" r="2.1"/><circle cx="552.25" cy="235.02" r="2.1"/><circle cx="554.55" cy="232.49" r="2.1"/><circle cx="556.41" cy="232.54" r="2.1"/><circle cx="558.85" cy="230.52" r="2.1"/><circle cx="560.94" cy="226.17" r="2.1"/><circle cx="564.44" cy="225.26" r="2.1"/><circle cx="566.52" cy="224.39" r="2.1"/><circle cx="568.67" cy="218.9" r="2.1"/><circle cx="571.75" cy="220.17" r="2.1"/><circle cx="573.95" cy="219.47" r="2.1"/><circle cx="576.85" cy="217.73" r="2.1"/><circle cx="578.92" cy="217.56" r="2.1"/><circle cx="581.02" cy="218.94" r="2.1"/><circle cx="583" cy="216.01" r="2.1"/><circle cx="585.66" cy="219.5" r="2.1"/><circle cx="588.24" cy="218.88" r="2.1"/><circle cx="590.73" cy="218.94" r="2.1"/><circle cx="592.39" cy="221.71" r="2.1"/><circle cx="595.81" cy="223.55" r="2.1"/><circle cx="597.08" cy="225.64" r="2.1"/><circle cx="599.36" cy="228.83" r="2.1"/><circle cx="602.62" cy="233.19" r="2.1"/><circle cx="604.63" cy="231.5" r="2.1"/><circle cx="606.96" cy="230.71" r="2.1"/><circle cx="610.14" cy="230.61" r="2.1"/><circle cx="611.71" cy="226.54" r="2.1"/><circle cx="614.95" cy="227.85" r="2.1"/><circle cx="617.43" cy="224.21" r="2.1"/><circle cx="619.37" cy="227.07" r="2.1"/><circle cx="621.85" cy="227.02" r="2.1"/><circle cx="623.57" cy="227.06" r="2.1"/><circle cx="625.79" cy="223.97" r="2.1"/><circle cx="628.14" cy="225.78" r="2.1"/><circle cx="631.6" cy="226.95" r="2.1"/><circle cx="634.19" cy="228.2" r="2.1"/><circle cx="636.16" cy="231.03" r="2.1"/><circle cx="638.9" cy="231.39" r="2.1"/><circle cx="641.66" cy="235.6" r="2.1"/><circle cx="642.81" cy="237.9" r="2.1"/><circle cx="645.65" cy="241.65" r="2.1"/><circle cx="648.79" cy="247.76" r="2.1"/><circle cx="650.05" cy="244.9" r="2.1"/><circle cx="652.95" cy="246.08" r="2.1"/><circle cx="655.37" cy="249.74" r="2.1"/><circle cx="657.3" cy="247.79" r="2.1"/><circle cx="660.74" cy="247.65" r="2.1"/><circle cx="662.25" cy="249.37" r="2.1"/><circle cx="665.4" cy="248.46" r="2.1"/><circle cx="667.6" cy="244.71" r="2.1"/><circle cx="670.01" cy="245.17" r="2.1"/><circle cx="672.32" cy="240.16" r="2.1"/><circle cx="674.17" cy="238.81" r="2.1"/><circle cx="677.33" cy="237.24" r="2.1"/><circle cx="679.38" cy="236.34" r="2.1"/><circle cx="681.07" cy="233.2" r="2.1"/><circle cx="683.83" cy="230.84" r="2.1"/><circle cx="687.04" cy="227.41" r="2.1"/><circle cx="689.62" cy="224.82" r="2.1"/><circle cx="691.4" cy="225.37" r="2.1"/><circle cx="693.28" cy="223.41" r="2.1"/><circle cx="696.05" cy="220.53" r="2.1"/><circle cx="698.85" cy="215.85" r="2.1"/><circle cx="700.7" cy="217.67" r="2.1"/><circle cx="702.73" cy="216.63" r="2.1"/><circle cx="705.23" cy="215.34" r="2.1"/><circle cx="707.58" cy="215.18" r="2.1"/><circle cx="710.38" cy="215.46" r="2.1"/><circle cx="713.22" cy="220.64" r="2.1"/><circle cx="715.6" cy="224.79" r="2.1"/><circle cx="717.79" cy="228.84" r="2.1"/><circle cx="719.78" cy="234.52" r="2.1"/><circle cx="721.84" cy="237.13" r="2.1"/><circle cx="725.48" cy="236.1" r="2.1"/><circle cx="727.74" cy="235.45" r="2.1"/><circle cx="729.87" cy="229.23" r="2.1"/><circle cx="731.81" cy="222.93" r="2.1"/><circle cx="734.18" cy="218.32" r="2.1"/><circle cx="736.65" cy="208.36" r="2.1"/><circle cx="739.17" cy="206.02" r="2.1"/><circle cx="741.66" cy="203.63" r="2.1"/><circle cx="743.71" cy="204.2" r="2.1"/><circle cx="745.84" cy="206.06" r="2.1"/><circle cx="748.52" cy="208.63" r="2.1"/><circle cx="751.3" cy="201.69" r="2.1"/><circle cx="753.64" cy="200.96" r="2.1"/><circle cx="756.21" cy="208.23" r="2.1"/><circle cx="759.07" cy="215.96" r="2.1"/><circle cx="761.46" cy="226" r="2.1"/><circle cx="764.07" cy="237.84" r="2.1"/><circle cx="764.97" cy="246.94" r="2.1"/><circle cx="767.74" cy="250.65" r="2.1"/><circle cx="769.93" cy="256.98" r="2.1"/><circle cx="772.24" cy="258.93" r="2.1"/><circle cx="775.13" cy="260.23" r="2.1"/><circle cx="777.37" cy="258.35" r="2.1"/><circle cx="780.76" cy="262.23" r="2.1"/><circle cx="781.97" cy="264.65" r="2.1"/></g>
<path d="M555.3 309.7 L556.1 309.73 L556.9 309.73 L557.7 309.73 L558.5 309.7 L559.3 309.64 L560.1 309.56 L560.9 309.45 L561.7 309.3 L562.5 309.12 L563.3 308.89 L564.1 308.62 L564.9 308.31 L565.7 307.95 L566.5 307.54 L567.3 307.09 L568.1 306.6 L568.9 306.07 L569.7 305.5 L570.5 304.91 L571.3 304.3 L572.1 303.69 L572.9 303.08 L573.7 302.48 L574.5 301.91 L575.3 301.38 L576.1 300.9 L576.9 300.48 L577.7 300.14 L578.5 299.89 L579.3 299.72 L580.1 299.66 L580.9 299.7 L581.7 299.84 L582.5 300.08 L583.3 300.42 L584.1 300.86 L584.9 301.38 L585.7 301.97 L586.5 302.63 L587.3 303.34 L588.1 304.09 L588.9 304.87 L589.7 305.66 L590.5 306.46 L591.3 307.24 L592.1 308.01 L592.9 308.76 L593.7 309.47 L594.5 310.14 L595.3 310.77 L596.1 311.35 L596.9 311.89 L597.7 312.38 L598.5 312.83 L599.3 313.24 L600.1 313.6 L600.9 313.93 L601.7 314.22 L602.5 314.48 L603.3 314.71 L604.1 314.92 L604.9 315.11 L605.7 315.28 L606.5 315.43 L606.5 315.66 L555.3 309.93 Z" fill="url(#gS1)" fill-opacity="0.92"/>
<path d="M580.1 312.51 L580.9 312.52 L581.7 312.52 L582.5 312.49 L583.3 312.43 L584.1 312.33 L584.9 312.19 L585.7 312.01 L586.5 311.78 L587.3 311.49 L588.1 311.16 L588.9 310.77 L589.7 310.34 L590.5 309.86 L591.3 309.35 L592.1 308.83 L592.9 308.29 L593.7 307.77 L594.5 307.28 L595.3 306.83 L596.1 306.45 L596.9 306.14 L597.7 305.94 L598.5 305.84 L599.3 305.86 L600.1 305.99 L600.9 306.24 L601.7 306.6 L602.5 307.06 L603.3 307.6 L604.1 308.21 L604.9 308.88 L605.7 309.57 L606.5 310.28 L607.3 310.99 L608.1 311.69 L608.9 312.35 L609.7 312.97 L610.5 313.55 L611.3 314.08 L612.1 314.56 L612.9 314.98 L613.7 315.35 L614.5 315.68 L615.3 315.97 L616.1 316.22 L616.9 316.43 L617.7 316.62 L618.5 316.79 L618.5 317.01 L580.1 312.71 Z" fill="url(#gS2)" fill-opacity="0.92"/>
<path d="M592.9 313.91 L593.7 313.94 L594.5 313.95 L595.3 313.94 L596.1 313.91 L596.9 313.85 L597.7 313.77 L598.5 313.65 L599.3 313.5 L600.1 313.31 L600.9 313.07 L601.7 312.79 L602.5 312.46 L603.3 312.08 L604.1 311.65 L604.9 311.18 L605.7 310.65 L606.5 310.08 L607.3 309.48 L608.1 308.84 L608.9 308.18 L609.7 307.51 L610.5 306.83 L611.3 306.17 L612.1 305.53 L612.9 304.93 L613.7 304.38 L614.5 303.89 L615.3 303.48 L616.1 303.16 L616.9 302.94 L617.7 302.82 L618.5 302.82 L619.3 302.92 L620.1 303.13 L620.9 303.46 L621.7 303.88 L622.5 304.41 L623.3 305.01 L624.1 305.7 L624.9 306.44 L625.7 307.23 L626.5 308.06 L627.3 308.9 L628.1 309.76 L628.9 310.61 L629.7 311.44 L630.5 312.25 L631.3 313.03 L632.1 313.77 L632.9 314.46 L633.7 315.1 L634.5 315.7 L635.3 316.24 L636.1 316.74 L636.9 317.19 L637.7 317.59 L638.5 317.95 L639.3 318.28 L640.1 318.56 L640.9 318.82 L641.7 319.05 L642.5 319.25 L643.3 319.44 L644.1 319.6 L644.9 319.75 L644.9 319.96 L592.9 314.14 Z" fill="url(#gN2)" fill-opacity="0.92"/>
<path d="M617.7 316.72 L618.5 316.73 L619.3 316.71 L620.1 316.66 L620.9 316.58 L621.7 316.44 L622.5 316.25 L623.3 316 L624.1 315.67 L624.9 315.26 L625.7 314.77 L626.5 314.18 L627.3 313.51 L628.1 312.76 L628.9 311.92 L629.7 311.02 L630.5 310.07 L631.3 309.1 L632.1 308.13 L632.9 307.18 L633.7 306.3 L634.5 305.51 L635.3 304.84 L636.1 304.32 L636.9 303.97 L637.7 303.81 L638.5 303.85 L639.3 304.09 L640.1 304.53 L640.9 305.14 L641.7 305.92 L642.5 306.83 L643.3 307.85 L644.1 308.95 L644.9 310.09 L645.7 311.25 L646.5 312.39 L647.3 313.5 L648.1 314.54 L648.9 315.52 L649.7 316.41 L650.5 317.22 L651.3 317.94 L652.1 318.57 L652.9 319.11 L653.7 319.58 L654.5 319.98 L655.3 320.32 L656.1 320.61 L656.9 320.86 L657.7 321.07 L658.5 321.25 L658.5 321.49 L617.7 316.92 Z" fill="url(#gN0)" fill-opacity="0.92"/>
<path d="M658.5 321.26 L659.3 321.29 L660.1 321.31 L660.9 321.31 L661.7 321.29 L662.5 321.26 L663.3 321.2 L664.1 321.12 L664.9 321.01 L665.7 320.87 L666.5 320.7 L667.3 320.5 L668.1 320.26 L668.9 319.99 L669.7 319.68 L670.5 319.34 L671.3 318.96 L672.1 318.56 L672.9 318.12 L673.7 317.67 L674.5 317.2 L675.3 316.72 L676.1 316.24 L676.9 315.76 L677.7 315.3 L678.5 314.87 L679.3 314.46 L680.1 314.1 L680.9 313.79 L681.7 313.54 L682.5 313.36 L683.3 313.24 L684.1 313.21 L684.9 313.25 L685.7 313.36 L686.5 313.56 L687.3 313.84 L688.1 314.18 L688.9 314.6 L689.7 315.07 L690.5 315.6 L691.3 316.17 L692.1 316.78 L692.9 317.41 L693.7 318.07 L694.5 318.73 L695.3 319.39 L696.1 320.04 L696.9 320.68 L697.7 321.3 L698.5 321.89 L699.3 322.45 L700.1 322.98 L700.9 323.48 L701.7 323.94 L702.5 324.36 L703.3 324.75 L704.1 325.11 L704.9 325.44 L705.7 325.73 L706.5 326 L707.3 326.24 L708.1 326.46 L708.9 326.66 L709.7 326.84 L710.5 327.01 L711.3 327.16 L711.3 327.4 L658.5 321.49 Z" fill="url(#gS1)" fill-opacity="0.92"/>
<path d="M677.7 323.4 L678.5 323.42 L679.3 323.43 L680.1 323.41 L680.9 323.38 L681.7 323.32 L682.5 323.22 L683.3 323.09 L684.1 322.92 L684.9 322.7 L685.7 322.43 L686.5 322.1 L687.3 321.71 L688.1 321.25 L688.9 320.71 L689.7 320.09 L690.5 319.39 L691.3 318.61 L692.1 317.74 L692.9 316.78 L693.7 315.74 L694.5 314.62 L695.3 313.43 L696.1 312.17 L696.9 310.86 L697.7 309.51 L698.5 308.14 L699.3 306.76 L700.1 305.39 L700.9 304.06 L701.7 302.78 L702.5 301.57 L703.3 300.46 L704.1 299.46 L704.9 298.6 L705.7 297.9 L706.5 297.35 L707.3 296.99 L708.1 296.82 L708.9 296.83 L709.7 297 L710.5 297.29 L711.3 297.7 L712.1 298.23 L712.9 298.87 L713.7 299.61 L714.5 300.45 L715.3 301.38 L716.1 302.39 L716.9 303.47 L717.7 304.6 L718.5 305.79 L719.3 307.01 L720.1 308.25 L720.9 309.51 L721.7 310.78 L722.5 312.04 L723.3 313.28 L724.1 314.51 L724.9 315.71 L725.7 316.87 L726.5 317.99 L727.3 319.06 L728.1 320.08 L728.9 321.06 L729.7 321.97 L730.5 322.84 L731.3 323.65 L732.1 324.4 L732.9 325.1 L733.7 325.74 L734.5 326.34 L735.3 326.89 L736.1 327.39 L736.9 327.85 L737.7 328.27 L738.5 328.65 L739.3 328.99 L740.1 329.31 L740.9 329.6 L741.7 329.86 L742.5 330.1 L743.3 330.31 L744.1 330.51 L744.9 330.7 L745.7 330.87 L746.5 331.02 L747.3 331.17 L748.1 331.31 L748.1 331.52 L677.7 323.64 Z" fill="url(#gS1)" fill-opacity="0.92"/>
<path d="M719.3 328.03 L720.1 328.02 L720.9 327.97 L721.7 327.87 L722.5 327.72 L723.3 327.5 L724.1 327.19 L724.9 326.79 L725.7 326.27 L726.5 325.61 L727.3 324.8 L728.1 323.82 L728.9 322.66 L729.7 321.31 L730.5 319.75 L731.3 318 L732.1 316.06 L732.9 313.95 L733.7 311.69 L734.5 309.32 L735.3 306.89 L736.1 304.44 L736.9 302.04 L737.7 299.74 L738.5 297.62 L739.3 295.74 L740.1 294.16 L740.9 292.93 L741.7 292.09 L742.5 291.68 L743.3 291.72 L744.1 292.26 L744.9 293.29 L745.7 294.77 L746.5 296.66 L747.3 298.89 L748.1 301.38 L748.9 304.06 L749.7 306.84 L750.5 309.66 L751.3 312.42 L752.1 315.09 L752.9 317.6 L753.7 319.93 L754.5 322.05 L755.3 323.94 L756.1 325.6 L756.9 327.04 L757.7 328.27 L758.5 329.3 L759.3 330.17 L760.1 330.88 L760.9 331.46 L761.7 331.94 L762.5 332.32 L763.3 332.64 L764.1 332.9 L764.9 333.11 L765.7 333.29 L765.7 333.49 L719.3 328.3 Z" fill="url(#gN2)" fill-opacity="0.92"/>
<path d="M741.7 330.48 L742.5 330.37 L743.3 330.14 L744.1 329.77 L744.9 329.19 L745.7 328.34 L746.5 327.16 L747.3 325.58 L748.1 323.54 L748.9 321 L749.7 317.95 L750.5 314.43 L751.3 310.5 L752.1 306.31 L752.9 302.05 L753.7 297.93 L754.5 294.21 L755.3 291.13 L756.1 288.91 L756.9 287.73 L757.7 287.64 L758.5 288.21 L759.3 289.32 L760.1 290.92 L760.9 292.97 L761.7 295.4 L762.5 298.12 L763.3 301.06 L764.1 304.13 L764.9 307.25 L765.7 310.34 L766.5 313.34 L767.3 316.19 L768.1 318.85 L768.9 321.29 L769.7 323.48 L770.5 325.43 L771.3 327.14 L772.1 328.61 L772.9 329.87 L773.7 330.92 L774.5 331.8 L775.3 332.52 L776.1 333.12 L776.9 333.6 L777.7 333.99 L778.5 334.31 L779.3 334.58 L780.1 334.79 L780.9 334.98 L780.9 335.2 L741.7 330.81 Z" fill="url(#gN0)" fill-opacity="0.92"/>
<path d="M547.3 309.03 L784.1 335.56" fill="none" stroke="#6b9a8e" stroke-width="2.4"/>
<path d="M547.3 309.02 L548.1 309.11 L548.9 309.19 L549.7 309.27 L550.5 309.35 L551.3 309.42 L552.1 309.49 L552.9 309.56 L553.7 309.61 L554.5 309.66 L555.3 309.7 L556.1 309.73 L556.9 309.73 L557.7 309.73 L558.5 309.7 L559.3 309.64 L560.1 309.56 L560.9 309.45 L561.7 309.3 L562.5 309.12 L563.3 308.89 L564.1 308.62 L564.9 308.31 L565.7 307.95 L566.5 307.54 L567.3 307.09 L568.1 306.6 L568.9 306.07 L569.7 305.5 L570.5 304.91 L571.3 304.3 L572.1 303.68 L572.9 303.07 L573.7 302.47 L574.5 301.89 L575.3 301.35 L576.1 300.86 L576.9 300.43 L577.7 300.07 L578.5 299.78 L579.3 299.58 L580.1 299.46 L580.9 299.42 L581.7 299.47 L582.5 299.59 L583.3 299.78 L584.1 300.02 L584.9 300.31 L585.7 300.63 L586.5 300.96 L587.3 301.29 L588.1 301.6 L588.9 301.89 L589.7 302.14 L590.5 302.34 L591.3 302.5 L592.1 302.61 L592.9 302.68 L593.7 302.71 L594.5 302.72 L595.3 302.72 L596.1 302.71 L596.9 302.71 L597.7 302.74 L598.5 302.79 L599.3 302.88 L600.1 303.01 L600.9 303.17 L601.7 303.36 L602.5 303.57 L603.3 303.78 L604.1 304 L604.9 304.19 L605.7 304.35 L606.5 304.47 L607.3 304.54 L608.1 304.54 L608.9 304.49 L609.7 304.37 L610.5 304.21 L611.3 303.99 L612.1 303.75 L612.9 303.48 L613.7 303.21 L614.5 302.95 L615.3 302.72 L616.1 302.53 L616.9 302.4 L617.7 302.32 L618.5 302.31 L619.3 302.37 L620.1 302.5 L620.9 302.68 L621.7 302.9 L622.5 303.16 L623.3 303.44 L624.1 303.71 L624.9 303.96 L625.7 304.17 L626.5 304.33 L627.3 304.42 L628.1 304.43 L628.9 304.36 L629.7 304.2 L630.5 303.97 L631.3 303.69 L632.1 303.36 L632.9 303.02 L633.7 302.69 L634.5 302.41 L635.3 302.2 L636.1 302.08 L636.9 302.09 L637.7 302.25 L638.5 302.56 L639.3 303.03 L640.1 303.66 L640.9 304.45 L641.7 305.36 L642.5 306.39 L643.3 307.5 L644.1 308.68 L644.9 309.88 L645.7 311.08 L646.5 312.26 L647.3 313.4 L648.1 314.47 L648.9 315.46 L649.7 316.36 L650.5 317.18 L651.3 317.89 L652.1 318.52 L652.9 319.06 L653.7 319.52 L654.5 319.91 L655.3 320.23 L656.1 320.5 L656.9 320.71 L657.7 320.89 L658.5 321.02 L659.3 321.12 L660.1 321.19 L660.9 321.22 L661.7 321.23 L662.5 321.22 L663.3 321.17 L664.1 321.1 L664.9 321 L665.7 320.86 L666.5 320.69 L667.3 320.49 L668.1 320.25 L668.9 319.98 L669.7 319.67 L670.5 319.32 L671.3 318.94 L672.1 318.52 L672.9 318.08 L673.7 317.61 L674.5 317.11 L675.3 316.61 L676.1 316.09 L676.9 315.58 L677.7 315.06 L678.5 314.56 L679.3 314.07 L680.1 313.61 L680.9 313.17 L681.7 312.77 L682.5 312.4 L683.3 312.07 L684.1 311.77 L684.9 311.5 L685.7 311.26 L686.5 311.04 L687.3 310.83 L688.1 310.63 L688.9 310.41 L689.7 310.18 L690.5 309.92 L691.3 309.62 L692.1 309.27 L692.9 308.85 L693.7 308.38 L694.5 307.83 L695.3 307.21 L696.1 306.51 L696.9 305.75 L697.7 304.93 L698.5 304.06 L699.3 303.15 L700.1 302.23 L700.9 301.3 L701.7 300.39 L702.5 299.52 L703.3 298.71 L704.1 297.98 L704.9 297.36 L705.7 296.85 L706.5 296.49 L707.3 296.28 L708.1 296.23 L708.9 296.36 L709.7 296.62 L710.5 296.98 L711.3 297.45 L712.1 298.03 L712.9 298.71 L713.7 299.48 L714.5 300.33 L715.3 301.27 L716.1 302.27 L716.9 303.33 L717.7 304.44 L718.5 305.57 L719.3 306.72 L720.1 307.87 L720.9 308.99 L721.7 310.07 L722.5 311.09 L723.3 312.03 L724.1 312.86 L724.9 313.57 L725.7 314.12 L726.5 314.49 L727.3 314.66 L728.1 314.62 L728.9 314.34 L729.7 313.82 L730.5 313.04 L731.3 312 L732.1 310.72 L732.9 309.22 L733.7 307.51 L734.5 305.64 L735.3 303.64 L736.1 301.58 L736.9 299.51 L737.7 297.48 L738.5 295.57 L739.3 293.83 L740.1 292.3 L740.9 291.04 L741.7 290.06 L742.5 289.37 L743.3 288.98 L744.1 288.88 L744.9 289.04 L745.7 289.38 L746.5 289.79 L747.3 290.15 L748.1 290.35 L748.9 290.29 L749.7 289.88 L750.5 289.09 L751.3 287.92 L752.1 286.45 L752.9 284.79 L753.7 283.13 L754.5 281.67 L755.3 280.62 L756.1 280.2 L756.9 280.56 L757.7 281.76 L758.5 283.39 L759.3 285.35 L760.1 287.61 L760.9 290.15 L761.7 292.92 L762.5 295.89 L763.3 298.98 L764.1 302.13 L764.9 305.28 L765.7 308.38 L766.5 311.37 L767.3 314.2 L768.1 316.84 L768.9 319.26 L769.7 321.46 L770.5 323.42 L771.3 325.16 L772.1 326.67 L772.9 327.99 L773.7 329.12 L774.5 330.09 L775.3 330.92 L776.1 331.62 L776.9 332.22 L777.7 332.73 L778.5 333.18 L779.3 333.56 L780.1 333.89 L780.9 334.19 L781.7 334.45 L782.5 334.68 L783.3 334.89 L784.1 335.09" fill="none" stroke="#6b9a8e" stroke-width="1.8" stroke-linejoin="round"/>
<g fill="none" stroke="#4cbdb4" stroke-width="0.95"><circle cx="547.64" cy="310.02" r="2.1"/><circle cx="549.19" cy="311.4" r="2.1"/><circle cx="551.61" cy="309.28" r="2.1"/><circle cx="553.85" cy="310.07" r="2.1"/><circle cx="556.34" cy="309.78" r="2.1"/><circle cx="559.66" cy="310.11" r="2.1"/><circle cx="561.61" cy="310.48" r="2.1"/><circle cx="564.88" cy="304.45" r="2.1"/><circle cx="566.53" cy="309.38" r="2.1"/><circle cx="569.28" cy="304.24" r="2.1"/><circle cx="570.99" cy="306.11" r="2.1"/><circle cx="573.04" cy="302.9" r="2.1"/><circle cx="576.65" cy="296.99" r="2.1"/><circle cx="578.22" cy="296.96" r="2.1"/><circle cx="580.97" cy="297.04" r="2.1"/><circle cx="583.93" cy="301.38" r="2.1"/><circle cx="585.41" cy="302.02" r="2.1"/><circle cx="587.41" cy="297.29" r="2.1"/><circle cx="590.76" cy="303.05" r="2.1"/><circle cx="593.41" cy="304.76" r="2.1"/><circle cx="595.88" cy="299.62" r="2.1"/><circle cx="598.09" cy="304.34" r="2.1"/><circle cx="599.45" cy="301.54" r="2.1"/><circle cx="601.95" cy="299.59" r="2.1"/><circle cx="604.87" cy="303.98" r="2.1"/><circle cx="608.06" cy="300.48" r="2.1"/><circle cx="609.71" cy="306.5" r="2.1"/><circle cx="612.52" cy="302.55" r="2.1"/><circle cx="614.09" cy="302.46" r="2.1"/><circle cx="616.52" cy="302" r="2.1"/><circle cx="619.54" cy="300.17" r="2.1"/><circle cx="622.17" cy="300.78" r="2.1"/><circle cx="624.05" cy="304.65" r="2.1"/><circle cx="626.1" cy="300.66" r="2.1"/><circle cx="629.02" cy="302.46" r="2.1"/><circle cx="631.9" cy="300.47" r="2.1"/><circle cx="633.49" cy="298.11" r="2.1"/><circle cx="636.02" cy="299.31" r="2.1"/><circle cx="638.42" cy="303.02" r="2.1"/><circle cx="640.16" cy="306.51" r="2.1"/><circle cx="643.64" cy="308.3" r="2.1"/><circle cx="645.76" cy="310.2" r="2.1"/><circle cx="647.96" cy="312.3" r="2.1"/><circle cx="650.05" cy="314.34" r="2.1"/><circle cx="652.57" cy="316.46" r="2.1"/><circle cx="655.95" cy="320.94" r="2.1"/><circle cx="657.93" cy="316.01" r="2.1"/><circle cx="659.72" cy="320.06" r="2.1"/><circle cx="662.81" cy="319.21" r="2.1"/><circle cx="665.11" cy="322.46" r="2.1"/><circle cx="666.93" cy="318.22" r="2.1"/><circle cx="670.12" cy="316.94" r="2.1"/><circle cx="672.45" cy="316.36" r="2.1"/><circle cx="673.73" cy="315.42" r="2.1"/><circle cx="676.21" cy="316.18" r="2.1"/><circle cx="679.85" cy="312.85" r="2.1"/><circle cx="682.34" cy="309.29" r="2.1"/><circle cx="684.01" cy="308.03" r="2.1"/><circle cx="685.78" cy="311.93" r="2.1"/><circle cx="688.18" cy="312.09" r="2.1"/><circle cx="691.39" cy="309.62" r="2.1"/><circle cx="692.98" cy="309.85" r="2.1"/><circle cx="696.57" cy="302.25" r="2.1"/><circle cx="697.99" cy="300.07" r="2.1"/><circle cx="700.91" cy="296.86" r="2.1"/><circle cx="703.78" cy="297.25" r="2.1"/><circle cx="706.03" cy="293.67" r="2.1"/><circle cx="708.35" cy="294.47" r="2.1"/><circle cx="710.74" cy="294.92" r="2.1"/><circle cx="713.68" cy="299.75" r="2.1"/><circle cx="715.83" cy="298.71" r="2.1"/><circle cx="717.21" cy="300.53" r="2.1"/><circle cx="719.51" cy="309.77" r="2.1"/><circle cx="722.15" cy="312.31" r="2.1"/><circle cx="724.47" cy="312.99" r="2.1"/><circle cx="726.9" cy="311.86" r="2.1"/><circle cx="730.1" cy="313.16" r="2.1"/><circle cx="732.81" cy="307.42" r="2.1"/><circle cx="734.13" cy="301.09" r="2.1"/><circle cx="736.44" cy="301.51" r="2.1"/><circle cx="739.4" cy="292.22" r="2.1"/><circle cx="741.45" cy="290.48" r="2.1"/><circle cx="744.4" cy="284.99" r="2.1"/><circle cx="745.77" cy="286.02" r="2.1"/><circle cx="749.41" cy="290.52" r="2.1"/><circle cx="750.86" cy="284.59" r="2.1"/><circle cx="753.39" cy="282.98" r="2.1"/><circle cx="756.5" cy="276.9" r="2.1"/><circle cx="758.23" cy="280.09" r="2.1"/><circle cx="761.61" cy="289.09" r="2.1"/><circle cx="764" cy="295.7" r="2.1"/><circle cx="765.91" cy="307.44" r="2.1"/><circle cx="768.79" cy="314.44" r="2.1"/><circle cx="770.07" cy="324.26" r="2.1"/><circle cx="773.62" cy="326.62" r="2.1"/><circle cx="775.03" cy="326.52" r="2.1"/><circle cx="777.61" cy="334.34" r="2.1"/><circle cx="779.87" cy="332.1" r="2.1"/><circle cx="782.6" cy="331.38" r="2.1"/></g>
<path d="M742.2 65 L742.2 309" fill="none" stroke="#2a2a2a" stroke-width="1.3" stroke-dasharray="4.5 3.2"/>
<path d="M756.6 80.5 L756.6 291" fill="none" stroke="#2a2a2a" stroke-width="1.3" stroke-dasharray="4.5 3.2"/>
<rect x="546.8" y="6.9" width="237.9" height="342.6" fill="none" stroke="#222" stroke-width="1.5"/>
<line x1="580.78" y1="349.5" x2="580.78" y2="352.5" stroke="#222" stroke-width="1"/>
<text x="580.78" y="364.8" font-size="12.6" text-anchor="middle" font-weight="normal" fill="#222" >880</text>
<line x1="614.77" y1="349.5" x2="614.77" y2="351" stroke="#222" stroke-width="1"/>
<line x1="648.75" y1="349.5" x2="648.75" y2="352.5" stroke="#222" stroke-width="1"/>
<text x="648.75" y="364.8" font-size="12.6" text-anchor="middle" font-weight="normal" fill="#222" >870</text>
<line x1="682.74" y1="349.5" x2="682.74" y2="351" stroke="#222" stroke-width="1"/>
<line x1="716.72" y1="349.5" x2="716.72" y2="352.5" stroke="#222" stroke-width="1"/>
<text x="716.72" y="364.8" font-size="12.6" text-anchor="middle" font-weight="normal" fill="#222" >860</text>
<line x1="750.71" y1="349.5" x2="750.71" y2="351" stroke="#222" stroke-width="1"/>
<line x1="784.69" y1="349.5" x2="784.69" y2="352.5" stroke="#222" stroke-width="1"/>
<text x="784.69" y="364.8" font-size="12.6" text-anchor="middle" font-weight="normal" fill="#222" >850</text>
<text x="665.9" y="386" font-size="14.7" text-anchor="middle" font-weight="normal" fill="#222" textLength="120.4" lengthAdjust="spacingAndGlyphs" >Binding energy (eV)</text>
<text transform="translate(529.8 173.6) rotate(-90)" font-size="14.6" text-anchor="middle" fill="#222" textLength="90.6" lengthAdjust="spacingAndGlyphs">Intensity (a. u.)</text>
<text x="512" y="25.6" font-size="35.5" text-anchor="start" font-weight="bold" fill="#111" >d</text>
<text x="737.5" y="27" font-size="12" text-anchor="start" font-weight="bold" fill="#111" textLength="27.4" lengthAdjust="spacingAndGlyphs" >Ni 2p</text>
<text x="552.2" y="121.4" font-size="10" text-anchor="start" font-weight="bold" fill="#1a1a1a" textLength="43" lengthAdjust="spacingAndGlyphs" >Ni2Ru1/C</text>
<text x="552.8" y="185.1" font-size="10" text-anchor="start" font-weight="bold" fill="#1a1a1a" textLength="41.4" lengthAdjust="spacingAndGlyphs" >Ni1Ru1/C</text>
<text x="552.8" y="255.9" font-size="10" text-anchor="start" font-weight="bold" fill="#1a1a1a" textLength="41.4" lengthAdjust="spacingAndGlyphs" >Ni1Ru2/C</text>
<text x="552.8" y="325.9" font-size="10" text-anchor="start" font-weight="bold" fill="#1a1a1a" textLength="41.4" lengthAdjust="spacingAndGlyphs" >Ni1Ru0/C</text>
<text x="571.5" y="80.6" font-size="8.5" text-anchor="start" font-weight="bold" fill="#1a1a1a" textLength="15.1" lengthAdjust="spacingAndGlyphs" >Sat.</text>
<text x="677" y="91.2" font-size="8.5" text-anchor="start" font-weight="bold" fill="#1a1a1a" textLength="13.5" lengthAdjust="spacingAndGlyphs" >Sat.</text>
<text x="592.8" y="74.1" font-size="9" text-anchor="start" font-weight="bold" fill="#1a1a1a" textLength="35" lengthAdjust="spacingAndGlyphs" >Ni<tspan font-size="6.3" dy="-3.8">2+</tspan><tspan dy="3.8"> 2p</tspan><tspan font-size="6.3" dy="2.2">1/2</tspan></text>
<text x="635.2" y="81.8" font-size="9" text-anchor="start" font-weight="bold" fill="#1a1a1a" textLength="31" lengthAdjust="spacingAndGlyphs" >Ni<tspan font-size="6.3" dy="-3.8">0</tspan><tspan dy="3.8"> 2p</tspan><tspan font-size="6.3" dy="2.2">1/2</tspan></text>
<text x="701.4" y="59.4" font-size="9" text-anchor="start" font-weight="bold" fill="#1a1a1a" textLength="36" lengthAdjust="spacingAndGlyphs" >Ni<tspan font-size="6.3" dy="-3.8">2+</tspan><tspan dy="3.8"> 2p</tspan><tspan font-size="6.3" dy="2.2">3/2</tspan></text>
<text x="752.7" y="53.9" font-size="9" text-anchor="start" font-weight="bold" fill="#1a1a1a" textLength="31.6" lengthAdjust="spacingAndGlyphs" >Ni<tspan font-size="6.3" dy="-3.8">0</tspan><tspan dy="3.8"> 2p</tspan><tspan font-size="6.3" dy="2.2">3/2</tspan></text>
<line x1="575.2" y1="82.5" x2="574.62" y2="90.02" stroke="#111" stroke-width="1.2"/>
<path d="M574.2 95.5 L572.33 89.84 L576.92 90.19 Z" fill="#111"/>
<line x1="584.6" y1="84" x2="589.48" y2="91.41" stroke="#111" stroke-width="1.2"/>
<path d="M592.5 96 L587.55 92.67 L591.4 90.14 Z" fill="#111"/>
<line x1="613.8" y1="77.3" x2="619.07" y2="91.35" stroke="#111" stroke-width="1.2"/>
<path d="M621 96.5 L616.92 92.16 L621.22 90.54 Z" fill="#111"/>
<line x1="645.3" y1="87" x2="641.7" y2="99.71" stroke="#111" stroke-width="1.2"/>
<path d="M640.2 105 L639.49 99.08 L643.91 100.34 Z" fill="#111"/>
<line x1="682" y1="93" x2="681.68" y2="102.5" stroke="#111" stroke-width="1.2"/>
<path d="M681.5 108 L679.38 102.43 L683.98 102.58 Z" fill="#111"/>
<line x1="690" y1="92" x2="696.48" y2="99.77" stroke="#111" stroke-width="1.2"/>
<path d="M700 104 L694.71 101.25 L698.25 98.3 Z" fill="#111"/>
<line x1="731" y1="62" x2="736.57" y2="76.85" stroke="#111" stroke-width="1.2"/>
<path d="M738.5 82 L734.42 77.66 L738.72 76.04 Z" fill="#111"/>
<line x1="767" y1="58" x2="762.66" y2="71.76" stroke="#111" stroke-width="1.2"/>
<path d="M761 77 L760.46 71.06 L764.85 72.45 Z" fill="#111"/>
</svg></body></html>
